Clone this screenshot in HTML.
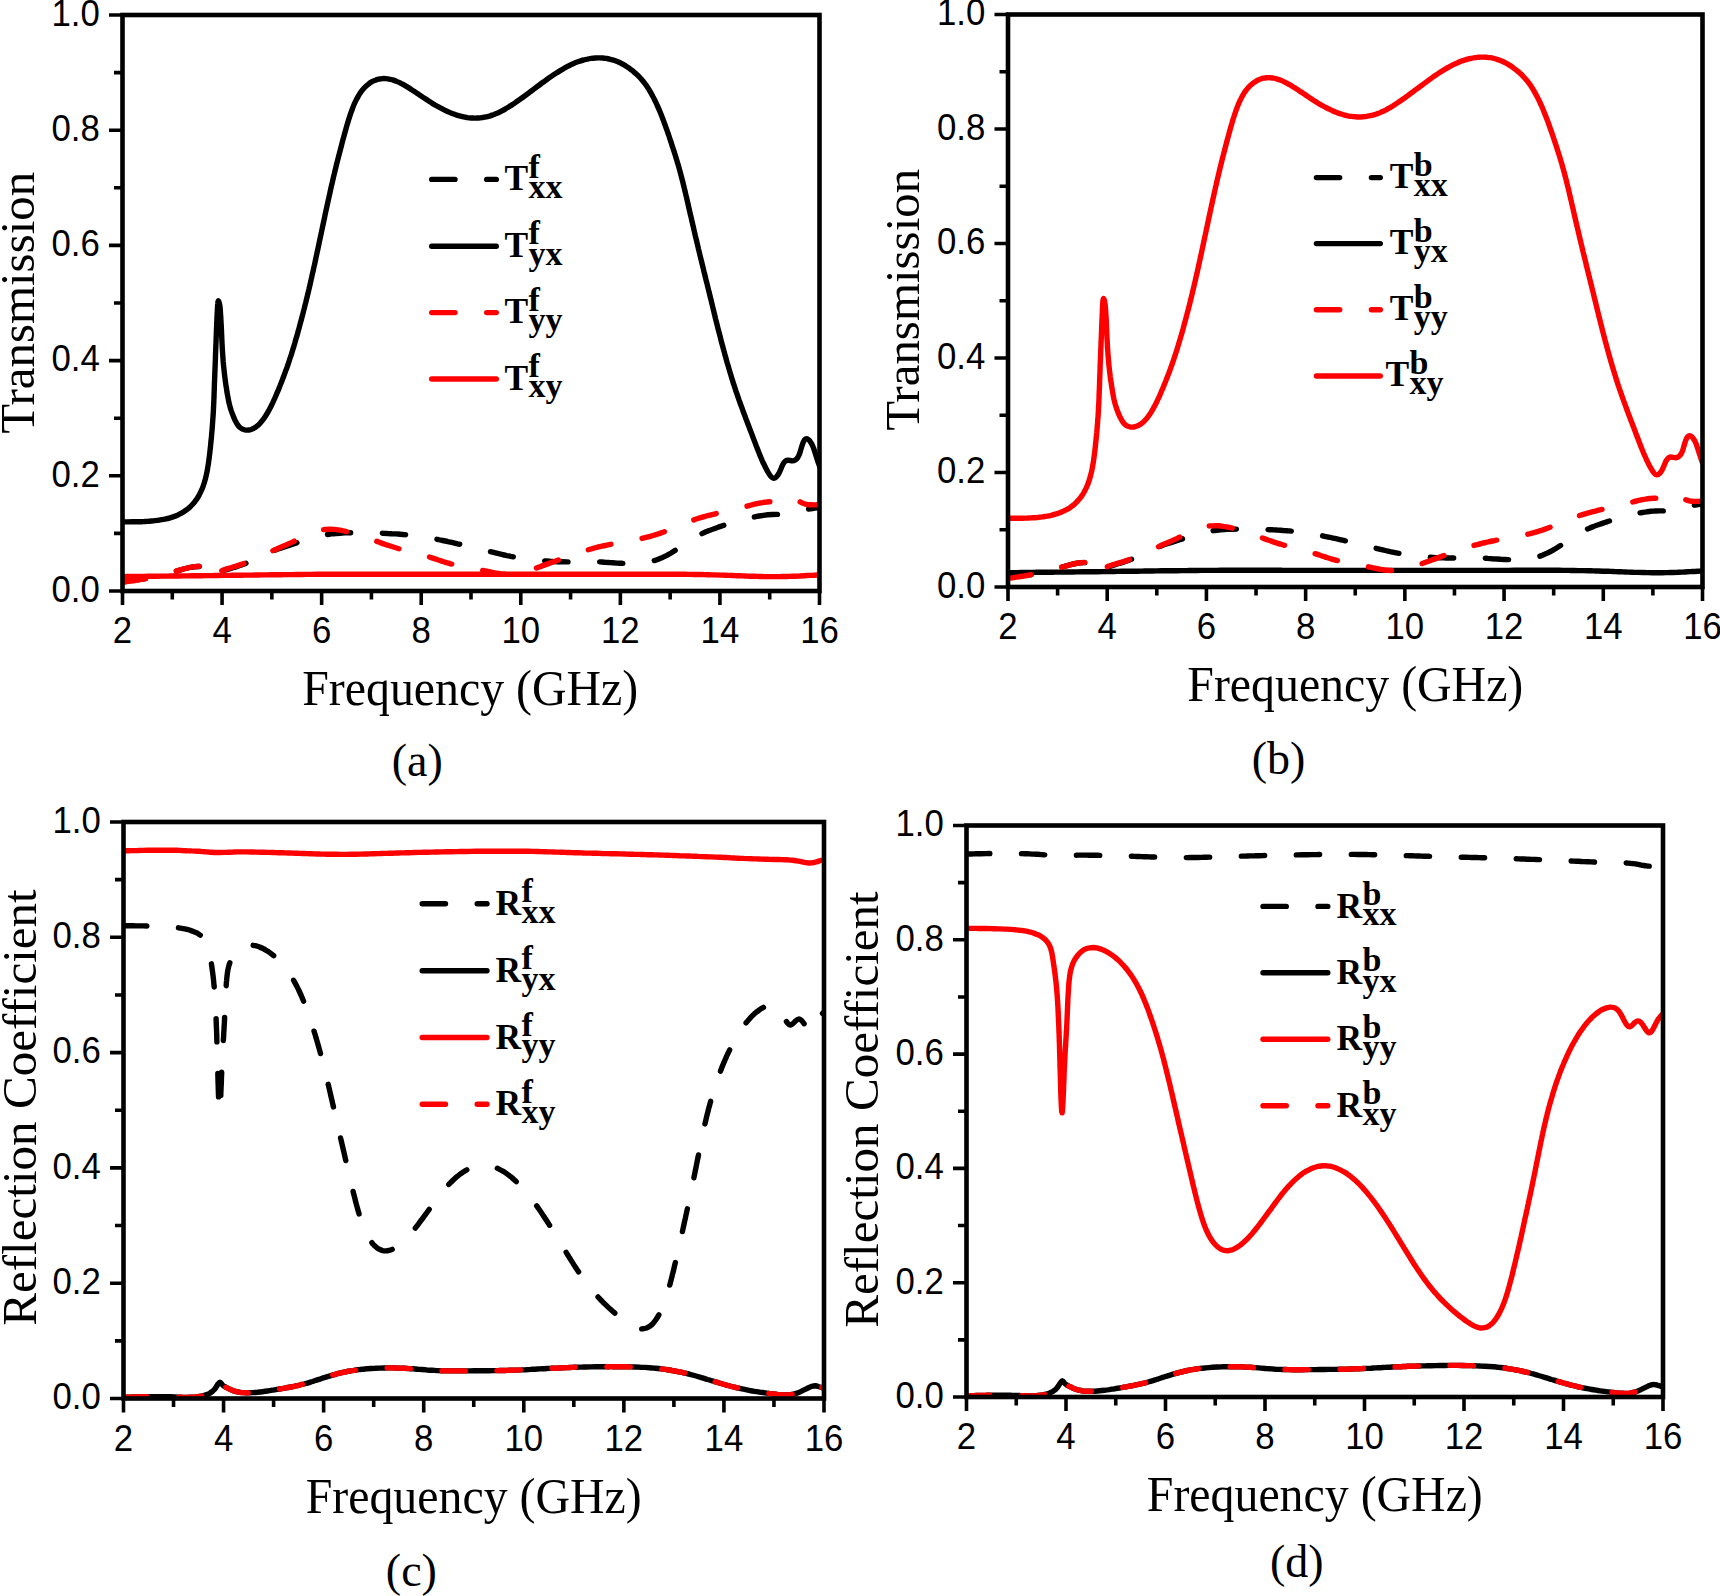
<!DOCTYPE html>
<html><head><meta charset="utf-8"><title>Transmission and Reflection Spectra</title>
<style>html,body{margin:0;padding:0;background:#fff;width:1720px;height:1596px;overflow:hidden}svg{display:block}</style>
</head><body>
<svg width="1720" height="1596" viewBox="0 0 1720 1596">
<rect width="1720" height="1596" fill="#fff"/>
<defs><clipPath id="clipa"><rect x="122.5" y="5" width="697" height="586"/></clipPath><clipPath id="clipb"><rect x="1008" y="4.5" width="694.5" height="582.5"/></clipPath><clipPath id="clipc"><rect x="123.5" y="812" width="700.5" height="586.5"/></clipPath><clipPath id="clipd"><rect x="966.5" y="815.5" width="696.5" height="581.5"/></clipPath></defs>
<g clip-path="url(#clipa)">
<path d="M122.50,580.63C124.2,580.5 125.8,580.4 127.5,580.3C129.2,580.2 130.8,580.1 132.5,579.9C134.2,579.8 135.8,579.7 137.5,579.5C139.1,579.3 140.8,579.2 142.4,579.0C144.1,578.7 145.7,578.5 147.4,578.3C149.0,578.0 150.6,577.7 152.2,577.4C153.7,577.1 155.3,576.8 156.9,576.4C158.5,576.0 160.1,575.7 161.6,575.3C163.2,574.9 164.8,574.4 166.4,574.0C167.9,573.6 169.5,573.1 171.1,572.7C172.6,572.2 174.2,571.7 175.8,571.3C177.4,570.8 179.0,570.3 180.6,569.8C182.2,569.3 183.8,568.9 185.4,568.5C187.1,568.1 188.7,567.7 190.3,567.4C191.9,567.1 193.5,566.8 195.2,566.7C196.8,566.5 198.4,566.4 200.1,566.5C201.6,566.5 203.2,566.7 204.8,566.9C206.4,567.2 208.0,567.5 209.6,567.9C210.7,568.2 211.8,568.5 212.7,569.0C213.7,569.4 214.5,570.0 215.1,570.9C215.5,571.6 215.8,572.4 216.1,573.2C216.4,574.1 216.7,574.9 217.2,575.5C217.6,576.0 218.1,576.4 218.5,576.4C219.4,576.3 219.7,574.1 220.6,572.7C221.6,571.3 223.1,570.7 224.5,570.2C226.1,569.7 227.7,569.2 229.2,568.8C230.8,568.3 232.3,567.9 233.9,567.4C235.4,567.0 236.9,566.5 238.5,566.0C240.0,565.5 241.5,565.0 243.0,564.5C244.4,564.0 245.7,563.4 247.1,562.8C248.5,562.2 249.8,561.6 251.2,561.0C252.5,560.3 253.9,559.7 255.2,559.0C256.6,558.3 257.9,557.7 259.3,557.0C260.6,556.3 262.0,555.7 263.3,555.0C264.7,554.4 266.1,553.8 267.4,553.1C268.9,552.5 270.3,551.9 271.8,551.3C273.3,550.7 274.7,550.2 276.2,549.7C277.7,549.1 279.2,548.6 280.7,548.1C282.2,547.6 283.7,547.1 285.2,546.6C286.7,546.1 288.2,545.6 289.7,545.1C291.2,544.6 292.7,544.2 294.2,543.7C295.6,543.2 297.0,542.8 298.3,542.3C299.7,541.9 301.1,541.4 302.4,541.0C303.8,540.5 305.2,540.1 306.5,539.6C307.9,539.2 309.3,538.8 310.7,538.4C312.0,538.0 313.4,537.6 314.8,537.2C316.2,536.8 317.6,536.5 319.0,536.1C320.4,535.8 321.8,535.5 323.2,535.2C324.5,535.0 325.9,534.7 327.3,534.5C328.7,534.3 330.1,534.1 331.5,533.9C332.9,533.8 334.3,533.6 335.8,533.5C337.2,533.4 338.6,533.3 340.0,533.2C341.4,533.1 342.8,533.0 344.3,532.9C345.7,532.9 347.1,532.8 348.5,532.8C350.0,532.8 351.4,532.7 352.9,532.7C354.3,532.7 355.8,532.7 357.2,532.7C358.6,532.7 360.1,532.7 361.5,532.7C363.0,532.7 364.4,532.7 365.9,532.8C367.3,532.8 368.8,532.8 370.2,532.8C371.7,532.9 373.1,532.9 374.6,533.0C376.0,533.0 377.5,533.1 378.9,533.1C380.3,533.2 381.7,533.2 383.1,533.3C384.5,533.3 386.0,533.4 387.4,533.5C388.8,533.5 390.2,533.6 391.6,533.7C393.0,533.7 394.4,533.8 395.8,533.9C397.2,534.0 398.7,534.1 400.1,534.2C401.5,534.3 402.9,534.4 404.3,534.6C405.9,534.7 407.5,534.9 409.1,535.1C410.7,535.2 412.3,535.4 413.9,535.6C415.6,535.8 417.2,536.0 418.8,536.3C420.4,536.5 422.0,536.7 423.6,537.0C425.2,537.2 426.8,537.5 428.4,537.7C430.0,538.0 431.6,538.3 433.2,538.6C434.8,538.9 436.4,539.2 438.1,539.5C439.7,539.9 441.3,540.2 442.9,540.5C444.6,540.9 446.2,541.2 447.8,541.6C449.5,541.9 451.1,542.3 452.7,542.6C454.3,543.0 455.9,543.4 457.6,543.8C459.2,544.1 460.8,544.5 462.4,544.9C464.0,545.2 465.6,545.6 467.2,546.0C468.8,546.4 470.4,546.8 472.0,547.2C473.6,547.5 475.2,547.9 476.8,548.3C478.4,548.7 480.0,549.1 481.6,549.5C483.2,549.9 484.8,550.3 486.4,550.7C487.8,551.0 489.1,551.4 490.5,551.7C491.8,552.0 493.2,552.4 494.5,552.7C495.9,553.0 497.2,553.4 498.6,553.7C500.0,554.0 501.3,554.3 502.7,554.6C504.0,555.0 505.4,555.3 506.7,555.6C508.1,555.8 509.5,556.1 510.8,556.4C512.5,556.7 514.1,557.0 515.7,557.3C517.3,557.6 518.9,557.9 520.6,558.1C522.2,558.4 523.8,558.6 525.5,558.8C527.1,559.0 528.7,559.3 530.4,559.5C532.0,559.7 533.6,559.8 535.3,560.0C536.9,560.2 538.6,560.3 540.2,560.5C541.7,560.6 543.1,560.7 544.6,560.9C546.1,561.0 547.5,561.1 549.0,561.2C550.5,561.3 551.9,561.4 553.4,561.5C554.8,561.5 556.3,561.6 557.8,561.7C559.3,561.7 560.7,561.8 562.2,561.8C563.7,561.8 565.1,561.8 566.6,561.9C568.2,561.9 569.8,561.9 571.4,561.8C573.0,561.8 574.6,561.8 576.2,561.8C577.8,561.8 579.4,561.7 581.0,561.7C582.6,561.7 584.2,561.7 585.8,561.6C587.4,561.6 589.1,561.6 590.7,561.6C592.3,561.7 593.9,561.7 595.5,561.7C596.9,561.8 598.3,561.8 599.8,561.9C601.2,562.0 602.7,562.1 604.1,562.2C605.5,562.3 607.0,562.4 608.4,562.5C609.8,562.6 611.3,562.7 612.7,562.8C614.2,562.9 615.6,563.0 617.0,563.1C618.5,563.2 619.9,563.3 621.4,563.3C622.7,563.4 624.1,563.5 625.5,563.5C626.8,563.5 628.2,563.6 629.6,563.6C630.9,563.6 632.3,563.6 633.7,563.5C635.0,563.5 636.4,563.4 637.8,563.4C639.1,563.3 640.3,563.2 641.6,563.1C642.9,562.9 644.2,562.8 645.4,562.6C646.7,562.4 648.0,562.2 649.2,561.9C650.8,561.6 652.3,561.2 653.8,560.7C655.3,560.3 656.8,559.8 658.3,559.2C659.8,558.6 661.2,558.0 662.7,557.4C664.1,556.7 665.5,556.0 666.9,555.3C668.3,554.5 669.7,553.8 671.1,553.0C672.4,552.2 673.7,551.4 675.0,550.5C676.3,549.7 677.6,548.9 678.9,548.0C680.1,547.1 681.4,546.3 682.7,545.4C683.9,544.5 685.2,543.7 686.5,542.8C687.7,541.9 689.0,541.1 690.3,540.3C691.6,539.4 692.8,538.6 694.1,537.8C695.4,537.0 696.8,536.3 698.1,535.6C699.4,534.9 700.7,534.2 702.0,533.6C703.3,533.0 704.6,532.4 705.9,531.8C707.3,531.3 708.6,530.7 710.0,530.2C711.3,529.7 712.7,529.2 714.1,528.7C715.5,528.2 716.8,527.7 718.2,527.2C719.6,526.8 721.0,526.3 722.4,525.8C723.9,525.3 725.5,524.8 727.0,524.3C728.5,523.9 730.1,523.4 731.6,522.9C733.2,522.4 734.7,522.0 736.3,521.5C737.8,521.1 739.4,520.6 740.9,520.2C742.5,519.8 744.0,519.4 745.6,519.0C747.2,518.6 748.7,518.2 750.3,517.8C751.8,517.5 753.2,517.2 754.7,516.9C756.1,516.6 757.6,516.3 759.0,516.0C760.5,515.8 761.9,515.6 763.4,515.4C764.9,515.2 766.4,515.0 767.8,514.8C769.3,514.7 770.8,514.6 772.2,514.5C773.7,514.4 775.2,514.4 776.7,514.4C777.6,514.4 778.5,514.4 779.4,514.4C780.3,514.4 781.3,514.4 782.2,514.4C783.7,514.3 785.3,514.2 786.8,514.0C788.3,513.7 789.8,513.4 791.4,513.1C792.9,512.8 794.4,512.4 795.9,512.0C797.5,511.6 799.0,511.3 800.5,510.9C802.0,510.5 803.5,510.1 805.1,509.8C806.7,509.4 808.3,509.1 809.9,508.9C811.5,508.6 813.1,508.4 814.7,508.1C816.3,507.9 817.9,507.7 819.5,507.5" fill="none" stroke="#000" stroke-width="5.4" stroke-linecap="round" stroke-linejoin="round" stroke-dasharray="23.3 31.7"/>
<path d="M122.50,521.89C124.2,521.9 125.9,521.9 127.5,521.9C129.2,521.9 130.9,521.9 132.6,521.8C134.2,521.8 135.9,521.8 137.6,521.8C138.9,521.7 140.2,521.7 141.5,521.7C142.8,521.6 144.1,521.6 145.4,521.5C146.7,521.4 148.0,521.3 149.3,521.2C150.6,521.1 151.9,521.0 153.2,520.9C154.7,520.8 156.1,520.6 157.5,520.4C158.9,520.2 160.4,520.0 161.8,519.7C163.2,519.5 164.6,519.2 166.0,518.9C167.4,518.6 168.8,518.2 170.1,517.8C171.4,517.4 172.6,517.0 173.8,516.6C175.0,516.2 176.2,515.7 177.4,515.2C178.7,514.6 180.0,513.9 181.3,513.2C182.5,512.5 183.8,511.8 185.0,510.9C185.8,510.4 186.7,509.7 187.5,509.1C188.3,508.5 189.1,507.8 189.9,507.1C190.8,506.2 191.7,505.3 192.6,504.3C193.5,503.4 194.3,502.4 195.1,501.3C195.9,500.3 196.6,499.3 197.3,498.2C198.0,497.1 198.6,496.0 199.3,494.8C199.9,493.7 200.5,492.5 201.0,491.3C201.5,490.3 201.9,489.2 202.4,488.2C202.8,487.1 203.2,486.0 203.6,484.9C204.0,483.8 204.3,482.7 204.6,481.6C205.1,480.1 205.5,478.6 205.8,477.2C206.2,475.7 206.5,474.2 206.8,472.8C207.1,471.3 207.4,469.8 207.6,468.3C207.9,466.8 208.1,465.3 208.4,463.7C208.6,462.2 208.8,460.7 209.0,459.1C209.2,457.6 209.4,456.1 209.6,454.5C209.8,453.0 210.0,451.4 210.1,449.9C210.3,448.4 210.5,446.8 210.6,445.3C210.8,443.8 210.9,442.4 211.0,441.0C211.2,439.6 211.3,438.1 211.5,436.7C211.6,435.3 211.7,433.9 211.8,432.4C212.0,431.0 212.1,429.6 212.2,428.1C212.3,426.7 212.4,425.3 212.5,423.9C212.6,422.4 212.7,421.0 212.8,419.6C212.9,418.2 213.0,416.7 213.1,415.3C213.2,413.8 213.3,412.4 213.4,410.9C213.4,409.4 213.5,407.9 213.6,406.5C213.7,405.0 213.7,403.5 213.8,402.0C213.8,400.6 213.9,399.1 214.0,397.6C214.0,396.1 214.1,394.6 214.1,393.1C214.2,391.7 214.2,390.2 214.3,388.7C214.3,387.2 214.4,385.7 214.4,384.2C214.5,382.6 214.6,381.1 214.6,379.6C214.7,377.9 214.7,376.3 214.8,374.6C214.8,372.9 214.9,371.2 215.0,369.5C215.0,367.8 215.1,366.2 215.2,364.5C215.2,362.8 215.3,361.1 215.4,359.5C215.4,357.8 215.5,356.2 215.5,354.5C215.6,352.9 215.7,351.3 215.7,349.7C215.8,348.1 215.9,346.5 215.9,345.0C216.0,343.5 216.0,341.9 216.1,340.5C216.1,339.1 216.2,337.8 216.2,336.5C216.3,335.2 216.3,333.9 216.4,332.6C216.4,331.3 216.5,330.0 216.5,328.7C216.6,327.3 216.7,325.9 216.7,324.5C216.8,323.1 216.8,321.6 216.9,320.0C217.0,318.5 217.0,316.8 217.1,315.1C217.2,313.4 217.3,311.6 217.4,309.7C217.5,307.5 217.6,305.2 217.8,303.5C217.9,301.8 218.2,300.7 218.5,300.9C218.8,301.1 219.0,301.7 219.2,302.5C219.6,303.7 219.8,305.1 220.0,306.7C220.1,308.3 220.3,309.9 220.4,311.6C220.5,313.4 220.6,315.1 220.7,316.8C220.9,318.5 220.9,320.2 221.0,321.8C221.1,323.4 221.2,325.0 221.3,326.6C221.3,328.1 221.4,329.7 221.5,331.2C221.5,332.8 221.6,334.3 221.7,335.8C221.7,337.4 221.8,338.9 221.9,340.4C221.9,341.8 222.0,343.2 222.1,344.6C222.2,346.0 222.2,347.4 222.3,348.9C222.4,350.3 222.5,351.7 222.6,353.1C222.7,354.6 222.8,356.0 222.9,357.4C223.0,358.9 223.1,360.3 223.2,361.8C223.4,363.2 223.5,364.6 223.6,366.1C223.8,367.5 223.9,369.0 224.1,370.4C224.2,371.9 224.4,373.3 224.6,374.8C224.7,376.3 224.9,377.7 225.1,379.2C225.3,380.6 225.5,382.1 225.7,383.6C225.9,385.0 226.1,386.5 226.4,387.9C226.6,389.4 226.8,390.8 227.0,392.3C227.3,393.9 227.6,395.5 227.9,397.1C228.2,398.7 228.5,400.3 228.8,401.9C229.2,403.5 229.6,405.1 230.0,406.7C230.3,407.8 230.7,408.9 231.0,410.0C231.4,411.2 231.8,412.3 232.2,413.4C232.6,414.5 233.0,415.6 233.5,416.7C234.1,418.1 234.6,419.4 235.3,420.7C235.9,422.0 236.6,423.3 237.3,424.4C238.1,425.5 238.9,426.5 239.9,427.4C240.7,428.2 241.7,428.8 242.7,429.2C243.7,429.7 244.7,430.0 245.8,430.1C246.9,430.2 247.9,430.2 249.0,430.0C250.0,429.9 251.1,429.6 252.1,429.1C253.1,428.7 254.1,428.2 255.0,427.6C256.0,427.0 256.9,426.3 257.8,425.5C258.7,424.7 259.5,423.9 260.3,423.0C261.4,421.8 262.4,420.5 263.4,419.2C264.4,417.8 265.3,416.4 266.2,415.0C267.1,413.5 268.0,412.0 268.8,410.5C269.5,409.3 270.1,408.1 270.7,406.8C271.4,405.6 272.0,404.3 272.6,403.1C273.2,401.8 273.8,400.5 274.3,399.3C274.9,398.0 275.4,396.7 276.0,395.5C276.5,394.2 277.0,393.0 277.6,391.8C278.1,390.6 278.6,389.3 279.1,388.1C279.6,386.9 280.1,385.7 280.5,384.5C281.0,383.3 281.5,382.0 282.0,380.8C282.6,379.3 283.1,377.8 283.7,376.4C284.2,374.9 284.8,373.4 285.3,371.9C285.9,370.4 286.4,368.9 287.0,367.4C287.5,366.0 288.0,364.5 288.5,363.1C289.0,361.6 289.5,360.1 289.9,358.7C290.4,357.2 290.9,355.8 291.4,354.3C291.8,353.1 292.1,351.8 292.5,350.6C292.9,349.4 293.3,348.2 293.7,346.9C294.0,345.7 294.4,344.5 294.8,343.2C295.1,342.0 295.5,340.7 295.8,339.5C296.2,338.2 296.6,336.9 297.0,335.6C297.3,334.3 297.7,332.9 298.1,331.6C298.4,330.3 298.8,329.0 299.2,327.7C299.5,326.3 299.9,325.0 300.2,323.7C300.6,322.3 301.0,320.9 301.4,319.5C301.7,318.1 302.1,316.7 302.5,315.3C302.8,314.0 303.2,312.6 303.5,311.2C303.9,309.8 304.3,308.4 304.6,307.0C305.0,305.4 305.4,303.9 305.8,302.4C306.1,300.9 306.5,299.3 306.9,297.8C307.3,296.3 307.6,294.7 308.0,293.2C308.4,291.7 308.7,290.1 309.1,288.6C309.4,287.1 309.8,285.5 310.2,284.0C310.5,282.5 310.9,280.9 311.2,279.4C311.6,277.9 311.9,276.3 312.2,274.8C312.6,273.3 312.9,271.7 313.3,270.2C313.6,268.6 313.9,267.1 314.3,265.6C314.6,264.0 315.0,262.5 315.3,261.0C315.6,259.4 316.0,257.9 316.3,256.3C316.6,254.8 317.0,253.2 317.3,251.6C317.6,250.1 318.0,248.5 318.3,246.9C318.6,245.4 319.0,243.8 319.3,242.2C319.6,240.7 320.0,239.1 320.3,237.5C320.6,236.0 321.0,234.4 321.3,232.8C321.6,231.3 322.0,229.7 322.3,228.1C322.6,226.6 322.9,225.0 323.3,223.5C323.6,222.0 323.9,220.4 324.3,218.9C324.6,217.4 324.9,215.8 325.2,214.3C325.6,212.8 325.9,211.2 326.2,209.7C326.6,208.1 326.9,206.6 327.2,205.1C327.6,203.5 327.9,202.0 328.2,200.5C328.6,199.0 328.9,197.5 329.2,196.0C329.6,194.5 329.9,193.0 330.2,191.4C330.6,189.9 330.9,188.4 331.2,186.9C331.6,185.4 331.9,183.9 332.3,182.4C332.6,180.9 333.0,179.4 333.3,177.9C333.7,176.4 334.0,174.9 334.4,173.4C334.7,171.9 335.1,170.4 335.5,168.8C335.9,167.3 336.2,165.7 336.6,164.2C337.0,162.7 337.4,161.1 337.8,159.6C338.2,158.0 338.6,156.5 339.0,155.0C339.4,153.4 339.8,151.9 340.2,150.3C340.6,148.8 341.0,147.2 341.4,145.7C341.8,144.1 342.2,142.6 342.6,141.0C343.0,139.5 343.5,137.9 343.9,136.3C344.3,134.8 344.7,133.2 345.2,131.7C345.6,130.0 346.1,128.4 346.5,126.8C347.0,125.2 347.5,123.5 348.0,121.9C348.4,120.3 349.0,118.7 349.5,117.1C350.0,115.4 350.5,113.8 351.1,112.2C351.6,110.9 352.1,109.5 352.6,108.2C353.1,106.9 353.6,105.5 354.2,104.2C354.8,102.9 355.4,101.6 356.0,100.4C356.6,99.1 357.3,97.9 358.0,96.6C358.7,95.4 359.4,94.3 360.2,93.1C360.9,92.0 361.7,90.9 362.6,89.8C363.5,88.8 364.4,87.8 365.3,86.8C366.3,85.8 367.4,84.9 368.5,84.1C369.6,83.2 370.8,82.4 372.0,81.7C373.1,81.2 374.2,80.6 375.3,80.2C376.5,79.7 377.6,79.4 378.8,79.1C380.0,78.9 381.1,78.7 382.2,78.6C383.4,78.5 384.5,78.5 385.7,78.6C386.9,78.7 388.0,78.8 389.2,79.1C390.4,79.3 391.5,79.6 392.7,79.9C393.9,80.3 395.1,80.7 396.2,81.2C397.4,81.6 398.5,82.2 399.7,82.7C400.9,83.3 402.1,83.9 403.3,84.5C404.4,85.2 405.6,85.9 406.8,86.6C408.0,87.3 409.2,88.0 410.3,88.8C411.5,89.5 412.7,90.3 413.8,91.1C415.0,91.9 416.1,92.6 417.3,93.4C418.4,94.2 419.6,95.0 420.7,95.7C421.9,96.5 423.1,97.3 424.2,98.1C425.4,98.9 426.6,99.7 427.8,100.4C428.9,101.2 430.1,101.9 431.3,102.7C432.4,103.4 433.6,104.1 434.8,104.8C435.9,105.4 436.9,106.1 438.0,106.7C439.1,107.3 440.2,107.9 441.3,108.4C442.4,109.0 443.5,109.6 444.7,110.2C445.8,110.7 447.0,111.3 448.1,111.8C449.3,112.3 450.5,112.8 451.6,113.3C452.9,113.8 454.3,114.3 455.6,114.7C456.9,115.2 458.2,115.6 459.5,115.9C460.9,116.3 462.2,116.6 463.6,116.9C464.8,117.2 466.1,117.4 467.3,117.6C468.6,117.7 469.9,117.9 471.1,118.0C472.4,118.0 473.7,118.1 474.9,118.1C476.2,118.1 477.5,118.0 478.8,118.0C480.1,117.9 481.3,117.7 482.6,117.5C483.9,117.3 485.1,117.1 486.4,116.8C487.7,116.5 489.0,116.2 490.3,115.8C491.6,115.4 492.8,114.9 494.1,114.5C495.4,114.0 496.6,113.4 497.8,112.9C499.2,112.3 500.6,111.6 501.9,110.9C503.3,110.2 504.6,109.4 505.9,108.6C507.2,107.9 508.5,107.1 509.8,106.2C511.2,105.4 512.5,104.5 513.8,103.7C515.1,102.8 516.3,101.9 517.6,101.0C518.9,100.1 520.2,99.2 521.5,98.3C522.7,97.4 524.0,96.4 525.3,95.5C526.6,94.5 527.8,93.6 529.1,92.7C530.4,91.7 531.6,90.8 532.9,89.8C534.2,88.8 535.5,87.9 536.8,86.9C538.1,85.9 539.4,85.0 540.7,84.0C542.0,83.0 543.4,82.1 544.7,81.1C545.9,80.2 547.2,79.2 548.5,78.3C549.8,77.4 551.1,76.5 552.4,75.6C553.7,74.7 555.0,73.9 556.4,73.0C557.6,72.2 558.9,71.4 560.2,70.6C561.5,69.8 562.8,69.0 564.1,68.3C565.4,67.5 566.8,66.8 568.1,66.1C569.4,65.5 570.6,64.9 571.9,64.3C573.2,63.7 574.5,63.1 575.8,62.6C577.1,62.1 578.5,61.6 579.8,61.2C581.1,60.7 582.3,60.3 583.6,60.0C584.9,59.6 586.2,59.3 587.5,59.1C588.8,58.8 590.1,58.6 591.4,58.4C592.7,58.2 593.9,58.1 595.2,58.0C596.5,57.9 597.7,57.9 599.0,57.9C600.3,57.9 601.5,57.9 602.8,58.0C604.1,58.1 605.3,58.3 606.6,58.5C607.9,58.7 609.1,59.0 610.3,59.3C611.6,59.6 612.8,59.9 614.0,60.3C615.3,60.8 616.6,61.3 617.9,61.8C619.2,62.4 620.5,63.0 621.7,63.6C622.7,64.2 623.7,64.7 624.7,65.3C625.6,65.9 626.6,66.5 627.5,67.1C628.5,67.8 629.4,68.4 630.3,69.1C631.5,70.0 632.7,70.9 633.9,71.9C635.0,72.9 636.2,73.9 637.3,74.9C638.3,75.9 639.3,76.9 640.3,78.0C641.2,79.0 642.2,80.1 643.1,81.2C644.0,82.3 644.8,83.5 645.7,84.6C646.5,85.8 647.3,87.0 648.1,88.1C649.0,89.5 649.8,90.9 650.6,92.3C651.4,93.7 652.2,95.1 652.9,96.5C653.7,97.9 654.4,99.4 655.1,100.8C655.8,102.3 656.5,103.7 657.1,105.2C657.8,106.6 658.4,108.0 659.0,109.4C659.6,110.8 660.2,112.3 660.8,113.7C661.3,115.1 661.9,116.5 662.5,118.0C663.0,119.4 663.6,120.9 664.1,122.3C664.6,123.8 665.2,125.2 665.7,126.7C666.2,128.0 666.7,129.4 667.2,130.8C667.6,132.2 668.1,133.5 668.6,134.9C669.1,136.3 669.5,137.7 670.0,139.1C670.5,140.5 670.9,141.9 671.4,143.2C671.8,144.6 672.3,146.0 672.7,147.4C673.2,148.8 673.7,150.3 674.1,151.7C674.6,153.1 675.0,154.5 675.5,156.0C675.9,157.4 676.3,158.8 676.8,160.3C677.2,161.7 677.6,163.1 678.1,164.6C678.5,166.0 678.9,167.4 679.3,168.9C679.7,170.3 680.1,171.8 680.5,173.2C680.9,174.7 681.3,176.1 681.6,177.6C682.0,179.0 682.4,180.5 682.8,181.9C683.1,183.4 683.5,184.8 683.8,186.3C684.2,187.8 684.6,189.2 684.9,190.7C685.3,192.2 685.6,193.7 686.0,195.3C686.4,196.8 686.7,198.3 687.1,199.9C687.4,201.4 687.8,202.9 688.1,204.5C688.5,206.0 688.8,207.6 689.2,209.1C689.5,210.6 689.9,212.2 690.2,213.7C690.6,215.2 690.9,216.6 691.3,218.1C691.6,219.5 691.9,221.0 692.3,222.5C692.6,223.9 692.9,225.4 693.3,226.8C693.6,228.3 694.0,229.8 694.3,231.2C694.6,232.7 695.0,234.1 695.3,235.6C695.7,237.1 696.0,238.6 696.4,240.1C696.7,241.6 697.1,243.1 697.5,244.6C697.8,246.1 698.2,247.6 698.5,249.1C698.9,250.6 699.3,252.1 699.6,253.6C700.0,255.1 700.3,256.6 700.7,258.1C701.0,259.5 701.4,260.9 701.7,262.3C702.1,263.8 702.4,265.2 702.8,266.6C703.1,268.0 703.5,269.4 703.8,270.9C704.2,272.3 704.5,273.7 704.9,275.1C705.2,276.5 705.6,278.0 705.9,279.4C706.3,280.8 706.6,282.2 707.0,283.5C707.3,284.9 707.6,286.3 708.0,287.7C708.3,289.1 708.7,290.5 709.0,291.8C709.4,293.2 709.7,294.6 710.0,296.0C710.4,297.4 710.7,298.8 711.1,300.1C711.4,301.7 711.8,303.2 712.2,304.8C712.5,306.3 712.9,307.8 713.3,309.4C713.7,310.9 714.0,312.4 714.4,314.0C714.8,315.5 715.2,317.1 715.5,318.6C715.9,320.1 716.3,321.7 716.7,323.2C717.1,324.7 717.4,326.2 717.8,327.7C718.2,329.2 718.6,330.8 719.0,332.3C719.4,333.8 719.8,335.3 720.2,336.8C720.5,338.3 720.9,339.8 721.3,341.3C721.7,342.7 722.0,344.0 722.4,345.3C722.8,346.7 723.1,348.0 723.5,349.3C723.8,350.7 724.2,352.0 724.6,353.3C724.9,354.6 725.3,356.0 725.7,357.3C726.1,358.8 726.5,360.3 726.9,361.8C727.4,363.4 727.8,364.9 728.3,366.4C728.7,367.9 729.1,369.4 729.6,370.9C730.0,372.4 730.5,373.9 731.0,375.4C731.4,376.8 731.8,378.3 732.3,379.7C732.7,381.1 733.2,382.5 733.6,383.9C734.1,385.3 734.5,386.7 735.0,388.2C735.5,389.6 735.9,391.0 736.4,392.4C736.8,393.6 737.3,394.9 737.7,396.1C738.1,397.4 738.6,398.6 739.0,399.9C739.4,401.1 739.9,402.4 740.3,403.6C740.8,404.8 741.2,406.1 741.7,407.3C742.3,408.9 742.8,410.4 743.4,412.0C744.0,413.5 744.6,415.1 745.1,416.6C745.7,418.1 746.3,419.7 746.9,421.2C747.5,422.7 748.0,424.3 748.6,425.8C749.2,427.3 749.8,428.8 750.3,430.3C750.9,431.8 751.5,433.3 752.1,434.9C752.6,436.3 753.1,437.7 753.7,439.1C754.2,440.5 754.7,441.9 755.3,443.3C755.8,444.7 756.3,446.1 756.9,447.5C757.4,448.9 758.0,450.3 758.5,451.7C759.1,453.0 759.6,454.5 760.2,455.9C760.8,457.3 761.4,458.7 762.0,460.1C762.6,461.4 763.2,462.8 763.9,464.1C764.5,465.5 765.2,466.9 765.9,468.2C766.6,469.6 767.4,471.1 768.2,472.5C769.0,473.9 769.9,475.3 770.8,476.4C771.7,477.5 772.7,478.2 773.7,478.3C774.6,478.3 775.5,477.7 776.4,476.8C777.3,476.0 778.1,474.8 778.8,473.6C779.4,472.4 779.9,471.3 780.4,470.2C780.9,469.0 781.3,467.9 781.7,466.8C782.2,465.7 782.7,464.6 783.3,463.6C783.8,462.8 784.4,462.0 785.1,461.3C785.8,460.7 786.6,460.3 787.5,460.2C788.3,460.1 789.1,460.3 790.0,460.5C790.9,460.7 791.8,460.9 792.7,460.9C793.5,460.9 794.3,460.6 795.0,460.2C795.7,459.8 796.3,459.2 796.9,458.6C797.7,457.7 798.3,456.7 798.8,455.5C799.4,454.4 799.8,453.2 800.2,451.9C800.6,450.6 800.9,449.1 801.4,447.6C801.8,446.2 802.3,444.7 802.8,443.3C803.3,442.0 803.9,440.8 804.5,439.9C805.2,439.1 805.9,438.6 806.7,438.6C807.4,438.7 808.1,439.1 808.8,439.8C809.4,440.5 810.1,441.4 810.7,442.3C811.5,443.4 812.1,444.6 812.6,445.8C813.1,447.0 813.6,448.2 814.0,449.4C814.4,450.6 814.8,451.9 815.2,453.1C815.5,454.2 815.8,455.3 816.2,456.3C816.5,457.4 816.9,458.5 817.2,459.5C817.6,460.6 817.9,461.7 818.3,462.7C818.7,463.8 819.1,464.9 819.5,466.0" fill="none" stroke="#000" stroke-width="5.4" stroke-linecap="round" stroke-linejoin="round"/>
<path d="M122.50,582.36C123.9,582.2 125.3,582.0 126.7,581.7C128.0,581.5 129.4,581.3 130.8,581.1C132.2,580.9 133.6,580.7 135.0,580.5C136.4,580.3 137.7,580.0 139.1,579.8C140.5,579.6 141.9,579.3 143.3,579.1C144.6,578.8 146.0,578.6 147.4,578.3C149.0,578.0 150.6,577.7 152.1,577.3C153.7,577.0 155.3,576.6 156.9,576.3C158.5,575.9 160.0,575.5 161.6,575.1C163.2,574.7 164.8,574.3 166.3,573.9C167.9,573.5 169.5,573.0 171.1,572.6C172.6,572.2 174.2,571.7 175.8,571.3C177.4,570.8 179.0,570.3 180.6,569.8C182.2,569.4 183.8,568.9 185.4,568.5C187.1,568.1 188.7,567.7 190.3,567.4C191.9,567.0 193.5,566.8 195.2,566.6C196.8,566.4 198.4,566.3 200.1,566.2C201.6,566.2 203.2,566.3 204.8,566.5C206.4,566.7 208.0,567.0 209.6,567.4C210.7,567.7 211.8,568.0 212.7,568.4C213.7,568.9 214.5,569.5 215.1,570.3C215.6,571.0 215.9,571.9 216.1,572.8C216.4,573.7 216.7,574.7 217.2,575.6C217.6,576.3 218.1,576.9 218.5,576.9C219.3,577.0 219.3,574.4 220.1,572.7C220.6,571.8 221.2,571.2 222.0,570.7C222.8,570.3 223.7,570.0 224.5,569.7C226.1,569.1 227.7,568.7 229.3,568.2C230.8,567.7 232.4,567.3 233.9,566.8C235.4,566.3 237.0,565.9 238.5,565.4C240.0,564.9 241.5,564.4 243.0,563.9C244.4,563.4 245.7,562.9 247.1,562.3C248.5,561.8 249.8,561.2 251.2,560.6C252.5,560.0 253.9,559.4 255.2,558.8C256.6,558.2 258.0,557.5 259.3,556.9C260.6,556.3 262.0,555.6 263.3,555.0C264.7,554.4 266.1,553.7 267.4,553.1C268.8,552.5 270.2,551.8 271.6,551.2C273.0,550.6 274.4,550.0 275.8,549.4C277.3,548.8 278.7,548.2 280.1,547.6C281.5,547.0 282.9,546.4 284.3,545.7C285.7,545.1 287.1,544.5 288.5,543.8C289.9,543.2 291.3,542.5 292.7,541.9C294.0,541.2 295.4,540.6 296.7,539.9C298.0,539.2 299.3,538.6 300.6,537.9C301.9,537.3 303.2,536.6 304.5,536.0C305.9,535.3 307.2,534.7 308.5,534.1C309.8,533.6 311.2,533.0 312.5,532.5C313.9,532.0 315.2,531.6 316.6,531.1C318.0,530.7 319.3,530.4 320.7,530.1C322.2,529.8 323.7,529.6 325.1,529.5C326.6,529.4 328.1,529.3 329.6,529.3C331.1,529.3 332.5,529.3 334.0,529.4C335.4,529.6 336.8,529.7 338.2,529.9C339.6,530.1 341.0,530.4 342.4,530.7C343.8,530.9 345.1,531.2 346.5,531.6C348.1,532.0 349.6,532.4 351.2,532.8C352.7,533.2 354.2,533.7 355.8,534.1C357.3,534.6 358.8,535.1 360.3,535.6C361.9,536.1 363.4,536.6 364.9,537.1C366.4,537.6 367.9,538.2 369.4,538.7C370.9,539.2 372.4,539.8 373.9,540.3C375.5,540.9 377.0,541.4 378.6,542.0C380.1,542.6 381.7,543.1 383.2,543.7C384.8,544.2 386.4,544.8 387.9,545.3C389.5,545.8 391.0,546.3 392.6,546.8C394.2,547.3 395.8,547.8 397.3,548.3C398.9,548.8 400.5,549.2 402.1,549.6C403.7,550.1 405.3,550.5 406.9,550.9C408.5,551.3 410.1,551.7 411.8,552.1C413.4,552.5 415.0,552.9 416.6,553.3C418.2,553.8 419.8,554.2 421.4,554.6C423.0,555.1 424.6,555.5 426.2,556.0C427.5,556.4 428.9,556.8 430.2,557.3C431.6,557.7 433.0,558.2 434.3,558.6C435.7,559.1 437.0,559.5 438.4,560.0C439.7,560.4 441.1,560.9 442.4,561.3C443.8,561.8 445.2,562.2 446.5,562.6C447.9,563.0 449.2,563.4 450.6,563.8C452.2,564.2 453.8,564.6 455.4,565.0C457.0,565.3 458.5,565.7 460.1,566.0C461.7,566.3 463.3,566.6 465.0,566.9C466.6,567.3 468.2,567.5 469.8,567.8C471.4,568.1 473.0,568.4 474.6,568.7C476.2,569.1 477.8,569.4 479.5,569.7C480.9,570.0 482.3,570.3 483.7,570.6C485.1,570.9 486.5,571.2 487.9,571.5C489.3,571.8 490.8,572.1 492.2,572.4C493.6,572.7 495.0,573.0 496.4,573.2C497.8,573.5 499.2,573.7 500.7,573.9C502.1,574.0 503.5,574.2 504.9,574.3C506.1,574.4 507.3,574.4 508.5,574.4C509.7,574.4 510.9,574.4 512.1,574.4C513.3,574.3 514.5,574.2 515.7,574.0C517.2,573.8 518.6,573.5 520.0,573.2C521.5,572.9 522.9,572.5 524.3,572.1C525.7,571.7 527.1,571.2 528.5,570.8C529.9,570.3 531.3,569.8 532.7,569.3C534.1,568.8 535.5,568.3 536.8,567.8C538.2,567.4 539.5,566.9 540.9,566.4C542.3,565.9 543.6,565.4 545.0,564.9C546.3,564.4 547.7,563.9 549.0,563.4C550.4,562.9 551.7,562.4 553.1,561.9C554.4,561.4 555.8,561.0 557.1,560.5C558.7,559.9 560.2,559.3 561.7,558.7C563.3,558.2 564.8,557.6 566.4,557.0C567.9,556.5 569.5,555.9 571.0,555.4C572.6,554.8 574.1,554.3 575.7,553.8C577.2,553.2 578.8,552.7 580.3,552.2C581.9,551.7 583.4,551.2 585.0,550.7C586.4,550.3 587.8,549.9 589.2,549.5C590.6,549.1 592.0,548.7 593.4,548.3C594.8,547.9 596.2,547.6 597.6,547.2C599.0,546.9 600.5,546.5 601.9,546.2C603.3,545.9 604.7,545.6 606.1,545.3C607.6,545.0 609.0,544.7 610.4,544.4C612.0,544.1 613.6,543.8 615.1,543.5C616.7,543.2 618.3,542.9 619.9,542.7C621.4,542.4 623.0,542.1 624.6,541.8C626.2,541.6 627.8,541.3 629.3,541.0C630.9,540.7 632.5,540.4 634.1,540.1C635.6,539.8 637.2,539.5 638.8,539.2C640.2,538.9 641.5,538.6 642.9,538.2C644.3,537.9 645.6,537.6 647.0,537.2C648.4,536.9 649.7,536.5 651.1,536.1C652.4,535.7 653.8,535.3 655.1,534.9C656.5,534.5 657.8,534.0 659.2,533.6C660.5,533.1 661.8,532.7 663.1,532.2C664.5,531.7 665.8,531.2 667.2,530.6C668.5,530.1 669.8,529.6 671.2,529.0C672.5,528.4 673.8,527.9 675.1,527.3C676.5,526.8 677.8,526.2 679.1,525.6C680.4,525.1 681.7,524.5 683.1,524.0C684.4,523.4 685.7,522.9 687.1,522.3C688.4,521.8 689.7,521.3 691.1,520.8C692.5,520.3 694.0,519.8 695.4,519.3C696.8,518.8 698.3,518.4 699.8,517.9C701.2,517.5 702.7,517.1 704.1,516.6C705.6,516.2 707.1,515.8 708.6,515.4C710.0,515.1 711.5,514.7 713.0,514.3C714.5,514.0 715.9,513.6 717.4,513.2C718.9,512.9 720.5,512.5 722.0,512.2C723.5,511.8 725.0,511.5 726.6,511.1C728.1,510.8 729.6,510.4 731.1,510.1C732.6,509.7 734.2,509.4 735.7,509.0C737.2,508.6 738.7,508.3 740.2,507.9C741.8,507.5 743.3,507.1 744.8,506.7C746.3,506.4 747.7,506.0 749.2,505.6C750.6,505.2 752.1,504.8 753.5,504.4C755.0,504.1 756.5,503.7 757.9,503.4C759.4,503.1 760.9,502.8 762.3,502.6C763.8,502.3 765.3,502.1 766.8,502.0C768.2,501.8 769.7,501.7 771.2,501.7C772.4,501.7 773.6,501.8 774.9,501.8C776.1,501.8 777.3,501.8 778.5,501.7C779.7,501.6 781.0,501.5 782.2,501.1C783.3,500.8 784.4,500.4 785.6,499.9C786.7,499.5 787.8,499.1 788.9,498.7C790.0,498.4 791.1,498.2 792.1,498.3C793.2,498.3 794.3,498.7 795.4,499.2C796.5,499.7 797.6,500.3 798.7,501.0C799.8,501.7 800.9,502.3 802.1,502.9C803.4,503.5 804.8,504.0 806.2,504.3C807.7,504.6 809.1,504.8 810.6,504.8C812.0,504.9 813.5,504.9 815.0,504.9C816.5,504.8 818.0,504.7 819.5,504.6" fill="none" stroke="#ff0000" stroke-width="5.4" stroke-linecap="round" stroke-linejoin="round" stroke-dasharray="23.3 31.7"/>
<path d="M122.50,576.60C124.2,576.6 125.8,576.6 127.5,576.5C129.1,576.5 130.8,576.5 132.5,576.5C134.1,576.5 135.8,576.4 137.4,576.4C139.1,576.4 140.8,576.4 142.4,576.4C144.1,576.4 145.7,576.3 147.4,576.3C149.1,576.3 150.7,576.3 152.4,576.3C154.0,576.2 155.7,576.2 157.4,576.2C159.0,576.2 160.7,576.2 162.3,576.1C164.0,576.1 165.6,576.1 167.3,576.1C169.0,576.1 170.6,576.0 172.3,576.0C173.9,576.0 175.6,576.0 177.3,576.0C178.9,576.0 180.6,575.9 182.2,575.9C183.9,575.9 185.6,575.9 187.2,575.9C188.9,575.8 190.5,575.8 192.2,575.8C193.9,575.8 195.5,575.8 197.2,575.7C198.8,575.7 200.5,575.7 202.2,575.7C203.8,575.7 205.5,575.6 207.1,575.6C208.8,575.6 210.5,575.6 212.1,575.6C213.8,575.6 215.4,575.5 217.1,575.5C218.8,575.5 220.4,575.5 222.1,575.4C223.7,575.4 225.4,575.4 227.0,575.4C228.7,575.4 230.4,575.3 232.0,575.3C233.7,575.3 235.3,575.3 237.0,575.3C238.7,575.2 240.3,575.2 242.0,575.2C243.6,575.2 245.3,575.1 247.0,575.1C248.6,575.1 250.3,575.1 251.9,575.1C253.6,575.0 255.3,575.0 256.9,575.0C258.6,575.0 260.2,574.9 261.9,574.9C263.6,574.9 265.2,574.9 266.9,574.9C268.5,574.8 270.2,574.8 271.9,574.8C273.5,574.8 275.2,574.8 276.8,574.7C278.5,574.7 280.2,574.7 281.8,574.7C283.5,574.7 285.1,574.6 286.8,574.6C288.5,574.6 290.1,574.6 291.8,574.6C293.4,574.5 295.1,574.5 296.7,574.5C298.4,574.5 300.1,574.5 301.7,574.5C303.4,574.4 305.0,574.4 306.7,574.4C308.4,574.4 310.0,574.4 311.7,574.4C313.3,574.4 315.0,574.4 316.7,574.3C318.3,574.3 320.0,574.3 321.6,574.3C323.3,574.3 325.0,574.3 326.6,574.3C328.3,574.3 329.9,574.3 331.6,574.3C333.3,574.3 334.9,574.2 336.6,574.2C338.2,574.2 339.9,574.2 341.6,574.2C343.2,574.2 344.9,574.2 346.5,574.2C348.2,574.2 349.9,574.2 351.5,574.2C353.2,574.2 354.8,574.2 356.5,574.2C358.2,574.2 359.8,574.2 361.5,574.2C363.1,574.2 364.8,574.2 366.4,574.2C368.1,574.2 369.8,574.2 371.4,574.2C373.1,574.2 374.7,574.2 376.4,574.2C378.1,574.2 379.7,574.2 381.4,574.2C383.0,574.2 384.7,574.2 386.4,574.2C388.0,574.2 389.7,574.2 391.3,574.2C393.0,574.2 394.7,574.2 396.3,574.2C398.0,574.2 399.6,574.2 401.3,574.3C403.0,574.3 404.6,574.3 406.3,574.3C407.9,574.3 409.6,574.3 411.3,574.3C412.9,574.3 414.6,574.3 416.2,574.3C417.9,574.3 419.6,574.3 421.2,574.3C422.9,574.3 424.5,574.3 426.2,574.3C427.9,574.3 429.5,574.3 431.2,574.3C432.8,574.3 434.5,574.3 436.2,574.3C437.8,574.3 439.5,574.3 441.1,574.3C442.8,574.3 444.4,574.3 446.1,574.3C447.8,574.3 449.4,574.3 451.1,574.3C452.7,574.3 454.4,574.3 456.1,574.3C457.7,574.3 459.4,574.3 461.0,574.3C462.7,574.3 464.4,574.3 466.0,574.3C467.7,574.3 469.3,574.3 471.0,574.3C472.7,574.3 474.3,574.3 476.0,574.3C477.6,574.3 479.3,574.3 481.0,574.3C482.6,574.3 484.3,574.3 485.9,574.3C487.6,574.3 489.3,574.3 490.9,574.3C492.6,574.3 494.2,574.3 495.9,574.3C497.6,574.3 499.2,574.3 500.9,574.3C502.5,574.3 504.2,574.3 505.9,574.3C507.5,574.3 509.2,574.3 510.8,574.3C512.5,574.3 514.1,574.3 515.8,574.3C517.5,574.3 519.1,574.3 520.8,574.3C522.4,574.3 524.1,574.3 525.8,574.3C527.4,574.3 529.1,574.3 530.7,574.3C532.4,574.3 534.1,574.3 535.7,574.3C537.4,574.3 539.0,574.3 540.7,574.3C542.4,574.3 544.0,574.3 545.7,574.3C547.3,574.3 549.0,574.3 550.7,574.3C552.3,574.3 554.0,574.3 555.6,574.3C557.3,574.3 559.0,574.3 560.6,574.3C562.3,574.3 563.9,574.3 565.6,574.3C567.3,574.3 568.9,574.3 570.6,574.3C572.2,574.3 573.9,574.3 575.5,574.3C577.2,574.3 578.9,574.3 580.5,574.3C582.2,574.3 583.8,574.3 585.5,574.3C587.2,574.3 588.8,574.3 590.5,574.3C592.1,574.3 593.8,574.3 595.5,574.3C597.1,574.3 598.8,574.3 600.4,574.3C602.1,574.3 603.8,574.3 605.4,574.3C607.1,574.3 608.7,574.3 610.4,574.3C612.1,574.3 613.7,574.3 615.4,574.3C617.0,574.3 618.7,574.3 620.4,574.3C622.0,574.3 623.7,574.3 625.3,574.3C627.0,574.2 628.7,574.2 630.3,574.2C632.0,574.2 633.6,574.2 635.3,574.2C637.0,574.2 638.6,574.2 640.3,574.2C641.9,574.2 643.6,574.2 645.3,574.2C646.9,574.2 648.6,574.2 650.2,574.2C651.9,574.2 653.5,574.2 655.2,574.2C656.9,574.2 658.5,574.2 660.2,574.2C661.8,574.2 663.5,574.2 665.2,574.2C666.8,574.2 668.5,574.2 670.1,574.2C671.8,574.2 673.5,574.2 675.1,574.2C676.8,574.3 678.4,574.3 680.1,574.3C681.8,574.3 683.4,574.3 685.1,574.3C686.7,574.3 688.4,574.4 690.1,574.4C691.7,574.4 693.4,574.4 695.0,574.5C696.7,574.5 698.4,574.5 700.0,574.5C701.7,574.6 703.3,574.6 705.0,574.6C706.7,574.7 708.3,574.7 710.0,574.8C711.6,574.8 713.3,574.9 715.0,574.9C716.6,574.9 718.3,575.0 719.9,575.1C721.6,575.1 723.2,575.2 724.9,575.2C726.6,575.3 728.2,575.4 729.9,575.4C731.5,575.5 733.2,575.5 734.9,575.6C736.5,575.7 738.2,575.7 739.8,575.8C741.5,575.9 743.2,575.9 744.8,576.0C746.5,576.1 748.1,576.1 749.8,576.2C751.5,576.2 753.1,576.3 754.8,576.3C756.4,576.4 758.1,576.4 759.8,576.5C761.4,576.5 763.1,576.5 764.7,576.6C766.4,576.6 768.1,576.6 769.7,576.6C771.4,576.6 773.0,576.6 774.7,576.6C776.4,576.6 778.0,576.6 779.7,576.6C781.3,576.6 783.0,576.5 784.7,576.5C786.3,576.5 788.0,576.4 789.6,576.4C791.3,576.3 792.9,576.3 794.6,576.2C796.3,576.1 797.9,576.0 799.6,576.0C801.2,575.9 802.9,575.8 804.6,575.7C806.2,575.6 807.9,575.5 809.5,575.4C811.2,575.4 812.9,575.3 814.5,575.2C816.2,575.1 817.8,575.0 819.5,574.9" fill="none" stroke="#ff0000" stroke-width="5.4" stroke-linecap="round" stroke-linejoin="round"/>
</g>
<rect x="122.5" y="15" width="697" height="576" fill="none" stroke="#000" stroke-width="4.6"/>
<path d="M122.5 591V605M172.29 591V599.6M222.07 591V605M271.86 591V599.6M321.64 591V605M371.43 591V599.6M421.21 591V605M471 591V599.6M520.79 591V605M570.57 591V599.6M620.36 591V605M670.14 591V599.6M719.93 591V605M769.71 591V599.6M819.5 591V605M122.5 591H109M122.5 533.4H114M122.5 475.8H109M122.5 418.2H114M122.5 360.6H109M122.5 303H114M122.5 245.4H109M122.5 187.8H114M122.5 130.2H109M122.5 72.6H114M122.5 15H109" stroke="#000" stroke-width="3.6" fill="none"/>
<g font-family="'Liberation Sans', Arial, sans-serif" font-size="37" fill="#000">
<text transform="translate(122.5 642.8) scale(0.94 1)" text-anchor="middle">2</text>
<text transform="translate(222.07 642.8) scale(0.94 1)" text-anchor="middle">4</text>
<text transform="translate(321.64 642.8) scale(0.94 1)" text-anchor="middle">6</text>
<text transform="translate(421.21 642.8) scale(0.94 1)" text-anchor="middle">8</text>
<text transform="translate(520.79 642.8) scale(0.94 1)" text-anchor="middle">10</text>
<text transform="translate(620.36 642.8) scale(0.94 1)" text-anchor="middle">12</text>
<text transform="translate(719.93 642.8) scale(0.94 1)" text-anchor="middle">14</text>
<text transform="translate(819.5 642.8) scale(0.94 1)" text-anchor="middle">16</text>
<text transform="translate(99.8 601.8) scale(0.94 1)" text-anchor="end">0.0</text>
<text transform="translate(99.8 486.6) scale(0.94 1)" text-anchor="end">0.2</text>
<text transform="translate(99.8 371.4) scale(0.94 1)" text-anchor="end">0.4</text>
<text transform="translate(99.8 256.2) scale(0.94 1)" text-anchor="end">0.6</text>
<text transform="translate(99.8 141) scale(0.94 1)" text-anchor="end">0.8</text>
<text transform="translate(99.8 25.8) scale(0.94 1)" text-anchor="end">1.0</text>
</g>
<text x="470.25" y="704.8" font-family="'Liberation Serif', 'Times New Roman', serif" font-size="50" text-anchor="middle" textLength="336" lengthAdjust="spacingAndGlyphs">Frequency (GHz)</text>
<text transform="translate(33.8 302.75) rotate(-90)" font-family="'Liberation Serif', 'Times New Roman', serif" font-size="49" text-anchor="middle" textLength="262" lengthAdjust="spacingAndGlyphs" style="font-variant-ligatures:none">Transmission</text>
<text x="417.25" y="776.4" font-family="'Liberation Serif', 'Times New Roman', serif" font-size="46" text-anchor="middle">(a)</text>
<path d="M431.7 179.4H496.3" stroke="#000" stroke-width="5.4" stroke-linecap="round" stroke-dasharray="23.3 31.7"/>
<path d="M431.7 246.3H496.3" stroke="#000" stroke-width="5.4" stroke-linecap="round"/>
<path d="M431.7 312.6H496.3" stroke="#ff0000" stroke-width="5.4" stroke-linecap="round" stroke-dasharray="23.3 31.7"/>
<path d="M431.7 379H496.3" stroke="#ff0000" stroke-width="5.4" stroke-linecap="round"/>
<g font-family="'Liberation Serif', 'Times New Roman', serif" font-weight="bold" fill="#000">
<text x="504.6" y="190" font-size="35.5">T</text>
<text x="528.58" y="177.5" font-size="34">f</text>
<text x="528.58" y="197.8" font-size="34">xx</text>
<text x="504.6" y="256.9" font-size="35.5">T</text>
<text x="528.58" y="244.4" font-size="34">f</text>
<text x="528.58" y="264.7" font-size="34">yx</text>
<text x="504.6" y="323.2" font-size="35.5">T</text>
<text x="528.58" y="310.7" font-size="34">f</text>
<text x="528.58" y="331" font-size="34">yy</text>
<text x="504.6" y="389.6" font-size="35.5">T</text>
<text x="528.58" y="377.1" font-size="34">f</text>
<text x="528.58" y="397.4" font-size="34">xy</text>
</g>
<g clip-path="url(#clipb)">
<path d="M1008.00,576.70C1009.7,576.6 1011.3,576.5 1013.0,576.4C1014.6,576.3 1016.3,576.1 1018.0,576.0C1019.6,575.9 1021.3,575.7 1022.9,575.6C1024.6,575.4 1026.2,575.2 1027.9,575.0C1029.5,574.8 1031.2,574.6 1032.8,574.3C1034.4,574.1 1036.0,573.8 1037.5,573.5C1039.1,573.2 1040.7,572.8 1042.3,572.5C1043.9,572.1 1045.4,571.7 1047.0,571.3C1048.6,570.9 1050.1,570.5 1051.7,570.1C1053.3,569.7 1054.8,569.2 1056.4,568.8C1058.0,568.3 1059.5,567.9 1061.1,567.4C1062.7,566.9 1064.3,566.4 1065.9,565.9C1067.5,565.5 1069.1,565.0 1070.7,564.6C1072.3,564.2 1073.9,563.8 1075.6,563.5C1077.2,563.2 1078.8,563.0 1080.4,562.8C1082.0,562.7 1083.6,562.6 1085.3,562.6C1086.8,562.7 1088.4,562.8 1090.0,563.1C1091.6,563.3 1093.2,563.7 1094.8,564.1C1095.9,564.4 1096.9,564.7 1097.9,565.1C1098.8,565.6 1099.7,566.2 1100.2,567.0C1101.1,568.4 1101.4,570.4 1102.4,571.6C1102.8,572.1 1103.2,572.5 1103.6,572.5C1104.5,572.4 1104.9,570.2 1105.8,568.8C1106.7,567.4 1108.2,566.9 1109.7,566.4C1111.2,565.8 1112.8,565.4 1114.3,564.9C1115.9,564.4 1117.4,564.0 1119.0,563.5C1120.5,563.1 1122.0,562.6 1123.5,562.2C1125.1,561.7 1126.6,561.2 1128.0,560.6C1129.4,560.1 1130.8,559.6 1132.2,559.0C1133.5,558.4 1134.9,557.8 1136.2,557.1C1137.6,556.5 1138.9,555.9 1140.3,555.2C1141.6,554.5 1142.9,553.9 1144.3,553.2C1145.6,552.6 1147.0,551.9 1148.3,551.3C1149.7,550.6 1151.0,550.0 1152.4,549.4C1153.9,548.7 1155.3,548.1 1156.8,547.6C1158.2,547.0 1159.7,546.4 1161.2,545.9C1162.7,545.4 1164.1,544.8 1165.6,544.3C1167.1,543.8 1168.6,543.3 1170.1,542.9C1171.6,542.4 1173.1,541.9 1174.6,541.4C1176.1,540.9 1177.6,540.4 1179.1,539.9C1180.5,539.5 1181.8,539.1 1183.2,538.6C1184.6,538.2 1185.9,537.7 1187.3,537.3C1188.7,536.8 1190.0,536.4 1191.4,535.9C1192.8,535.5 1194.1,535.1 1195.5,534.7C1196.9,534.3 1198.2,533.9 1199.6,533.5C1201.0,533.1 1202.4,532.8 1203.8,532.5C1205.2,532.1 1206.5,531.8 1207.9,531.6C1209.3,531.3 1210.7,531.1 1212.1,530.8C1213.5,530.6 1214.9,530.4 1216.3,530.3C1217.7,530.1 1219.1,530.0 1220.5,529.8C1221.9,529.7 1223.3,529.6 1224.7,529.5C1226.1,529.4 1227.5,529.4 1229.0,529.3C1230.4,529.2 1231.8,529.2 1233.2,529.2C1234.6,529.1 1236.1,529.1 1237.5,529.1C1239.0,529.0 1240.4,529.0 1241.9,529.0C1243.3,529.0 1244.7,529.0 1246.2,529.0C1247.6,529.1 1249.1,529.1 1250.5,529.1C1252.0,529.1 1253.4,529.2 1254.8,529.2C1256.3,529.2 1257.7,529.3 1259.2,529.3C1260.6,529.4 1262.0,529.4 1263.5,529.5C1264.9,529.5 1266.3,529.6 1267.7,529.6C1269.1,529.7 1270.5,529.7 1271.9,529.8C1273.3,529.9 1274.7,529.9 1276.1,530.0C1277.5,530.1 1279.0,530.2 1280.4,530.3C1281.8,530.4 1283.2,530.5 1284.6,530.6C1286.0,530.7 1287.4,530.8 1288.8,530.9C1290.4,531.1 1292.0,531.2 1293.6,531.4C1295.2,531.6 1296.8,531.8 1298.4,532.0C1300.0,532.1 1301.6,532.4 1303.2,532.6C1304.8,532.8 1306.4,533.0 1308.0,533.3C1309.6,533.5 1311.2,533.8 1312.8,534.1C1314.4,534.3 1316.0,534.6 1317.5,534.9C1319.2,535.2 1320.8,535.5 1322.4,535.8C1324.1,536.2 1325.7,536.5 1327.3,536.8C1328.9,537.2 1330.5,537.5 1332.2,537.9C1333.8,538.2 1335.4,538.6 1337.0,538.9C1338.6,539.3 1340.2,539.7 1341.9,540.0C1343.5,540.4 1345.1,540.8 1346.7,541.2C1348.3,541.5 1349.9,541.9 1351.5,542.3C1353.1,542.7 1354.7,543.0 1356.3,543.4C1357.9,543.8 1359.5,544.2 1361.1,544.6C1362.6,545.0 1364.2,545.4 1365.8,545.7C1367.4,546.1 1369.0,546.5 1370.6,546.9C1372.2,547.3 1373.9,547.7 1375.5,548.1C1377.1,548.5 1378.7,548.9 1380.3,549.3C1381.9,549.7 1383.6,550.1 1385.2,550.5C1386.8,550.9 1388.4,551.2 1390.1,551.6C1391.7,551.9 1393.3,552.3 1394.9,552.6C1396.6,552.9 1398.2,553.2 1399.8,553.5C1401.4,553.8 1403.0,554.1 1404.6,554.3C1406.3,554.6 1407.9,554.8 1409.5,555.0C1411.1,555.2 1412.8,555.5 1414.4,555.6C1416.0,555.8 1417.7,556.0 1419.3,556.2C1420.9,556.4 1422.6,556.5 1424.2,556.7C1425.7,556.8 1427.1,556.9 1428.6,557.0C1430.0,557.2 1431.5,557.3 1433.0,557.4C1434.4,557.5 1435.9,557.6 1437.3,557.6C1438.8,557.7 1440.3,557.8 1441.7,557.8C1443.2,557.9 1444.6,557.9 1446.1,558.0C1447.6,558.0 1449.0,558.0 1450.5,558.0C1452.1,558.0 1453.7,558.0 1455.3,558.0C1456.9,558.0 1458.5,558.0 1460.1,558.0C1461.7,557.9 1463.3,557.9 1464.9,557.9C1466.5,557.9 1468.1,557.8 1469.7,557.8C1471.3,557.8 1472.9,557.8 1474.5,557.8C1476.1,557.8 1477.7,557.9 1479.3,557.9C1480.7,558.0 1482.1,558.0 1483.6,558.1C1485.0,558.2 1486.4,558.3 1487.9,558.4C1489.3,558.4 1490.7,558.5 1492.2,558.7C1493.6,558.8 1495.0,558.9 1496.5,559.0C1497.9,559.1 1499.3,559.2 1500.8,559.3C1502.2,559.3 1503.6,559.4 1505.1,559.5C1506.4,559.6 1507.8,559.6 1509.2,559.7C1510.5,559.7 1511.9,559.7 1513.2,559.7C1514.6,559.7 1516.0,559.7 1517.3,559.7C1518.7,559.7 1520.1,559.6 1521.4,559.5C1522.7,559.4 1524.0,559.4 1525.3,559.2C1526.5,559.1 1527.8,559.0 1529.1,558.8C1530.3,558.6 1531.6,558.4 1532.8,558.1C1534.4,557.8 1535.9,557.4 1537.4,556.9C1538.9,556.5 1540.4,556.0 1541.9,555.4C1543.3,554.8 1544.8,554.2 1546.2,553.6C1547.7,552.9 1549.1,552.2 1550.5,551.5C1551.9,550.8 1553.2,550.0 1554.6,549.2C1555.9,548.4 1557.2,547.6 1558.5,546.8C1559.8,546.0 1561.1,545.1 1562.4,544.3C1563.6,543.4 1564.9,542.5 1566.2,541.7C1567.4,540.8 1568.7,539.9 1569.9,539.1C1571.2,538.2 1572.5,537.4 1573.7,536.6C1575.0,535.7 1576.3,534.9 1577.6,534.1C1578.9,533.4 1580.2,532.6 1581.5,531.9C1582.8,531.2 1584.1,530.6 1585.4,530.0C1586.7,529.3 1588.0,528.7 1589.4,528.2C1590.7,527.6 1592.0,527.1 1593.4,526.6C1594.7,526.0 1596.1,525.5 1597.5,525.0C1598.8,524.5 1600.2,524.1 1601.6,523.6C1603.0,523.1 1604.3,522.7 1605.7,522.2C1607.3,521.7 1608.8,521.2 1610.3,520.8C1611.9,520.3 1613.4,519.8 1614.9,519.3C1616.5,518.8 1618.0,518.4 1619.6,517.9C1621.1,517.5 1622.7,517.0 1624.2,516.6C1625.8,516.2 1627.3,515.8 1628.9,515.4C1630.4,515.0 1632.0,514.6 1633.6,514.3C1635.0,513.9 1636.4,513.6 1637.9,513.3C1639.3,513.0 1640.8,512.8 1642.2,512.5C1643.7,512.3 1645.2,512.0 1646.6,511.8C1648.1,511.6 1649.5,511.4 1651.0,511.3C1652.5,511.2 1653.9,511.1 1655.4,511.0C1656.9,510.9 1658.4,510.9 1659.8,510.9C1660.7,510.9 1661.7,510.9 1662.6,510.9C1663.5,510.9 1664.4,510.9 1665.3,510.9C1666.8,510.8 1668.4,510.6 1669.9,510.4C1671.4,510.2 1673.0,509.9 1674.5,509.6C1676.0,509.3 1677.5,508.9 1679.0,508.5C1680.5,508.1 1682.0,507.7 1683.6,507.4C1685.1,507.0 1686.6,506.6 1688.1,506.3C1689.7,505.9 1691.3,505.6 1692.9,505.4C1694.5,505.1 1696.1,504.9 1697.7,504.6C1699.3,504.4 1700.9,504.2 1702.5,504.0" fill="none" stroke="#000" stroke-width="5.4" stroke-linecap="round" stroke-linejoin="round" stroke-dasharray="23.3 31.7"/>
<path d="M1008.00,572.69C1009.7,572.7 1011.3,572.6 1013.0,572.6C1014.6,572.6 1016.3,572.6 1017.9,572.6C1019.6,572.6 1021.2,572.5 1022.9,572.5C1024.5,572.5 1026.2,572.5 1027.8,572.5C1029.5,572.4 1031.2,572.4 1032.8,572.4C1034.5,572.4 1036.1,572.4 1037.8,572.3C1039.4,572.3 1041.1,572.3 1042.7,572.3C1044.4,572.3 1046.0,572.3 1047.7,572.2C1049.3,572.2 1051.0,572.2 1052.6,572.2C1054.3,572.2 1056.0,572.1 1057.6,572.1C1059.3,572.1 1060.9,572.1 1062.6,572.1C1064.2,572.0 1065.9,572.0 1067.5,572.0C1069.2,572.0 1070.8,572.0 1072.5,572.0C1074.1,571.9 1075.8,571.9 1077.5,571.9C1079.1,571.9 1080.8,571.9 1082.4,571.8C1084.1,571.8 1085.7,571.8 1087.4,571.8C1089.0,571.8 1090.7,571.7 1092.3,571.7C1094.0,571.7 1095.6,571.7 1097.3,571.7C1098.9,571.6 1100.6,571.6 1102.3,571.6C1103.9,571.6 1105.6,571.6 1107.2,571.5C1108.9,571.5 1110.5,571.5 1112.2,571.5C1113.8,571.5 1115.5,571.4 1117.1,571.4C1118.8,571.4 1120.4,571.4 1122.1,571.3C1123.7,571.3 1125.4,571.3 1127.1,571.3C1128.7,571.3 1130.4,571.2 1132.0,571.2C1133.7,571.2 1135.3,571.2 1137.0,571.2C1138.6,571.1 1140.3,571.1 1141.9,571.1C1143.6,571.1 1145.2,571.0 1146.9,571.0C1148.6,571.0 1150.2,571.0 1151.9,571.0C1153.5,570.9 1155.2,570.9 1156.8,570.9C1158.5,570.9 1160.1,570.9 1161.8,570.8C1163.4,570.8 1165.1,570.8 1166.7,570.8C1168.4,570.8 1170.0,570.7 1171.7,570.7C1173.4,570.7 1175.0,570.7 1176.7,570.7C1178.3,570.6 1180.0,570.6 1181.6,570.6C1183.3,570.6 1184.9,570.6 1186.6,570.6C1188.2,570.6 1189.9,570.5 1191.5,570.5C1193.2,570.5 1194.9,570.5 1196.5,570.5C1198.2,570.5 1199.8,570.5 1201.5,570.4C1203.1,570.4 1204.8,570.4 1206.4,570.4C1208.1,570.4 1209.7,570.4 1211.4,570.4C1213.0,570.4 1214.7,570.4 1216.3,570.4C1218.0,570.4 1219.7,570.4 1221.3,570.3C1223.0,570.3 1224.6,570.3 1226.3,570.3C1227.9,570.3 1229.6,570.3 1231.2,570.3C1232.9,570.3 1234.5,570.3 1236.2,570.3C1237.8,570.3 1239.5,570.3 1241.2,570.3C1242.8,570.3 1244.5,570.3 1246.1,570.3C1247.8,570.3 1249.4,570.3 1251.1,570.3C1252.7,570.3 1254.4,570.3 1256.0,570.3C1257.7,570.3 1259.3,570.3 1261.0,570.3C1262.6,570.3 1264.3,570.3 1266.0,570.3C1267.6,570.3 1269.3,570.3 1270.9,570.3C1272.6,570.3 1274.2,570.3 1275.9,570.3C1277.5,570.3 1279.2,570.3 1280.8,570.3C1282.5,570.3 1284.1,570.4 1285.8,570.4C1287.5,570.4 1289.1,570.4 1290.8,570.4C1292.4,570.4 1294.1,570.4 1295.7,570.4C1297.4,570.4 1299.0,570.4 1300.7,570.4C1302.3,570.4 1304.0,570.4 1305.6,570.4C1307.3,570.4 1308.9,570.4 1310.6,570.4C1312.3,570.4 1313.9,570.4 1315.6,570.4C1317.2,570.4 1318.9,570.4 1320.5,570.4C1322.2,570.4 1323.8,570.4 1325.5,570.4C1327.1,570.4 1328.8,570.4 1330.4,570.4C1332.1,570.4 1333.8,570.4 1335.4,570.4C1337.1,570.4 1338.7,570.4 1340.4,570.4C1342.0,570.4 1343.7,570.4 1345.3,570.4C1347.0,570.4 1348.6,570.4 1350.3,570.4C1351.9,570.4 1353.6,570.4 1355.3,570.4C1356.9,570.4 1358.6,570.4 1360.2,570.4C1361.9,570.4 1363.5,570.4 1365.2,570.4C1366.8,570.4 1368.5,570.4 1370.1,570.4C1371.8,570.4 1373.4,570.4 1375.1,570.4C1376.7,570.4 1378.4,570.4 1380.1,570.4C1381.7,570.4 1383.4,570.4 1385.0,570.4C1386.7,570.4 1388.3,570.4 1390.0,570.4C1391.6,570.4 1393.3,570.4 1394.9,570.4C1396.6,570.4 1398.2,570.4 1399.9,570.4C1401.5,570.4 1403.2,570.4 1404.9,570.4C1406.5,570.4 1408.2,570.4 1409.8,570.4C1411.5,570.4 1413.1,570.4 1414.8,570.4C1416.4,570.4 1418.1,570.4 1419.7,570.4C1421.4,570.4 1423.0,570.4 1424.7,570.4C1426.4,570.4 1428.0,570.4 1429.7,570.4C1431.3,570.4 1433.0,570.4 1434.6,570.4C1436.3,570.4 1437.9,570.4 1439.6,570.4C1441.2,570.4 1442.9,570.4 1444.5,570.4C1446.2,570.4 1447.8,570.4 1449.5,570.4C1451.2,570.4 1452.8,570.4 1454.5,570.4C1456.1,570.4 1457.8,570.4 1459.4,570.4C1461.1,570.4 1462.7,570.4 1464.4,570.4C1466.0,570.4 1467.7,570.4 1469.3,570.4C1471.0,570.4 1472.7,570.4 1474.3,570.4C1476.0,570.4 1477.6,570.4 1479.3,570.4C1480.9,570.4 1482.6,570.4 1484.2,570.4C1485.9,570.4 1487.5,570.4 1489.2,570.4C1490.8,570.4 1492.5,570.4 1494.1,570.4C1495.8,570.4 1497.5,570.4 1499.1,570.4C1500.8,570.4 1502.4,570.4 1504.1,570.4C1505.7,570.4 1507.4,570.4 1509.0,570.4C1510.7,570.3 1512.3,570.3 1514.0,570.3C1515.6,570.3 1517.3,570.3 1519.0,570.3C1520.6,570.3 1522.3,570.3 1523.9,570.3C1525.6,570.3 1527.2,570.3 1528.9,570.3C1530.5,570.3 1532.2,570.3 1533.8,570.3C1535.5,570.3 1537.1,570.3 1538.8,570.3C1540.5,570.3 1542.1,570.3 1543.8,570.3C1545.4,570.3 1547.1,570.3 1548.7,570.3C1550.4,570.3 1552.0,570.3 1553.7,570.3C1555.3,570.3 1557.0,570.3 1558.6,570.3C1560.3,570.4 1561.9,570.4 1563.6,570.4C1565.3,570.4 1566.9,570.4 1568.6,570.4C1570.2,570.4 1571.9,570.5 1573.5,570.5C1575.2,570.5 1576.8,570.5 1578.5,570.6C1580.1,570.6 1581.8,570.6 1583.4,570.6C1585.1,570.7 1586.8,570.7 1588.4,570.7C1590.1,570.8 1591.7,570.8 1593.4,570.9C1595.0,570.9 1596.7,571.0 1598.3,571.0C1600.0,571.0 1601.6,571.1 1603.3,571.2C1604.9,571.2 1606.6,571.3 1608.2,571.3C1609.9,571.4 1611.6,571.4 1613.2,571.5C1614.9,571.6 1616.5,571.6 1618.2,571.7C1619.8,571.8 1621.5,571.8 1623.1,571.9C1624.8,572.0 1626.4,572.0 1628.1,572.1C1629.7,572.1 1631.4,572.2 1633.1,572.3C1634.7,572.3 1636.4,572.4 1638.0,572.4C1639.7,572.5 1641.3,572.5 1643.0,572.5C1644.6,572.6 1646.3,572.6 1647.9,572.6C1649.6,572.7 1651.2,572.7 1652.9,572.7C1654.5,572.7 1656.2,572.7 1657.9,572.7C1659.5,572.7 1661.2,572.7 1662.8,572.7C1664.5,572.7 1666.1,572.6 1667.8,572.6C1669.4,572.6 1671.1,572.5 1672.7,572.5C1674.4,572.4 1676.0,572.3 1677.7,572.3C1679.4,572.2 1681.0,572.1 1682.7,572.1C1684.3,572.0 1686.0,571.9 1687.6,571.8C1689.3,571.7 1690.9,571.6 1692.6,571.5C1694.2,571.5 1695.9,571.4 1697.5,571.3C1699.2,571.2 1700.8,571.1 1702.5,571.0" fill="none" stroke="#000" stroke-width="5.4" stroke-linecap="round" stroke-linejoin="round"/>
<path d="M1008.00,578.41C1009.4,578.2 1010.8,578.0 1012.1,577.8C1013.5,577.6 1014.9,577.4 1016.3,577.2C1017.7,577.0 1019.1,576.8 1020.4,576.5C1021.8,576.3 1023.2,576.1 1024.6,575.9C1025.9,575.6 1027.3,575.4 1028.7,575.1C1030.1,574.9 1031.4,574.6 1032.8,574.4C1034.4,574.1 1036.0,573.7 1037.5,573.4C1039.1,573.1 1040.7,572.7 1042.3,572.3C1043.8,572.0 1045.4,571.6 1047.0,571.2C1048.5,570.8 1050.1,570.4 1051.7,570.0C1053.2,569.6 1054.8,569.2 1056.4,568.7C1057.9,568.3 1059.5,567.8 1061.1,567.4C1062.7,566.9 1064.3,566.4 1065.9,566.0C1067.5,565.5 1069.1,565.1 1070.7,564.6C1072.3,564.2 1073.9,563.8 1075.6,563.5C1077.2,563.2 1078.8,562.9 1080.4,562.7C1082.0,562.5 1083.7,562.4 1085.3,562.4C1086.9,562.4 1088.4,562.4 1090.0,562.6C1091.6,562.8 1093.2,563.1 1094.8,563.5C1095.9,563.8 1097.0,564.1 1097.9,564.6C1098.8,565.0 1099.7,565.6 1100.2,566.4C1100.7,567.1 1101.0,568.0 1101.3,568.9C1101.6,569.9 1101.9,570.8 1102.4,571.7C1102.7,572.4 1103.3,573.0 1103.6,573.0C1104.4,573.1 1104.5,570.5 1105.3,568.8C1105.7,567.9 1106.4,567.3 1107.2,566.8C1107.9,566.4 1108.8,566.1 1109.7,565.8C1111.3,565.3 1112.8,564.8 1114.4,564.3C1115.9,563.9 1117.5,563.4 1119.0,562.9C1120.5,562.5 1122.0,562.0 1123.6,561.6C1125.1,561.1 1126.6,560.6 1128.0,560.1C1129.4,559.6 1130.8,559.1 1132.2,558.5C1133.5,558.0 1134.9,557.4 1136.2,556.8C1137.6,556.2 1138.9,555.6 1140.3,555.0C1141.6,554.4 1143.0,553.7 1144.3,553.1C1145.7,552.5 1147.0,551.8 1148.3,551.2C1149.7,550.6 1151.0,550.0 1152.4,549.3C1153.8,548.7 1155.2,548.1 1156.6,547.5C1158.0,546.9 1159.4,546.3 1160.8,545.6C1162.2,545.0 1163.6,544.4 1165.0,543.8C1166.4,543.2 1167.8,542.6 1169.2,542.0C1170.6,541.4 1172.0,540.8 1173.4,540.1C1174.8,539.5 1176.2,538.8 1177.6,538.2C1178.9,537.5 1180.2,536.9 1181.5,536.2C1182.8,535.5 1184.1,534.9 1185.5,534.2C1186.8,533.6 1188.1,532.9 1189.4,532.3C1190.7,531.7 1192.0,531.1 1193.3,530.5C1194.7,529.9 1196.0,529.4 1197.3,528.9C1198.7,528.4 1200.0,527.9 1201.4,527.5C1202.8,527.1 1204.1,526.8 1205.5,526.5C1207.0,526.2 1208.4,526.0 1209.9,525.9C1211.4,525.7 1212.8,525.7 1214.3,525.7C1215.8,525.6 1217.3,525.7 1218.8,525.8C1220.2,525.9 1221.6,526.1 1222.9,526.3C1224.3,526.5 1225.7,526.7 1227.1,527.0C1228.5,527.3 1229.8,527.6 1231.2,527.9C1232.8,528.3 1234.3,528.7 1235.8,529.1C1237.4,529.6 1238.9,530.0 1240.4,530.5C1241.9,530.9 1243.5,531.4 1245.0,531.9C1246.5,532.4 1248.0,532.9 1249.5,533.4C1251.0,533.9 1252.5,534.5 1254.0,535.0C1255.5,535.5 1257.0,536.1 1258.5,536.6C1260.1,537.2 1261.6,537.7 1263.2,538.3C1264.7,538.9 1266.3,539.4 1267.8,540.0C1269.4,540.5 1270.9,541.0 1272.5,541.6C1274.0,542.1 1275.6,542.6 1277.1,543.1C1278.7,543.6 1280.3,544.1 1281.9,544.5C1283.4,545.0 1285.0,545.5 1286.6,545.9C1288.2,546.3 1289.8,546.7 1291.4,547.1C1293.0,547.5 1294.6,547.9 1296.2,548.4C1297.8,548.8 1299.4,549.2 1301.0,549.6C1302.6,550.0 1304.2,550.4 1305.8,550.8C1307.4,551.3 1309.0,551.7 1310.6,552.2C1311.9,552.6 1313.3,553.0 1314.6,553.5C1316.0,553.9 1317.3,554.4 1318.7,554.8C1320.0,555.3 1321.4,555.7 1322.7,556.2C1324.1,556.6 1325.4,557.1 1326.8,557.5C1328.1,557.9 1329.5,558.4 1330.9,558.8C1332.2,559.2 1333.6,559.6 1334.9,559.9C1336.5,560.4 1338.1,560.8 1339.7,561.1C1341.3,561.5 1342.8,561.8 1344.4,562.2C1346.0,562.5 1347.6,562.8 1349.2,563.1C1350.8,563.4 1352.4,563.7 1354.0,564.0C1355.6,564.3 1357.3,564.6 1358.9,564.9C1360.5,565.2 1362.1,565.5 1363.7,565.8C1365.1,566.1 1366.5,566.4 1367.9,566.7C1369.3,567.0 1370.7,567.4 1372.1,567.7C1373.5,568.0 1374.9,568.3 1376.3,568.5C1377.7,568.8 1379.2,569.1 1380.6,569.3C1382.0,569.6 1383.4,569.8 1384.8,570.0C1386.2,570.1 1387.6,570.3 1389.0,570.4C1390.2,570.5 1391.4,570.5 1392.6,570.5C1393.8,570.5 1395.1,570.5 1396.2,570.5C1397.4,570.4 1398.6,570.3 1399.8,570.1C1401.3,569.9 1402.7,569.6 1404.1,569.3C1405.5,569.0 1407.0,568.6 1408.4,568.2C1409.8,567.8 1411.2,567.3 1412.6,566.9C1414.0,566.4 1415.4,565.9 1416.8,565.4C1418.1,564.9 1419.5,564.5 1420.8,564.0C1422.2,563.5 1423.6,563.0 1424.9,562.5C1426.3,562.0 1427.6,561.6 1429.0,561.1C1430.3,560.6 1431.6,560.1 1433.0,559.6C1434.3,559.1 1435.7,558.6 1437.0,558.1C1438.4,557.6 1439.7,557.1 1441.1,556.6C1442.6,556.1 1444.1,555.5 1445.7,554.9C1447.2,554.4 1448.7,553.8 1450.3,553.3C1451.8,552.7 1453.4,552.1 1454.9,551.6C1456.4,551.0 1458.0,550.5 1459.5,550.0C1461.1,549.4 1462.6,548.9 1464.2,548.4C1465.7,547.9 1467.3,547.4 1468.9,546.9C1470.2,546.5 1471.6,546.1 1473.0,545.7C1474.4,545.3 1475.8,544.9 1477.2,544.6C1478.6,544.2 1480.0,543.8 1481.4,543.5C1482.8,543.1 1484.2,542.8 1485.7,542.5C1487.1,542.2 1488.5,541.8 1489.9,541.5C1491.3,541.2 1492.7,540.9 1494.2,540.7C1495.7,540.4 1497.3,540.1 1498.9,539.8C1500.4,539.5 1502.0,539.2 1503.6,538.9C1505.2,538.7 1506.7,538.4 1508.3,538.1C1509.9,537.9 1511.4,537.6 1513.0,537.3C1514.6,537.0 1516.2,536.7 1517.7,536.4C1519.3,536.1 1520.9,535.8 1522.4,535.5C1523.8,535.2 1525.2,534.9 1526.5,534.6C1527.9,534.2 1529.3,533.9 1530.6,533.5C1532.0,533.2 1533.3,532.8 1534.7,532.4C1536.0,532.1 1537.4,531.7 1538.7,531.2C1540.1,530.8 1541.4,530.4 1542.7,529.9C1544.1,529.5 1545.4,529.0 1546.7,528.5C1548.0,528.0 1549.4,527.5 1550.7,527.0C1552.0,526.5 1553.4,525.9 1554.7,525.4C1556.0,524.8 1557.3,524.3 1558.6,523.7C1560.0,523.2 1561.3,522.6 1562.6,522.0C1563.9,521.5 1565.2,520.9 1566.6,520.4C1567.9,519.8 1569.2,519.3 1570.5,518.8C1571.9,518.2 1573.2,517.7 1574.5,517.2C1576.0,516.7 1577.4,516.2 1578.8,515.8C1580.3,515.3 1581.7,514.8 1583.2,514.4C1584.6,513.9 1586.1,513.5 1587.6,513.1C1589.0,512.7 1590.5,512.3 1592.0,511.9C1593.4,511.5 1594.9,511.2 1596.4,510.8C1597.8,510.4 1599.3,510.1 1600.8,509.7C1602.3,509.4 1603.8,509.0 1605.3,508.6C1606.9,508.3 1608.4,508.0 1609.9,507.6C1611.4,507.3 1612.9,506.9 1614.4,506.6C1615.9,506.2 1617.5,505.9 1619.0,505.5C1620.5,505.1 1622.0,504.8 1623.5,504.4C1625.0,504.0 1626.6,503.6 1628.1,503.3C1629.5,502.9 1631.0,502.5 1632.4,502.1C1633.9,501.7 1635.3,501.3 1636.8,501.0C1638.2,500.6 1639.7,500.3 1641.1,499.9C1642.6,499.6 1644.1,499.3 1645.5,499.1C1647.0,498.8 1648.5,498.6 1649.9,498.5C1651.4,498.4 1652.9,498.3 1654.4,498.3C1655.6,498.3 1656.8,498.3 1658.0,498.3C1659.2,498.3 1660.5,498.3 1661.7,498.2C1662.9,498.2 1664.1,498.0 1665.3,497.7C1666.4,497.4 1667.6,496.9 1668.7,496.5C1669.8,496.1 1670.9,495.6 1672.0,495.3C1673.1,495.0 1674.2,494.8 1675.2,494.8C1676.3,494.9 1677.4,495.3 1678.5,495.8C1679.6,496.3 1680.7,496.9 1681.8,497.5C1682.9,498.2 1684.0,498.9 1685.1,499.4C1686.5,500.0 1687.9,500.5 1689.3,500.8C1690.7,501.1 1692.2,501.3 1693.6,501.4C1695.1,501.5 1696.5,501.4 1698.0,501.4C1699.5,501.3 1701.0,501.2 1702.5,501.1" fill="none" stroke="#ff0000" stroke-width="5.4" stroke-linecap="round" stroke-linejoin="round" stroke-dasharray="23.3 31.7"/>
<path d="M1008.00,518.31C1009.7,518.3 1011.3,518.3 1013.0,518.3C1014.7,518.3 1016.4,518.3 1018.0,518.3C1019.7,518.3 1021.4,518.2 1023.1,518.2C1024.4,518.2 1025.6,518.1 1026.9,518.1C1028.2,518.0 1029.5,518.0 1030.8,517.9C1032.1,517.8 1033.4,517.8 1034.7,517.7C1036.0,517.6 1037.3,517.5 1038.6,517.3C1040.0,517.2 1041.5,517.0 1042.9,516.8C1044.3,516.6 1045.7,516.4 1047.1,516.2C1048.6,515.9 1050.0,515.6 1051.3,515.3C1052.7,515.0 1054.1,514.6 1055.4,514.2C1056.7,513.9 1057.9,513.5 1059.1,513.0C1060.3,512.6 1061.5,512.1 1062.7,511.6C1064.0,511.0 1065.3,510.4 1066.6,509.7C1067.8,509.0 1069.1,508.2 1070.3,507.4C1071.1,506.8 1071.9,506.2 1072.8,505.6C1073.6,504.9 1074.4,504.3 1075.1,503.6C1076.1,502.7 1077.0,501.8 1077.8,500.8C1078.7,499.9 1079.5,498.9 1080.3,497.9C1081.1,496.9 1081.8,495.8 1082.5,494.7C1083.2,493.7 1083.9,492.6 1084.5,491.4C1085.1,490.3 1085.7,489.1 1086.2,488.0C1086.7,486.9 1087.2,485.8 1087.6,484.8C1088.0,483.7 1088.4,482.6 1088.8,481.5C1089.2,480.4 1089.5,479.3 1089.8,478.2C1090.3,476.8 1090.7,475.3 1091.0,473.9C1091.4,472.4 1091.7,470.9 1092.0,469.5C1092.3,468.0 1092.6,466.5 1092.8,465.1C1093.1,463.5 1093.3,462.0 1093.6,460.5C1093.8,459.0 1094.0,457.5 1094.2,455.9C1094.4,454.4 1094.6,452.9 1094.8,451.4C1095.0,449.8 1095.2,448.3 1095.3,446.8C1095.5,445.2 1095.6,443.7 1095.8,442.2C1096.0,440.5 1096.1,438.8 1096.3,437.2C1096.5,435.5 1096.6,433.9 1096.8,432.2C1096.9,430.6 1097.1,428.9 1097.2,427.3C1097.3,425.6 1097.5,423.9 1097.6,422.3C1097.7,420.6 1097.8,419.0 1098.0,417.3C1098.1,415.7 1098.2,414.0 1098.3,412.4C1098.4,410.9 1098.5,409.5 1098.5,408.0C1098.6,406.5 1098.7,405.1 1098.8,403.6C1098.8,402.1 1098.9,400.7 1099.0,399.2C1099.0,397.7 1099.1,396.2 1099.1,394.8C1099.2,393.3 1099.2,391.8 1099.3,390.3C1099.4,388.9 1099.4,387.4 1099.5,385.9C1099.5,384.4 1099.6,382.9 1099.6,381.4C1099.7,379.9 1099.7,378.4 1099.8,376.9C1099.8,375.2 1099.9,373.6 1100.0,371.9C1100.0,370.2 1100.1,368.5 1100.1,366.9C1100.2,365.2 1100.3,363.5 1100.3,361.9C1100.4,360.2 1100.5,358.5 1100.5,356.9C1100.6,355.2 1100.7,353.6 1100.7,352.0C1100.8,350.4 1100.8,348.8 1100.9,347.2C1101.0,345.6 1101.0,344.0 1101.1,342.5C1101.1,341.0 1101.2,339.5 1101.3,338.0C1101.3,336.7 1101.4,335.4 1101.4,334.1C1101.5,332.8 1101.5,331.5 1101.6,330.2C1101.6,328.9 1101.7,327.6 1101.7,326.3C1101.8,324.9 1101.8,323.5 1101.9,322.1C1101.9,320.7 1102.0,319.2 1102.1,317.7C1102.1,316.1 1102.2,314.5 1102.3,312.8C1102.4,311.1 1102.4,309.3 1102.5,307.4C1102.6,305.2 1102.7,302.9 1102.9,301.2C1103.1,299.5 1103.3,298.4 1103.7,298.7C1103.9,298.8 1104.2,299.5 1104.4,300.3C1104.7,301.4 1104.9,302.9 1105.1,304.4C1105.3,306.0 1105.4,307.6 1105.5,309.3C1105.7,311.0 1105.8,312.8 1105.9,314.5C1106.0,316.2 1106.1,317.8 1106.2,319.4C1106.3,321.0 1106.3,322.6 1106.4,324.2C1106.5,325.7 1106.5,327.3 1106.6,328.8C1106.7,330.3 1106.7,331.9 1106.8,333.4C1106.9,334.9 1106.9,336.4 1107.0,338.0C1107.1,339.6 1107.2,341.2 1107.3,342.8C1107.4,344.5 1107.4,346.1 1107.5,347.7C1107.6,349.4 1107.8,351.1 1107.9,352.7C1108.0,354.4 1108.1,356.1 1108.3,357.7C1108.4,359.4 1108.5,361.1 1108.7,362.7C1108.9,364.4 1109.0,366.1 1109.2,367.7C1109.4,369.2 1109.5,370.7 1109.7,372.1C1109.9,373.6 1110.1,375.0 1110.2,376.5C1110.4,377.9 1110.6,379.4 1110.8,380.8C1111.1,382.3 1111.3,383.7 1111.5,385.2C1111.7,386.6 1111.9,388.0 1112.2,389.5C1112.4,391.1 1112.7,392.7 1113.0,394.3C1113.3,395.9 1113.6,397.5 1113.9,399.1C1114.3,400.7 1114.7,402.2 1115.1,403.8C1115.4,404.9 1115.8,406.0 1116.1,407.1C1116.5,408.2 1116.9,409.4 1117.3,410.5C1117.7,411.6 1118.2,412.7 1118.6,413.8C1119.2,415.1 1119.7,416.5 1120.4,417.7C1121.0,419.0 1121.7,420.3 1122.4,421.4C1123.2,422.5 1124.0,423.5 1125.0,424.4C1125.8,425.1 1126.8,425.8 1127.8,426.2C1128.8,426.7 1129.8,427.0 1130.9,427.1C1131.9,427.2 1133.0,427.2 1134.0,427.0C1135.1,426.8 1136.1,426.5 1137.1,426.1C1138.1,425.7 1139.1,425.2 1140.0,424.6C1141.0,424.0 1141.9,423.3 1142.8,422.5C1143.7,421.7 1144.5,420.9 1145.3,420.0C1146.4,418.8 1147.4,417.6 1148.4,416.2C1149.4,414.9 1150.3,413.5 1151.2,412.1C1152.1,410.6 1153.0,409.1 1153.8,407.6C1154.4,406.4 1155.1,405.2 1155.7,404.0C1156.3,402.7 1156.9,401.5 1157.5,400.2C1158.1,399.0 1158.7,397.7 1159.3,396.5C1159.8,395.2 1160.4,393.9 1160.9,392.7C1161.5,391.5 1162.0,390.2 1162.5,389.0C1163.0,387.8 1163.5,386.6 1164.0,385.4C1164.5,384.2 1165.0,382.9 1165.5,381.7C1166.0,380.5 1166.4,379.3 1166.9,378.1C1167.5,376.6 1168.0,375.1 1168.6,373.7C1169.2,372.2 1169.7,370.7 1170.3,369.2C1170.8,367.7 1171.3,366.3 1171.9,364.8C1172.4,363.3 1172.9,361.9 1173.4,360.4C1173.9,359.0 1174.4,357.5 1174.8,356.1C1175.3,354.6 1175.8,353.2 1176.3,351.7C1176.7,350.5 1177.0,349.3 1177.4,348.1C1177.8,346.9 1178.2,345.6 1178.5,344.4C1178.9,343.2 1179.3,342.0 1179.6,340.7C1180.0,339.5 1180.4,338.3 1180.7,337.0C1181.1,335.7 1181.5,334.4 1181.9,333.1C1182.2,331.8 1182.6,330.5 1183.0,329.2C1183.3,327.9 1183.7,326.6 1184.0,325.3C1184.4,323.9 1184.8,322.6 1185.1,321.3C1185.5,319.9 1185.9,318.6 1186.2,317.2C1186.6,315.8 1187.0,314.4 1187.3,313.0C1187.7,311.6 1188.0,310.3 1188.4,308.9C1188.7,307.5 1189.1,306.1 1189.5,304.7C1189.8,303.2 1190.2,301.7 1190.6,300.1C1191.0,298.6 1191.3,297.1 1191.7,295.6C1192.1,294.1 1192.5,292.5 1192.8,291.0C1193.2,289.5 1193.6,288.0 1193.9,286.4C1194.3,284.9 1194.6,283.4 1195.0,281.9C1195.3,280.3 1195.7,278.8 1196.0,277.3C1196.4,275.8 1196.7,274.2 1197.1,272.7C1197.4,271.2 1197.8,269.7 1198.1,268.1C1198.4,266.6 1198.8,265.1 1199.1,263.5C1199.4,262.0 1199.8,260.5 1200.1,259.0C1200.4,257.4 1200.8,255.9 1201.1,254.4C1201.4,252.8 1201.8,251.3 1202.1,249.7C1202.4,248.1 1202.8,246.6 1203.1,245.0C1203.4,243.5 1203.8,241.9 1204.1,240.4C1204.4,238.8 1204.8,237.2 1205.1,235.7C1205.4,234.1 1205.8,232.6 1206.1,231.0C1206.4,229.4 1206.7,227.9 1207.1,226.3C1207.4,224.8 1207.7,223.3 1208.1,221.7C1208.4,220.2 1208.7,218.7 1209.0,217.2C1209.4,215.6 1209.7,214.1 1210.0,212.6C1210.3,211.0 1210.7,209.5 1211.0,208.0C1211.3,206.5 1211.7,204.9 1212.0,203.4C1212.3,201.9 1212.7,200.4 1213.0,198.8C1213.3,197.3 1213.7,195.9 1214.0,194.4C1214.3,192.9 1214.6,191.4 1215.0,189.9C1215.3,188.4 1215.6,186.9 1216.0,185.4C1216.3,183.9 1216.7,182.4 1217.0,180.9C1217.4,179.4 1217.7,177.9 1218.1,176.5C1218.4,175.0 1218.8,173.5 1219.1,172.0C1219.5,170.5 1219.9,168.9 1220.2,167.4C1220.6,165.9 1221.0,164.3 1221.4,162.8C1221.7,161.3 1222.1,159.7 1222.5,158.2C1222.9,156.7 1223.3,155.1 1223.7,153.6C1224.1,152.1 1224.5,150.6 1224.9,149.0C1225.3,147.5 1225.7,145.9 1226.1,144.4C1226.5,142.8 1226.9,141.3 1227.3,139.8C1227.7,138.2 1228.2,136.7 1228.6,135.1C1229.0,133.6 1229.4,132.0 1229.9,130.4C1230.3,128.8 1230.8,127.2 1231.2,125.6C1231.7,124.0 1232.2,122.4 1232.6,120.8C1233.1,119.1 1233.6,117.5 1234.2,115.9C1234.7,114.3 1235.2,112.7 1235.8,111.1C1236.3,109.8 1236.7,108.4 1237.3,107.1C1237.8,105.8 1238.3,104.5 1238.9,103.2C1239.4,101.9 1240.0,100.6 1240.7,99.3C1241.3,98.1 1241.9,96.8 1242.6,95.6C1243.3,94.4 1244.0,93.3 1244.8,92.1C1245.6,91.0 1246.4,89.9 1247.2,88.9C1248.1,87.8 1249.0,86.8 1249.9,85.9C1250.9,84.9 1252.0,84.0 1253.1,83.1C1254.2,82.3 1255.4,81.5 1256.6,80.8C1257.7,80.3 1258.8,79.7 1259.9,79.3C1261.1,78.9 1262.2,78.5 1263.4,78.2C1264.5,78.0 1265.7,77.8 1266.8,77.7C1267.9,77.6 1269.1,77.6 1270.2,77.7C1271.4,77.8 1272.6,77.9 1273.8,78.2C1274.9,78.4 1276.1,78.7 1277.2,79.1C1278.4,79.4 1279.6,79.8 1280.7,80.3C1281.9,80.7 1283.0,81.2 1284.2,81.8C1285.4,82.4 1286.6,83.0 1287.7,83.6C1288.9,84.3 1290.1,84.9 1291.3,85.6C1292.4,86.3 1293.6,87.1 1294.8,87.8C1296.0,88.6 1297.1,89.3 1298.3,90.1C1299.4,90.9 1300.6,91.7 1301.7,92.4C1302.9,93.2 1304.0,94.0 1305.2,94.7C1306.3,95.5 1307.5,96.3 1308.7,97.1C1309.8,97.9 1311.0,98.6 1312.2,99.4C1313.3,100.1 1314.5,100.9 1315.7,101.6C1316.8,102.3 1318.0,103.1 1319.2,103.8C1320.2,104.4 1321.3,105.0 1322.4,105.6C1323.5,106.2 1324.5,106.8 1325.6,107.4C1326.7,108.0 1327.9,108.5 1329.0,109.1C1330.2,109.6 1331.3,110.2 1332.5,110.7C1333.6,111.2 1334.8,111.7 1336.0,112.2C1337.3,112.7 1338.6,113.2 1339.9,113.6C1341.2,114.0 1342.5,114.5 1343.8,114.8C1345.2,115.2 1346.5,115.5 1347.8,115.8C1349.1,116.0 1350.3,116.3 1351.6,116.4C1352.9,116.6 1354.1,116.7 1355.4,116.8C1356.6,116.9 1357.9,117.0 1359.2,117.0C1360.5,117.0 1361.7,116.9 1363.0,116.8C1364.3,116.7 1365.6,116.6 1366.8,116.4C1368.1,116.2 1369.3,116.0 1370.6,115.7C1371.9,115.4 1373.2,115.1 1374.5,114.7C1375.7,114.3 1377.0,113.8 1378.3,113.4C1379.5,112.9 1380.8,112.3 1382.0,111.8C1383.4,111.2 1384.7,110.5 1386.1,109.8C1387.4,109.1 1388.7,108.3 1390.0,107.6C1391.4,106.8 1392.7,106.0 1393.9,105.2C1395.3,104.3 1396.6,103.5 1397.9,102.6C1399.1,101.8 1400.4,100.9 1401.7,100.0C1403.0,99.1 1404.3,98.2 1405.5,97.3C1406.8,96.4 1408.1,95.4 1409.3,94.5C1410.6,93.6 1411.9,92.6 1413.1,91.7C1414.4,90.8 1415.7,89.8 1416.9,88.9C1418.2,87.9 1419.5,86.9 1420.8,86.0C1422.1,85.0 1423.4,84.0 1424.7,83.1C1426.0,82.1 1427.3,81.1 1428.7,80.2C1429.9,79.3 1431.2,78.3 1432.5,77.4C1433.8,76.5 1435.1,75.6 1436.4,74.7C1437.7,73.9 1439.0,73.0 1440.3,72.1C1441.6,71.3 1442.9,70.5 1444.1,69.7C1445.4,69.0 1446.7,68.2 1448.0,67.5C1449.3,66.7 1450.7,66.0 1452.0,65.3C1453.3,64.7 1454.5,64.1 1455.8,63.5C1457.1,62.9 1458.4,62.4 1459.7,61.8C1461.0,61.3 1462.3,60.8 1463.7,60.4C1464.9,60.0 1466.2,59.6 1467.5,59.2C1468.8,58.9 1470.0,58.6 1471.3,58.3C1472.6,58.0 1473.9,57.8 1475.2,57.6C1476.5,57.5 1477.8,57.3 1479.0,57.2C1480.3,57.2 1481.5,57.1 1482.8,57.1C1484.1,57.1 1485.3,57.2 1486.6,57.3C1487.8,57.4 1489.1,57.5 1490.4,57.7C1491.6,57.9 1492.9,58.2 1494.1,58.5C1495.3,58.8 1496.5,59.2 1497.8,59.6C1499.1,60.0 1500.4,60.5 1501.6,61.0C1502.9,61.6 1504.2,62.2 1505.4,62.8C1506.4,63.4 1507.4,63.9 1508.4,64.5C1509.3,65.1 1510.3,65.7 1511.2,66.3C1512.2,67.0 1513.1,67.6 1514.0,68.3C1515.2,69.2 1516.4,70.1 1517.6,71.1C1518.7,72.0 1519.8,73.0 1520.9,74.1C1521.9,75.0 1522.9,76.1 1523.9,77.1C1524.9,78.1 1525.8,79.2 1526.7,80.3C1527.6,81.4 1528.4,82.5 1529.3,83.7C1530.1,84.8 1530.9,86.0 1531.7,87.2C1532.6,88.5 1533.4,89.9 1534.2,91.3C1535.0,92.7 1535.8,94.1 1536.5,95.5C1537.3,96.9 1538.0,98.3 1538.7,99.8C1539.4,101.2 1540.1,102.7 1540.7,104.1C1541.3,105.5 1542.0,106.9 1542.6,108.3C1543.2,109.7 1543.7,111.2 1544.3,112.6C1544.9,114.0 1545.5,115.4 1546.0,116.9C1546.6,118.3 1547.1,119.7 1547.7,121.2C1548.2,122.6 1548.7,124.0 1549.2,125.5C1549.7,126.8 1550.2,128.2 1550.7,129.6C1551.2,131.0 1551.7,132.3 1552.1,133.7C1552.6,135.1 1553.1,136.4 1553.5,137.8C1554.0,139.2 1554.5,140.6 1554.9,142.0C1555.4,143.3 1555.8,144.7 1556.3,146.1C1556.7,147.5 1557.2,148.9 1557.6,150.4C1558.1,151.8 1558.5,153.2 1559.0,154.6C1559.4,156.0 1559.9,157.4 1560.3,158.9C1560.7,160.3 1561.1,161.7 1561.6,163.1C1562.0,164.6 1562.4,166.0 1562.8,167.4C1563.2,168.9 1563.6,170.3 1564.0,171.7C1564.4,173.2 1564.8,174.6 1565.1,176.1C1565.5,177.5 1565.9,179.0 1566.3,180.4C1566.6,181.9 1567.0,183.3 1567.3,184.8C1567.7,186.2 1568.0,187.7 1568.4,189.1C1568.8,190.6 1569.1,192.1 1569.5,193.7C1569.8,195.2 1570.2,196.7 1570.5,198.2C1570.9,199.8 1571.3,201.3 1571.6,202.8C1572.0,204.4 1572.3,205.9 1572.7,207.4C1573.0,208.9 1573.4,210.5 1573.7,212.0C1574.0,213.4 1574.4,214.9 1574.7,216.3C1575.1,217.8 1575.4,219.3 1575.7,220.7C1576.1,222.2 1576.4,223.6 1576.7,225.1C1577.1,226.5 1577.4,228.0 1577.8,229.4C1578.1,230.9 1578.4,232.3 1578.8,233.8C1579.1,235.3 1579.5,236.7 1579.8,238.2C1580.2,239.7 1580.5,241.2 1580.9,242.7C1581.3,244.2 1581.6,245.7 1582.0,247.2C1582.3,248.7 1582.7,250.1 1583.0,251.6C1583.4,253.1 1583.8,254.6 1584.1,256.1C1584.5,257.5 1584.8,258.9 1585.2,260.3C1585.5,261.7 1585.9,263.2 1586.2,264.6C1586.5,266.0 1586.9,267.4 1587.2,268.8C1587.6,270.2 1587.9,271.6 1588.3,273.0C1588.6,274.5 1589.0,275.9 1589.3,277.3C1589.7,278.7 1590.0,280.0 1590.4,281.4C1590.7,282.8 1591.0,284.2 1591.4,285.5C1591.7,286.9 1592.1,288.3 1592.4,289.7C1592.7,291.0 1593.1,292.4 1593.4,293.8C1593.8,295.2 1594.1,296.5 1594.4,297.9C1594.8,299.4 1595.2,301.0 1595.6,302.5C1595.9,304.0 1596.3,305.6 1596.7,307.1C1597.0,308.6 1597.4,310.1 1597.8,311.7C1598.2,313.2 1598.5,314.7 1598.9,316.2C1599.3,317.8 1599.7,319.3 1600.1,320.8C1600.4,322.3 1600.8,323.8 1601.2,325.3C1601.6,326.8 1602.0,328.3 1602.3,329.8C1602.7,331.3 1603.1,332.8 1603.5,334.3C1603.9,335.8 1604.3,337.3 1604.7,338.8C1605.0,340.2 1605.4,341.5 1605.7,342.8C1606.1,344.1 1606.5,345.5 1606.8,346.8C1607.2,348.1 1607.5,349.4 1607.9,350.8C1608.3,352.1 1608.6,353.4 1609.0,354.7C1609.4,356.2 1609.8,357.7 1610.3,359.2C1610.7,360.7 1611.1,362.2 1611.6,363.7C1612.0,365.2 1612.5,366.7 1612.9,368.2C1613.4,369.7 1613.8,371.2 1614.3,372.7C1614.7,374.1 1615.2,375.5 1615.6,377.0C1616.0,378.4 1616.5,379.8 1616.9,381.2C1617.4,382.6 1617.8,384.0 1618.3,385.4C1618.8,386.8 1619.2,388.2 1619.7,389.6C1620.1,390.8 1620.6,392.1 1621.0,393.3C1621.4,394.6 1621.9,395.8 1622.3,397.0C1622.7,398.3 1623.2,399.5 1623.6,400.7C1624.1,402.0 1624.5,403.2 1625.0,404.4C1625.5,406.0 1626.1,407.5 1626.7,409.1C1627.2,410.6 1627.8,412.1 1628.4,413.7C1629.0,415.2 1629.6,416.7 1630.1,418.2C1630.7,419.8 1631.3,421.3 1631.9,422.8C1632.4,424.3 1633.0,425.8 1633.6,427.3C1634.2,428.8 1634.7,430.3 1635.3,431.8C1635.8,433.2 1636.4,434.6 1636.9,436.0C1637.4,437.4 1638.0,438.8 1638.5,440.2C1639.0,441.6 1639.6,442.9 1640.1,444.3C1640.6,445.7 1641.2,447.1 1641.7,448.5C1642.3,449.9 1642.9,451.3 1643.4,452.7C1644.0,454.1 1644.6,455.5 1645.3,456.9C1645.8,458.2 1646.4,459.6 1647.1,460.9C1647.7,462.3 1648.4,463.6 1649.1,465.0C1649.8,466.4 1650.6,467.8 1651.4,469.2C1652.2,470.6 1653.1,472.0 1654.0,473.1C1654.9,474.2 1655.8,474.9 1656.8,474.9C1657.7,475.0 1658.7,474.4 1659.5,473.5C1660.4,472.7 1661.2,471.5 1661.9,470.3C1662.6,469.2 1663.1,468.0 1663.5,466.9C1664.0,465.8 1664.4,464.6 1664.9,463.5C1665.3,462.5 1665.8,461.4 1666.4,460.4C1667.0,459.6 1667.6,458.8 1668.3,458.1C1669.0,457.5 1669.7,457.1 1670.6,457.0C1671.4,456.9 1672.3,457.1 1673.1,457.3C1674.0,457.5 1674.9,457.7 1675.8,457.7C1676.6,457.7 1677.3,457.4 1678.1,457.0C1678.8,456.6 1679.4,456.0 1680.0,455.4C1680.8,454.5 1681.4,453.5 1681.9,452.4C1682.4,451.3 1682.8,450.0 1683.2,448.7C1683.6,447.4 1684.0,446.0 1684.4,444.5C1684.9,443.1 1685.3,441.6 1685.8,440.2C1686.4,438.9 1687.0,437.7 1687.6,436.8C1688.3,436.0 1689.0,435.5 1689.8,435.6C1690.4,435.6 1691.1,436.1 1691.8,436.7C1692.5,437.4 1693.1,438.3 1693.7,439.2C1694.5,440.3 1695.1,441.4 1695.6,442.6C1696.2,443.8 1696.6,445.0 1697.0,446.3C1697.4,447.5 1697.8,448.7 1698.2,449.9C1698.5,451.0 1698.8,452.1 1699.2,453.2C1699.5,454.2 1699.9,455.3 1700.2,456.3C1700.6,457.4 1700.9,458.5 1701.3,459.5C1701.7,460.6 1702.1,461.7 1702.5,462.8" fill="none" stroke="#ff0000" stroke-width="5.4" stroke-linecap="round" stroke-linejoin="round"/>
</g>
<rect x="1008" y="14.5" width="694.5" height="572.5" fill="none" stroke="#000" stroke-width="4.6"/>
<path d="M1008 587V601M1057.61 587V595.6M1107.21 587V601M1156.82 587V595.6M1206.43 587V601M1256.04 587V595.6M1305.64 587V601M1355.25 587V595.6M1404.86 587V601M1454.46 587V595.6M1504.07 587V601M1553.68 587V595.6M1603.29 587V601M1652.89 587V595.6M1702.5 587V601M1008 587H994.5M1008 529.75H999.5M1008 472.5H994.5M1008 415.25H999.5M1008 358H994.5M1008 300.75H999.5M1008 243.5H994.5M1008 186.25H999.5M1008 129H994.5M1008 71.75H999.5M1008 14.5H994.5" stroke="#000" stroke-width="3.6" fill="none"/>
<g font-family="'Liberation Sans', Arial, sans-serif" font-size="37" fill="#000">
<text transform="translate(1008 638.8) scale(0.94 1)" text-anchor="middle">2</text>
<text transform="translate(1107.21 638.8) scale(0.94 1)" text-anchor="middle">4</text>
<text transform="translate(1206.43 638.8) scale(0.94 1)" text-anchor="middle">6</text>
<text transform="translate(1305.64 638.8) scale(0.94 1)" text-anchor="middle">8</text>
<text transform="translate(1404.86 638.8) scale(0.94 1)" text-anchor="middle">10</text>
<text transform="translate(1504.07 638.8) scale(0.94 1)" text-anchor="middle">12</text>
<text transform="translate(1603.29 638.8) scale(0.94 1)" text-anchor="middle">14</text>
<text transform="translate(1702.5 638.8) scale(0.94 1)" text-anchor="middle">16</text>
<text transform="translate(985.3 597.8) scale(0.94 1)" text-anchor="end">0.0</text>
<text transform="translate(985.3 483.3) scale(0.94 1)" text-anchor="end">0.2</text>
<text transform="translate(985.3 368.8) scale(0.94 1)" text-anchor="end">0.4</text>
<text transform="translate(985.3 254.3) scale(0.94 1)" text-anchor="end">0.6</text>
<text transform="translate(985.3 139.8) scale(0.94 1)" text-anchor="end">0.8</text>
<text transform="translate(985.3 25.3) scale(0.94 1)" text-anchor="end">1.0</text>
</g>
<text x="1355.3" y="700.5" font-family="'Liberation Serif', 'Times New Roman', serif" font-size="50" text-anchor="middle" textLength="336" lengthAdjust="spacingAndGlyphs">Frequency (GHz)</text>
<text transform="translate(918.9 299.8) rotate(-90)" font-family="'Liberation Serif', 'Times New Roman', serif" font-size="49" text-anchor="middle" textLength="262" lengthAdjust="spacingAndGlyphs" style="font-variant-ligatures:none">Transmission</text>
<text x="1278.6" y="774" font-family="'Liberation Serif', 'Times New Roman', serif" font-size="46" text-anchor="middle">(b)</text>
<path d="M1316.4 177.6H1380.3" stroke="#000" stroke-width="5.4" stroke-linecap="round" stroke-dasharray="23.3 31.7"/>
<path d="M1316.4 243.6H1380.3" stroke="#000" stroke-width="5.4" stroke-linecap="round"/>
<path d="M1316.4 309.7H1380.3" stroke="#ff0000" stroke-width="5.4" stroke-linecap="round" stroke-dasharray="23.3 31.7"/>
<path d="M1316.4 376H1380.3" stroke="#ff0000" stroke-width="5.4" stroke-linecap="round"/>
<g font-family="'Liberation Serif', 'Times New Roman', serif" font-weight="bold" fill="#000">
<text x="1389.7" y="188.2" font-size="35.5">T</text>
<text x="1413.68" y="175.7" font-size="34">b</text>
<text x="1413.68" y="196" font-size="34">xx</text>
<text x="1389.7" y="254.2" font-size="35.5">T</text>
<text x="1413.68" y="241.7" font-size="34">b</text>
<text x="1413.68" y="262" font-size="34">yx</text>
<text x="1389.7" y="320.3" font-size="35.5">T</text>
<text x="1413.68" y="307.8" font-size="34">b</text>
<text x="1413.68" y="328.1" font-size="34">yy</text>
<text x="1385.4" y="386.4" font-size="35.5">T</text>
<text x="1409.38" y="373.9" font-size="34">b</text>
<text x="1409.38" y="394.2" font-size="34">xy</text>
</g>
<g clip-path="url(#clipc)">
<path d="M123.50,925.77C125.1,925.8 126.8,925.8 128.4,925.8C130.1,925.8 131.7,925.8 133.4,925.8C135.0,925.8 136.7,925.9 138.3,925.9C140.0,925.9 141.6,925.9 143.3,925.9C144.9,926.0 146.6,926.0 148.2,926.0C149.9,926.1 151.6,926.1 153.2,926.2C154.9,926.2 156.6,926.3 158.2,926.3C159.9,926.4 161.6,926.5 163.3,926.6C164.9,926.6 166.4,926.7 168.0,926.8C169.6,926.9 171.2,927.0 172.7,927.2C174.3,927.3 175.8,927.5 177.4,927.7C178.9,927.9 180.5,928.1 182.0,928.4C183.5,928.6 185.0,929.0 186.5,929.3C188.0,929.7 189.6,930.1 191.0,930.6C192.5,931.1 193.9,931.6 195.3,932.3C196.7,932.9 198.0,933.6 199.2,934.4C200.1,935.0 201.0,935.7 201.8,936.4C202.7,937.1 203.4,937.9 204.1,938.7C204.8,939.5 205.5,940.4 206.0,941.4C206.7,942.5 207.3,943.8 207.8,945.1C208.3,946.4 208.7,947.8 209.0,949.2C209.4,950.7 209.6,952.1 209.9,953.6C210.1,955.1 210.4,956.6 210.6,958.0C210.8,959.6 211.0,961.1 211.2,962.6C211.5,964.1 211.7,965.6 211.9,967.1C212.1,968.6 212.3,970.1 212.5,971.6C212.7,973.1 212.9,974.6 213.1,976.0C213.2,977.5 213.4,979.0 213.6,980.5C213.7,982.1 213.9,983.7 214.0,985.3C214.2,986.9 214.3,988.5 214.5,990.1C214.6,991.8 214.7,993.4 214.8,995.0C214.9,996.6 215.0,998.2 215.1,999.8C215.2,1001.4 215.3,1003.0 215.4,1004.6C215.5,1006.2 215.6,1007.8 215.7,1009.4C215.7,1010.9 215.8,1012.5 215.9,1014.0C215.9,1015.6 216.0,1017.1 216.1,1018.6C216.1,1020.0 216.2,1021.4 216.2,1022.8C216.3,1024.2 216.4,1025.6 216.4,1027.0C216.5,1028.4 216.5,1029.7 216.6,1031.1C216.6,1032.5 216.7,1033.9 216.7,1035.3C216.8,1036.7 216.8,1038.1 216.8,1039.6C216.9,1041.0 216.9,1042.5 217.0,1044.0C217.0,1045.5 217.1,1047.0 217.1,1048.6C217.2,1050.2 217.2,1051.8 217.3,1053.4C217.3,1055.1 217.4,1056.8 217.4,1058.6C217.5,1060.4 217.5,1062.2 217.6,1064.1C217.6,1066.2 217.7,1068.2 217.7,1070.4C217.8,1072.5 217.9,1074.7 217.9,1076.8C218.0,1079.0 218.0,1081.2 218.1,1083.3C218.2,1085.5 218.2,1087.6 218.3,1089.6C218.4,1091.7 218.4,1093.7 218.5,1095.6C218.6,1097.5 218.6,1099.2 218.7,1100.9C218.8,1102.6 218.8,1104.1 218.9,1105.4C219.0,1106.8 219.0,1107.9 219.1,1108.9C219.2,1109.9 219.3,1110.6 219.3,1111.2C219.4,1111.7 219.5,1112.0 219.6,1112.0C219.6,1112.0 219.7,1111.7 219.8,1111.2C219.9,1110.6 220.0,1109.9 220.0,1108.9C220.1,1107.9 220.2,1106.8 220.3,1105.4C220.3,1104.1 220.4,1102.6 220.5,1100.9C220.6,1099.3 220.7,1097.5 220.8,1095.6C220.8,1093.7 220.9,1091.7 221.0,1089.7C221.1,1087.6 221.2,1085.5 221.3,1083.3C221.4,1081.2 221.4,1079.0 221.5,1076.8C221.6,1074.7 221.7,1072.5 221.8,1070.4C221.9,1068.2 222.0,1066.2 222.1,1064.1C222.2,1062.2 222.2,1060.4 222.3,1058.6C222.4,1056.8 222.5,1055.1 222.6,1053.4C222.7,1051.8 222.8,1050.1 222.9,1048.6C223.0,1047.0 223.1,1045.4 223.1,1043.9C223.2,1042.4 223.3,1041.0 223.4,1039.5C223.5,1038.1 223.6,1036.7 223.7,1035.2C223.7,1033.8 223.8,1032.5 223.9,1031.1C224.0,1029.7 224.1,1028.3 224.1,1026.9C224.2,1025.6 224.3,1024.2 224.4,1022.8C224.4,1021.4 224.5,1020.0 224.6,1018.6C224.6,1017.1 224.7,1015.6 224.8,1014.1C224.8,1012.5 224.9,1011.0 224.9,1009.4C225.0,1007.9 225.1,1006.3 225.1,1004.7C225.2,1003.2 225.3,1001.6 225.3,1000.0C225.4,998.4 225.5,996.7 225.6,995.1C225.7,993.5 225.7,991.9 225.8,990.3C225.9,988.6 226.1,987.0 226.2,985.4C226.3,983.8 226.4,982.2 226.6,980.5C226.7,979.2 226.8,977.8 227.0,976.5C227.1,975.1 227.3,973.8 227.5,972.5C227.7,971.1 227.9,969.8 228.2,968.5C228.5,967.2 228.8,965.9 229.2,964.7C229.6,963.4 230.1,962.2 230.6,960.9C231.2,959.5 231.8,958.2 232.6,956.9C233.3,955.6 234.2,954.4 235.1,953.2C236.0,952.1 237.0,951.0 238.0,950.0C238.9,949.3 239.9,948.5 240.8,947.9C241.8,947.3 242.8,946.8 243.8,946.3C244.9,945.9 245.9,945.6 247.0,945.4C248.4,945.1 249.8,945.0 251.2,945.1C252.6,945.2 254.0,945.4 255.4,945.7C256.8,946.0 258.3,946.5 259.7,947.1C261.1,947.6 262.4,948.2 263.8,948.9C265.1,949.7 266.5,950.4 267.8,951.3C269.1,952.2 270.4,953.1 271.7,954.1C272.9,955.0 274.2,956.1 275.4,957.2C276.6,958.2 277.7,959.3 278.9,960.5C279.9,961.6 281.0,962.7 281.9,963.8C282.9,964.9 283.9,966.1 284.8,967.2C285.8,968.4 286.6,969.6 287.5,970.8C288.4,972.0 289.2,973.2 290.0,974.5C290.9,975.7 291.6,977.0 292.4,978.2C293.2,979.5 293.9,980.8 294.6,982.1C295.3,983.4 296.0,984.7 296.7,986.0C297.4,987.3 298.0,988.6 298.7,990.0C299.3,991.3 299.9,992.6 300.5,994.0C301.1,995.3 301.7,996.7 302.3,998.0C302.8,999.4 303.4,1000.7 303.9,1002.1C304.4,1003.5 305.0,1004.8 305.5,1006.2C306.0,1007.6 306.5,1008.9 307.0,1010.3C307.5,1011.7 308.0,1013.0 308.5,1014.4C309.0,1016.0 309.6,1017.6 310.1,1019.1C310.6,1020.7 311.1,1022.3 311.7,1023.9C312.2,1025.4 312.7,1027.0 313.2,1028.6C313.7,1030.2 314.2,1031.7 314.7,1033.3C315.2,1034.9 315.7,1036.5 316.1,1038.1C316.6,1039.7 317.1,1041.2 317.5,1042.8C318.0,1044.4 318.4,1046.0 318.9,1047.6C319.3,1049.2 319.8,1050.8 320.2,1052.4C320.6,1054.0 321.1,1055.6 321.5,1057.2C321.9,1058.8 322.3,1060.4 322.7,1062.0C323.2,1063.6 323.6,1065.2 324.0,1066.8C324.4,1068.4 324.8,1070.0 325.2,1071.6C325.5,1073.2 325.9,1074.8 326.3,1076.3C326.7,1077.9 327.1,1079.5 327.4,1081.0C327.8,1082.6 328.2,1084.2 328.5,1085.7C328.9,1087.3 329.3,1088.9 329.6,1090.4C330.0,1092.0 330.4,1093.6 330.7,1095.2C331.1,1096.7 331.5,1098.3 331.8,1099.9C332.2,1101.5 332.6,1103.1 332.9,1104.7C333.3,1106.3 333.7,1107.9 334.0,1109.5C334.4,1111.1 334.8,1112.7 335.1,1114.3C335.5,1115.9 335.9,1117.5 336.2,1119.1C336.6,1120.7 337.0,1122.3 337.3,1123.9C337.7,1125.5 338.1,1127.1 338.4,1128.7C338.8,1130.3 339.2,1131.8 339.5,1133.4C339.9,1135.0 340.3,1136.5 340.6,1138.1C341.0,1139.7 341.3,1141.2 341.7,1142.8C342.1,1144.4 342.4,1145.9 342.8,1147.5C343.2,1149.1 343.5,1150.6 343.9,1152.2C344.3,1153.8 344.6,1155.3 345.0,1156.9C345.3,1158.5 345.7,1160.0 346.1,1161.6C346.4,1163.2 346.8,1164.8 347.2,1166.3C347.5,1167.9 347.9,1169.5 348.3,1171.0C348.6,1172.6 349.0,1174.2 349.4,1175.8C349.7,1177.3 350.1,1178.9 350.5,1180.5C350.8,1182.1 351.2,1183.7 351.6,1185.2C352.0,1186.8 352.3,1188.3 352.7,1189.8C353.1,1191.3 353.4,1192.8 353.8,1194.3C354.2,1195.8 354.6,1197.3 355.0,1198.9C355.3,1200.4 355.7,1201.9 356.1,1203.4C356.5,1205.0 357.0,1206.5 357.4,1208.0C357.8,1209.5 358.2,1211.1 358.7,1212.6C359.2,1214.3 359.6,1215.9 360.2,1217.6C360.7,1219.2 361.2,1220.9 361.8,1222.5C362.3,1224.1 362.9,1225.8 363.5,1227.3C364.2,1228.9 364.8,1230.5 365.5,1232.0C366.2,1233.6 367.0,1235.1 367.8,1236.5C368.6,1237.9 369.4,1239.2 370.3,1240.5C371.1,1241.8 372.1,1243.0 373.1,1244.2C374.1,1245.3 375.2,1246.3 376.4,1247.3C377.3,1248.0 378.3,1248.7 379.4,1249.3C380.5,1249.8 381.6,1250.3 382.7,1250.6C383.8,1250.8 384.9,1250.9 386.0,1250.9C387.1,1250.9 388.2,1250.7 389.2,1250.4C390.5,1250.1 391.7,1249.6 392.9,1249.0C394.1,1248.5 395.3,1247.8 396.4,1247.0C397.4,1246.3 398.4,1245.6 399.3,1244.9C400.3,1244.2 401.2,1243.4 402.1,1242.6C403.0,1241.8 403.8,1241.0 404.7,1240.2C405.5,1239.4 406.3,1238.5 407.1,1237.7C407.9,1236.8 408.7,1236.0 409.5,1235.1C410.3,1234.2 411.0,1233.3 411.8,1232.4C412.6,1231.5 413.4,1230.5 414.1,1229.5C414.9,1228.6 415.7,1227.6 416.4,1226.6C417.2,1225.6 418.0,1224.7 418.7,1223.7C419.5,1222.6 420.3,1221.6 421.0,1220.5C421.8,1219.5 422.6,1218.5 423.4,1217.4C424.1,1216.4 424.9,1215.3 425.7,1214.3C426.4,1213.2 427.2,1212.2 427.9,1211.1C428.7,1210.1 429.4,1209.1 430.2,1208.0C431.0,1207.0 431.7,1205.9 432.5,1204.9C433.2,1203.9 434.0,1202.8 434.8,1201.8C435.5,1200.7 436.3,1199.7 437.1,1198.7C437.9,1197.7 438.7,1196.6 439.4,1195.6C440.2,1194.6 441.0,1193.6 441.8,1192.5C442.7,1191.5 443.5,1190.5 444.3,1189.5C445.1,1188.5 446.0,1187.6 446.8,1186.6C448.0,1185.3 449.1,1184.1 450.3,1182.9C451.4,1181.7 452.6,1180.5 453.8,1179.4C455.0,1178.3 456.1,1177.3 457.3,1176.4C458.4,1175.4 459.6,1174.5 460.8,1173.6C462.0,1172.8 463.1,1172.0 464.3,1171.3C465.4,1170.6 466.6,1169.9 467.8,1169.3C469.0,1168.7 470.1,1168.2 471.3,1167.7C472.5,1167.2 473.7,1166.8 474.9,1166.5C476.0,1166.2 477.1,1165.9 478.3,1165.7C479.4,1165.5 480.6,1165.4 481.8,1165.3C482.9,1165.3 484.1,1165.2 485.2,1165.3C486.4,1165.4 487.6,1165.5 488.7,1165.7C489.9,1165.9 491.1,1166.1 492.3,1166.5C493.4,1166.8 494.6,1167.2 495.7,1167.7C497.0,1168.1 498.2,1168.7 499.4,1169.3C500.6,1169.9 501.7,1170.5 502.9,1171.2C504.3,1172.0 505.6,1172.9 507.0,1173.9C508.3,1174.8 509.6,1175.8 510.9,1176.8C511.9,1177.7 512.9,1178.5 513.9,1179.4C514.9,1180.3 515.8,1181.2 516.8,1182.1C517.7,1183.0 518.6,1183.9 519.6,1184.9C520.5,1185.8 521.4,1186.8 522.3,1187.8C523.2,1188.9 524.2,1190.0 525.2,1191.1C526.1,1192.2 527.0,1193.3 528.0,1194.4C528.9,1195.5 529.8,1196.7 530.7,1197.8C531.6,1199.0 532.4,1200.1 533.3,1201.3C534.3,1202.6 535.2,1203.9 536.1,1205.1C537.1,1206.4 538.0,1207.7 538.9,1209.0C539.8,1210.3 540.7,1211.6 541.5,1212.9C542.4,1214.3 543.3,1215.6 544.2,1216.9C544.9,1218.1 545.7,1219.2 546.5,1220.4C547.2,1221.6 548.0,1222.8 548.7,1223.9C549.5,1225.1 550.2,1226.3 550.9,1227.5C551.7,1228.7 552.4,1229.9 553.1,1231.1C553.9,1232.2 554.6,1233.4 555.3,1234.6C556.1,1235.8 556.8,1237.0 557.5,1238.2C558.2,1239.4 559.0,1240.6 559.7,1241.7C560.4,1242.9 561.1,1244.1 561.9,1245.3C562.6,1246.5 563.3,1247.7 564.0,1248.9C564.8,1250.1 565.5,1251.3 566.2,1252.4C566.9,1253.6 567.7,1254.8 568.4,1256.0C569.1,1257.2 569.9,1258.3 570.6,1259.5C571.3,1260.7 572.1,1261.9 572.8,1263.0C573.5,1264.2 574.3,1265.4 575.0,1266.5C575.8,1267.7 576.6,1268.9 577.3,1270.0C578.2,1271.3 579.1,1272.6 580.0,1274.0C580.9,1275.3 581.8,1276.6 582.7,1277.9C583.6,1279.1 584.6,1280.4 585.5,1281.7C586.5,1283.0 587.4,1284.2 588.4,1285.5C589.3,1286.6 590.2,1287.7 591.1,1288.9C592.0,1290.0 592.9,1291.1 593.8,1292.2C594.8,1293.3 595.7,1294.4 596.6,1295.4C597.6,1296.5 598.6,1297.6 599.6,1298.6C600.7,1299.8 601.8,1301.0 603.0,1302.2C604.2,1303.3 605.3,1304.5 606.5,1305.6C607.7,1306.8 608.9,1307.9 610.2,1309.0C611.3,1310.0 612.5,1311.1 613.7,1312.1C614.9,1313.2 616.1,1314.2 617.3,1315.2C618.5,1316.2 619.8,1317.2 621.0,1318.1C622.0,1318.9 622.9,1319.6 623.9,1320.3C624.9,1321.0 625.9,1321.7 626.9,1322.4C627.9,1323.1 628.9,1323.8 629.9,1324.4C630.9,1325.1 631.9,1325.7 632.9,1326.2C633.9,1326.8 635.0,1327.3 636.1,1327.7C637.2,1328.1 638.3,1328.5 639.5,1328.7C640.7,1328.9 641.8,1328.9 643.0,1328.8C644.2,1328.7 645.4,1328.4 646.6,1328.0C647.7,1327.5 648.8,1326.9 649.8,1326.2C651.1,1325.3 652.2,1324.3 653.3,1323.1C654.3,1321.9 655.3,1320.6 656.2,1319.3C656.8,1318.3 657.5,1317.3 658.0,1316.3C658.6,1315.3 659.2,1314.3 659.7,1313.2C660.3,1312.2 660.8,1311.2 661.3,1310.1C661.8,1308.9 662.4,1307.7 662.9,1306.5C663.3,1305.3 663.8,1304.1 664.3,1302.9C664.7,1301.6 665.2,1300.4 665.6,1299.1C666.1,1297.7 666.5,1296.2 667.0,1294.8C667.4,1293.3 667.9,1291.8 668.3,1290.4C668.7,1288.9 669.1,1287.4 669.5,1285.9C669.9,1284.7 670.2,1283.4 670.5,1282.2C670.8,1280.9 671.2,1279.7 671.5,1278.4C671.8,1277.2 672.1,1275.9 672.4,1274.7C672.8,1273.1 673.2,1271.5 673.6,1270.0C674.0,1268.4 674.3,1266.8 674.7,1265.2C675.1,1263.7 675.5,1262.1 675.9,1260.5C676.2,1258.9 676.6,1257.4 677.0,1255.8C677.3,1254.2 677.7,1252.6 678.1,1251.1C678.4,1249.5 678.8,1247.9 679.2,1246.3C679.5,1244.8 679.9,1243.2 680.2,1241.6C680.6,1240.0 680.9,1238.5 681.3,1236.9C681.6,1235.3 682.0,1233.8 682.3,1232.2C682.6,1230.6 683.0,1229.0 683.3,1227.5C683.7,1225.9 684.0,1224.3 684.3,1222.8C684.7,1221.2 685.0,1219.6 685.4,1218.1C685.7,1216.5 686.0,1214.9 686.4,1213.4C686.7,1211.8 687.0,1210.2 687.4,1208.7C687.7,1207.1 688.1,1205.5 688.4,1204.0C688.7,1202.4 689.1,1200.8 689.4,1199.2C689.8,1197.6 690.1,1196.0 690.4,1194.4C690.8,1192.8 691.1,1191.3 691.4,1189.7C691.8,1188.1 692.1,1186.6 692.4,1185.1C692.7,1183.5 693.0,1182.0 693.4,1180.5C693.7,1178.9 694.0,1177.4 694.3,1175.8C694.6,1174.3 694.9,1172.8 695.2,1171.2C695.5,1169.7 695.9,1168.1 696.2,1166.5C696.5,1164.9 696.8,1163.3 697.1,1161.8C697.4,1160.2 697.7,1158.6 698.1,1157.0C698.4,1155.4 698.7,1153.8 699.0,1152.3C699.3,1150.7 699.6,1149.1 699.9,1147.5C700.3,1145.9 700.6,1144.4 700.9,1142.8C701.2,1141.2 701.5,1139.6 701.9,1138.0C702.2,1136.5 702.5,1134.9 702.9,1133.3C703.2,1131.7 703.6,1130.1 703.9,1128.6C704.3,1127.0 704.6,1125.4 705.0,1123.8C705.3,1122.2 705.7,1120.6 706.1,1119.1C706.5,1117.5 706.8,1115.9 707.2,1114.3C707.6,1113.0 707.9,1111.6 708.3,1110.2C708.6,1108.8 709.0,1107.5 709.4,1106.1C709.7,1104.7 710.1,1103.4 710.5,1102.0C710.8,1100.6 711.2,1099.3 711.6,1097.9C712.0,1096.5 712.4,1095.1 712.8,1093.8C713.2,1092.4 713.7,1091.0 714.1,1089.7C714.5,1088.3 714.9,1086.9 715.4,1085.6C715.8,1084.2 716.3,1082.8 716.7,1081.5C717.2,1080.2 717.6,1078.9 718.1,1077.7C718.5,1076.4 719.0,1075.1 719.4,1073.9C719.9,1072.6 720.4,1071.4 720.9,1070.1C721.3,1068.9 721.8,1067.6 722.3,1066.4C722.8,1065.2 723.3,1064.0 723.8,1062.8C724.3,1061.6 724.8,1060.5 725.3,1059.3C725.8,1058.1 726.3,1057.0 726.8,1055.8C727.4,1054.6 727.9,1053.5 728.5,1052.3C729.2,1050.8 729.9,1049.3 730.7,1047.8C731.4,1046.2 732.2,1044.7 733.0,1043.2C733.8,1041.7 734.6,1040.2 735.5,1038.7C736.3,1037.3 737.1,1035.9 738.0,1034.5C738.9,1033.0 739.8,1031.6 740.7,1030.2C741.6,1028.8 742.6,1027.4 743.6,1026.1C744.6,1024.8 745.5,1023.5 746.6,1022.2C747.6,1021.0 748.6,1019.7 749.7,1018.6C750.8,1017.4 751.9,1016.2 753.1,1015.1C754.1,1014.1 755.2,1013.1 756.3,1012.2C757.4,1011.3 758.5,1010.5 759.6,1009.7C760.7,1009.0 761.9,1008.3 763.0,1007.7C764.4,1006.9 765.8,1006.3 767.2,1005.9C768.6,1005.5 770.0,1005.2 771.3,1005.2C772.4,1005.2 773.4,1005.3 774.4,1005.6C775.4,1005.9 776.3,1006.3 777.2,1006.9C778.2,1007.7 779.1,1008.6 779.9,1009.8C780.8,1011.0 781.6,1012.3 782.4,1013.8C783.2,1015.3 784.0,1016.8 784.8,1018.5C785.6,1020.1 786.5,1021.8 787.5,1023.0C788.4,1024.3 789.4,1025.1 790.5,1025.0C791.3,1024.9 792.2,1024.3 793.1,1023.4C794.0,1022.6 794.9,1021.6 795.8,1020.8C796.7,1019.9 797.6,1019.2 798.5,1019.1C799.5,1018.9 800.5,1019.5 801.5,1020.4C802.5,1021.4 803.5,1022.8 804.4,1024.2C805.3,1025.6 806.2,1027.2 807.0,1028.4C807.9,1029.6 808.7,1030.6 809.5,1031.0C810.2,1031.4 810.9,1031.1 811.7,1030.5C812.4,1030.0 813.1,1029.0 813.8,1027.7C814.5,1026.5 815.2,1025.0 815.9,1023.5C816.7,1022.0 817.5,1020.4 818.3,1018.9C819.2,1017.4 820.1,1016.0 821.1,1014.8C822.0,1013.8 823.0,1012.9 823.9,1012.1" fill="none" stroke="#000" stroke-width="5.4" stroke-linecap="round" stroke-linejoin="round" stroke-dasharray="23.3 31.7"/>
<path d="M123.50,1397.35C125.0,1397.3 126.5,1397.2 128.0,1397.2C129.5,1397.1 131.0,1397.1 132.6,1397.0C134.1,1397.0 135.6,1397.0 137.1,1396.9C138.6,1396.9 140.1,1396.8 141.6,1396.8C143.1,1396.8 144.6,1396.7 146.2,1396.7C147.7,1396.7 149.2,1396.6 150.7,1396.6C152.2,1396.6 153.7,1396.6 155.3,1396.6C156.8,1396.6 158.3,1396.6 159.8,1396.6C161.3,1396.6 162.9,1396.6 164.4,1396.6C165.9,1396.7 167.4,1396.7 169.0,1396.7C170.5,1396.8 172.0,1396.8 173.6,1396.9C175.0,1397.0 176.5,1397.0 177.9,1397.1C179.4,1397.2 180.8,1397.2 182.2,1397.3C183.7,1397.3 185.1,1397.4 186.6,1397.4C188.0,1397.4 189.5,1397.4 190.9,1397.3C192.3,1397.3 193.7,1397.2 195.2,1397.1C196.6,1396.9 198.0,1396.8 199.4,1396.5C200.8,1396.3 202.2,1396.0 203.6,1395.6C204.6,1395.3 205.6,1395.0 206.6,1394.6C207.6,1394.3 208.6,1393.8 209.6,1393.3C210.5,1392.8 211.4,1392.2 212.3,1391.5C213.1,1390.8 213.9,1390.1 214.6,1389.3C215.2,1388.5 215.8,1387.6 216.3,1386.8C216.9,1385.9 217.4,1384.9 218.1,1384.0C218.7,1383.1 219.4,1382.2 220.0,1382.2C220.7,1382.2 221.3,1383.5 222.1,1384.5C222.7,1385.3 223.4,1385.9 224.2,1386.3C224.9,1386.8 225.8,1387.2 226.6,1387.6C227.6,1388.1 228.6,1388.6 229.6,1389.1C230.5,1389.5 231.6,1390.0 232.6,1390.4C233.8,1390.9 235.0,1391.3 236.2,1391.6C237.4,1391.9 238.7,1392.1 239.9,1392.3C241.2,1392.5 242.4,1392.6 243.7,1392.6C245.0,1392.7 246.3,1392.7 247.6,1392.8C249.2,1392.8 250.9,1392.7 252.6,1392.6C254.2,1392.5 255.9,1392.4 257.5,1392.3C259.2,1392.1 260.8,1391.9 262.4,1391.7C264.1,1391.5 265.7,1391.3 267.3,1391.0C269.0,1390.7 270.6,1390.5 272.2,1390.2C273.9,1389.9 275.5,1389.7 277.1,1389.4C278.6,1389.1 280.1,1388.9 281.7,1388.6C283.2,1388.4 284.7,1388.1 286.2,1387.8C287.7,1387.6 289.2,1387.3 290.7,1387.0C292.2,1386.7 293.7,1386.4 295.2,1386.1C296.7,1385.8 298.2,1385.4 299.7,1385.1C301.1,1384.7 302.6,1384.4 304.1,1384.0C305.5,1383.6 306.9,1383.2 308.3,1382.8C309.7,1382.4 311.1,1381.9 312.5,1381.5C313.9,1381.0 315.3,1380.6 316.7,1380.1C318.0,1379.7 319.4,1379.2 320.8,1378.8C322.2,1378.3 323.6,1377.8 325.0,1377.4C326.4,1376.9 327.8,1376.5 329.2,1376.1C330.5,1375.7 331.9,1375.3 333.3,1374.9C334.7,1374.5 336.0,1374.1 337.4,1373.7C338.8,1373.4 340.2,1373.1 341.6,1372.7C343.0,1372.4 344.4,1372.1 345.7,1371.8C347.1,1371.5 348.5,1371.2 349.9,1371.0C351.4,1370.7 352.8,1370.5 354.2,1370.3C355.6,1370.1 357.0,1369.9 358.4,1369.7C359.8,1369.5 361.2,1369.4 362.6,1369.2C364.1,1369.1 365.5,1368.9 366.9,1368.8C368.3,1368.7 369.7,1368.6 371.2,1368.5C372.6,1368.4 374.0,1368.3 375.4,1368.3C376.8,1368.2 378.2,1368.1 379.6,1368.1C381.0,1368.0 382.4,1368.0 383.8,1368.0C385.2,1368.0 386.6,1367.9 388.0,1367.9C389.4,1367.9 390.8,1367.9 392.2,1367.9C393.6,1368.0 395.0,1368.0 396.4,1368.0C397.8,1368.1 399.2,1368.1 400.6,1368.2C402.0,1368.2 403.4,1368.3 404.8,1368.3C406.2,1368.4 407.6,1368.5 409.0,1368.6C410.4,1368.7 411.8,1368.7 413.2,1368.8C414.6,1368.9 416.0,1369.1 417.4,1369.2C418.8,1369.3 420.2,1369.4 421.6,1369.5C423.0,1369.6 424.4,1369.7 425.8,1369.8C427.2,1370.0 428.6,1370.1 430.0,1370.2C431.4,1370.3 432.8,1370.3 434.2,1370.4C435.7,1370.5 437.2,1370.6 438.7,1370.6C440.1,1370.7 441.6,1370.7 443.1,1370.8C444.6,1370.8 446.1,1370.9 447.5,1370.9C449.0,1370.9 450.5,1370.9 452.0,1370.9C453.5,1370.9 454.9,1370.9 456.4,1370.9C457.9,1370.9 459.4,1370.9 460.9,1370.9C462.3,1370.9 463.8,1370.9 465.3,1370.9C466.8,1370.9 468.3,1370.9 469.7,1370.9C471.3,1370.8 472.9,1370.8 474.4,1370.8C476.0,1370.8 477.5,1370.8 479.1,1370.8C480.6,1370.8 482.2,1370.8 483.8,1370.7C485.3,1370.7 486.9,1370.7 488.4,1370.7C490.0,1370.7 491.5,1370.7 493.1,1370.6C494.7,1370.6 496.2,1370.6 497.8,1370.6C499.3,1370.6 500.9,1370.5 502.4,1370.5C504.0,1370.5 505.6,1370.4 507.1,1370.4C508.7,1370.3 510.2,1370.3 511.8,1370.2C513.3,1370.2 514.9,1370.1 516.4,1370.1C518.0,1370.0 519.6,1369.9 521.1,1369.9C522.7,1369.8 524.2,1369.7 525.8,1369.7C527.3,1369.6 528.9,1369.5 530.5,1369.4C532.0,1369.3 533.6,1369.3 535.1,1369.2C536.7,1369.1 538.2,1369.0 539.8,1368.9C541.4,1368.8 542.9,1368.8 544.5,1368.7C546.0,1368.6 547.6,1368.5 549.1,1368.4C550.7,1368.3 552.3,1368.3 553.8,1368.2C555.3,1368.1 556.9,1368.0 558.4,1368.0C560.0,1367.9 561.5,1367.8 563.0,1367.8C564.6,1367.7 566.1,1367.6 567.6,1367.6C569.2,1367.5 570.7,1367.5 572.3,1367.4C573.8,1367.3 575.3,1367.3 576.9,1367.2C578.4,1367.2 580.0,1367.1 581.5,1367.1C583.0,1367.1 584.6,1367.0 586.1,1367.0C587.6,1366.9 589.2,1366.9 590.7,1366.9C592.3,1366.8 593.8,1366.8 595.3,1366.8C596.8,1366.8 598.3,1366.7 599.8,1366.7C601.3,1366.7 602.8,1366.7 604.3,1366.7C605.8,1366.7 607.3,1366.7 608.8,1366.7C610.3,1366.6 611.8,1366.6 613.3,1366.7C614.8,1366.7 616.4,1366.7 617.9,1366.7C619.4,1366.7 620.9,1366.7 622.4,1366.7C623.9,1366.7 625.4,1366.8 626.9,1366.8C628.4,1366.8 629.9,1366.8 631.4,1366.9C632.9,1366.9 634.4,1367.0 635.9,1367.0C637.4,1367.1 638.9,1367.1 640.4,1367.2C641.9,1367.2 643.4,1367.3 644.9,1367.4C646.4,1367.5 647.9,1367.6 649.4,1367.7C650.9,1367.8 652.4,1367.9 653.9,1368.1C655.4,1368.2 656.9,1368.4 658.4,1368.5C659.9,1368.7 661.4,1368.9 662.9,1369.1C664.4,1369.3 666.0,1369.5 667.5,1369.7C669.0,1369.9 670.5,1370.2 672.0,1370.5C673.5,1370.7 675.0,1371.0 676.5,1371.3C678.0,1371.6 679.5,1371.9 681.0,1372.2C682.5,1372.5 684.0,1372.9 685.4,1373.2C686.9,1373.6 688.4,1373.9 689.9,1374.3C691.4,1374.7 692.9,1375.1 694.4,1375.5C695.8,1375.9 697.3,1376.4 698.8,1376.8C700.3,1377.2 701.8,1377.7 703.2,1378.1C704.7,1378.6 706.2,1379.0 707.7,1379.5C709.1,1379.9 710.6,1380.4 712.1,1380.8C713.5,1381.3 715.0,1381.7 716.5,1382.2C718.0,1382.6 719.5,1383.1 720.9,1383.5C722.4,1383.9 723.9,1384.3 725.4,1384.8C726.9,1385.2 728.4,1385.6 729.9,1386.0C731.4,1386.4 732.9,1386.8 734.4,1387.1C735.9,1387.5 737.4,1387.9 738.9,1388.2C740.4,1388.6 741.9,1388.9 743.4,1389.2C744.9,1389.5 746.4,1389.8 747.9,1390.1C749.4,1390.4 750.9,1390.7 752.4,1391.0C753.8,1391.2 755.2,1391.4 756.6,1391.6C758.0,1391.9 759.4,1392.1 760.8,1392.3C762.2,1392.5 763.6,1392.6 765.0,1392.8C766.4,1393.0 767.8,1393.2 769.2,1393.4C770.6,1393.5 772.0,1393.7 773.5,1393.9C774.9,1394.1 776.3,1394.2 777.7,1394.4C779.2,1394.5 780.6,1394.7 782.0,1394.8C783.5,1394.8 784.9,1394.9 786.3,1394.9C787.7,1394.9 789.1,1394.8 790.4,1394.6C791.8,1394.5 793.2,1394.2 794.5,1393.9C795.7,1393.6 796.9,1393.1 798.1,1392.7C799.3,1392.2 800.5,1391.7 801.7,1391.1C802.9,1390.5 804.1,1389.9 805.3,1389.3C806.5,1388.7 807.7,1388.1 809.0,1387.5C810.0,1387.1 811.0,1386.7 812.0,1386.3C813.0,1386.0 814.0,1385.8 815.0,1385.8C816.1,1385.9 817.2,1386.1 818.2,1386.5C819.3,1386.8 820.4,1387.2 821.5,1387.5C822.3,1387.8 823.2,1387.9 824.0,1388.1" fill="none" stroke="#000" stroke-width="5.4" stroke-linecap="round" stroke-linejoin="round"/>
<path d="M123.50,850.82C125.1,850.8 126.7,850.7 128.4,850.7C130.0,850.7 131.6,850.6 133.2,850.6C134.9,850.5 136.5,850.5 138.1,850.5C139.7,850.4 141.3,850.4 143.0,850.4C144.6,850.3 146.2,850.3 147.8,850.3C149.5,850.3 151.1,850.2 152.7,850.2C154.3,850.2 155.9,850.2 157.6,850.2C159.2,850.2 160.8,850.2 162.4,850.2C164.0,850.2 165.7,850.2 167.3,850.2C168.9,850.2 170.5,850.2 172.1,850.2C173.8,850.3 175.4,850.3 177.0,850.3C178.6,850.4 180.2,850.4 181.8,850.5C183.5,850.5 185.1,850.6 186.7,850.7C188.3,850.7 189.9,850.8 191.6,850.9C192.8,850.9 194.0,851.0 195.2,851.1C196.4,851.2 197.6,851.2 198.9,851.3C200.1,851.4 201.3,851.5 202.5,851.6C203.9,851.7 205.3,851.8 206.7,851.9C208.0,852.0 209.4,852.1 210.8,852.2C212.2,852.3 213.6,852.4 214.9,852.5C216.3,852.5 217.7,852.5 219.1,852.5C220.7,852.5 222.3,852.5 223.9,852.4C225.5,852.4 227.1,852.3 228.7,852.2C230.4,852.1 232.0,852.0 233.6,852.0C235.0,851.9 236.5,851.9 237.9,851.9C239.4,851.9 240.8,851.9 242.3,851.9C243.7,851.9 245.1,851.9 246.6,851.9C248.1,852.0 249.6,852.0 251.1,852.0C252.6,852.0 254.1,852.1 255.6,852.1C257.1,852.1 258.6,852.2 260.1,852.2C261.6,852.2 263.1,852.3 264.6,852.3C266.1,852.3 267.6,852.4 269.1,852.4C270.6,852.5 272.1,852.5 273.6,852.5C275.2,852.6 276.8,852.6 278.4,852.7C279.9,852.7 281.5,852.8 283.1,852.8C284.7,852.9 286.3,852.9 287.9,853.0C289.5,853.0 291.0,853.1 292.6,853.1C294.2,853.2 295.8,853.3 297.4,853.3C299.0,853.4 300.5,853.4 302.1,853.5C303.8,853.5 305.4,853.6 307.0,853.6C308.7,853.7 310.3,853.8 311.9,853.8C313.6,853.9 315.2,853.9 316.8,854.0C318.5,854.0 320.1,854.1 321.7,854.1C323.4,854.1 325.0,854.2 326.6,854.2C328.3,854.3 329.9,854.3 331.5,854.3C333.1,854.3 334.7,854.3 336.3,854.3C337.9,854.4 339.5,854.4 341.2,854.4C342.8,854.4 344.4,854.4 346.0,854.4C347.6,854.3 349.2,854.3 350.8,854.3C352.4,854.3 354.1,854.3 355.7,854.2C357.2,854.2 358.8,854.2 360.3,854.1C361.9,854.1 363.4,854.1 365.0,854.0C366.6,854.0 368.1,853.9 369.7,853.9C371.2,853.8 372.8,853.8 374.3,853.7C375.9,853.7 377.5,853.6 379.0,853.6C380.6,853.5 382.1,853.5 383.7,853.4C385.1,853.4 386.5,853.3 388.0,853.3C389.4,853.2 390.8,853.2 392.3,853.2C393.7,853.1 395.1,853.1 396.6,853.0C398.0,853.0 399.4,852.9 400.8,852.9C402.3,852.9 403.7,852.8 405.1,852.8C406.6,852.7 408.0,852.7 409.4,852.7C410.8,852.6 412.3,852.6 413.7,852.5C415.3,852.5 416.9,852.5 418.5,852.4C420.0,852.4 421.6,852.3 423.2,852.3C424.8,852.3 426.4,852.2 428.0,852.2C429.6,852.2 431.1,852.1 432.7,852.1C434.3,852.1 435.9,852.0 437.5,852.0C439.1,851.9 440.6,851.9 442.2,851.9C443.8,851.8 445.4,851.8 447.0,851.8C448.6,851.8 450.1,851.7 451.7,851.7C453.3,851.7 454.9,851.6 456.5,851.6C458.1,851.6 459.7,851.6 461.2,851.5C462.8,851.5 464.4,851.5 466.0,851.5C467.6,851.4 469.2,851.4 470.7,851.4C472.3,851.4 473.9,851.4 475.5,851.3C477.1,851.3 478.7,851.3 480.3,851.3C481.9,851.3 483.5,851.2 485.1,851.2C486.7,851.2 488.2,851.2 489.8,851.2C491.4,851.2 493.0,851.2 494.6,851.2C496.2,851.2 497.8,851.2 499.4,851.2C501.0,851.2 502.6,851.2 504.2,851.2C505.7,851.2 507.3,851.2 508.9,851.2C510.5,851.2 512.1,851.2 513.7,851.2C515.3,851.2 516.9,851.2 518.5,851.2C520.1,851.2 521.7,851.3 523.2,851.3C524.8,851.3 526.4,851.3 528.0,851.3C529.6,851.4 531.2,851.4 532.8,851.4C534.3,851.5 535.9,851.5 537.4,851.5C538.9,851.6 540.5,851.6 542.0,851.6C543.5,851.7 545.1,851.7 546.6,851.8C548.1,851.8 549.7,851.9 551.2,851.9C552.7,852.0 554.3,852.0 555.8,852.1C557.3,852.1 558.9,852.2 560.4,852.2C561.9,852.3 563.5,852.3 565.0,852.4C566.6,852.4 568.1,852.5 569.6,852.5C571.2,852.6 572.7,852.6 574.2,852.7C575.8,852.7 577.3,852.8 578.8,852.8C580.4,852.9 581.9,852.9 583.4,853.0C584.9,853.0 586.5,853.0 588.0,853.1C589.5,853.1 591.1,853.2 592.6,853.2C594.1,853.3 595.6,853.3 597.2,853.3C598.7,853.4 600.2,853.4 601.8,853.5C603.3,853.5 604.8,853.5 606.3,853.6C607.9,853.6 609.4,853.7 610.9,853.7C612.5,853.7 614.0,853.8 615.5,853.8C617.0,853.9 618.6,853.9 620.1,853.9C621.6,854.0 623.2,854.0 624.7,854.0C626.2,854.1 627.7,854.1 629.3,854.2C630.8,854.2 632.3,854.2 633.9,854.3C635.4,854.3 636.9,854.4 638.5,854.4C640.0,854.4 641.5,854.5 643.0,854.5C644.6,854.6 646.1,854.6 647.6,854.7C649.2,854.7 650.7,854.8 652.2,854.8C653.7,854.8 655.3,854.9 656.8,854.9C658.3,855.0 659.9,855.0 661.4,855.1C662.9,855.1 664.4,855.2 666.0,855.2C667.5,855.3 669.0,855.3 670.6,855.4C672.1,855.4 673.6,855.5 675.1,855.5C676.7,855.6 678.2,855.6 679.7,855.7C681.3,855.7 682.8,855.8 684.3,855.9C685.8,855.9 687.4,856.0 688.9,856.0C690.4,856.1 692.0,856.1 693.5,856.2C695.0,856.3 696.5,856.3 698.1,856.4C699.6,856.4 701.1,856.5 702.7,856.6C704.2,856.6 705.7,856.7 707.3,856.8C708.8,856.8 710.3,856.9 711.8,856.9C713.4,857.0 714.9,857.1 716.4,857.1C718.0,857.2 719.5,857.3 721.0,857.3C722.5,857.4 724.1,857.5 725.6,857.5C727.1,857.6 728.7,857.7 730.2,857.8C731.7,857.8 733.2,857.9 734.8,858.0C736.3,858.0 737.8,858.1 739.4,858.2C740.9,858.2 742.4,858.3 743.9,858.4C745.4,858.4 746.8,858.5 748.2,858.6C749.7,858.6 751.1,858.7 752.5,858.8C754.0,858.8 755.4,858.9 756.8,858.9C758.2,859.0 759.7,859.0 761.1,859.1C762.5,859.2 764.0,859.2 765.4,859.2C766.8,859.3 768.3,859.3 769.7,859.4C771.1,859.4 772.5,859.4 774.0,859.5C775.4,859.5 776.7,859.5 778.1,859.5C779.5,859.6 780.9,859.6 782.3,859.6C783.7,859.7 785.1,859.7 786.5,859.8C787.9,859.9 789.3,860.0 790.6,860.1C792.0,860.2 793.4,860.4 794.8,860.5C796.2,860.7 797.6,861.0 799.0,861.2C800.4,861.5 801.8,861.8 803.2,862.1C804.6,862.4 806.0,862.7 807.4,862.8C808.7,863.0 810.1,863.0 811.5,862.9C812.7,862.8 813.9,862.5 815.2,862.2C816.4,861.9 817.6,861.5 818.8,861.1C820.0,860.7 821.3,860.4 822.5,860.2C823.0,860.1 823.5,860.0 824.0,859.9" fill="none" stroke="#ff0000" stroke-width="5.4" stroke-linecap="round" stroke-linejoin="round"/>
<path d="M123.50,1397.35C125.0,1397.3 126.5,1397.2 128.0,1397.2C129.5,1397.1 131.0,1397.1 132.6,1397.0C134.1,1397.0 135.6,1397.0 137.1,1396.9C138.6,1396.9 140.1,1396.8 141.6,1396.8C143.1,1396.8 144.6,1396.7 146.2,1396.7C147.7,1396.7 149.2,1396.6 150.7,1396.6C152.2,1396.6 153.7,1396.6 155.3,1396.6C156.8,1396.6 158.3,1396.6 159.8,1396.6C161.3,1396.6 162.9,1396.6 164.4,1396.6C165.9,1396.7 167.4,1396.7 169.0,1396.7C170.5,1396.8 172.0,1396.8 173.6,1396.9C175.0,1397.0 176.5,1397.0 177.9,1397.1C179.4,1397.2 180.8,1397.2 182.2,1397.3C183.7,1397.3 185.1,1397.4 186.6,1397.4C188.0,1397.4 189.5,1397.4 190.9,1397.3C192.3,1397.3 193.7,1397.2 195.2,1397.1C196.6,1396.9 198.0,1396.8 199.4,1396.5C200.8,1396.3 202.2,1396.0 203.6,1395.6C204.6,1395.3 205.6,1395.0 206.6,1394.6C207.6,1394.3 208.6,1393.8 209.6,1393.3C210.5,1392.8 211.4,1392.2 212.3,1391.5C213.1,1390.8 213.9,1390.1 214.6,1389.3C215.2,1388.5 215.8,1387.6 216.3,1386.8C216.9,1385.9 217.4,1384.9 218.1,1384.0C218.7,1383.1 219.4,1382.2 220.0,1382.2C220.7,1382.2 221.3,1383.5 222.1,1384.5C222.7,1385.3 223.4,1385.9 224.2,1386.3C224.9,1386.8 225.8,1387.2 226.6,1387.6C227.6,1388.1 228.6,1388.6 229.6,1389.1C230.5,1389.5 231.6,1390.0 232.6,1390.4C233.8,1390.9 235.0,1391.3 236.2,1391.6C237.4,1391.9 238.7,1392.1 239.9,1392.3C241.2,1392.5 242.4,1392.6 243.7,1392.6C245.0,1392.7 246.3,1392.7 247.6,1392.8C249.2,1392.8 250.9,1392.7 252.6,1392.6C254.2,1392.5 255.9,1392.4 257.5,1392.3C259.2,1392.1 260.8,1391.9 262.4,1391.7C264.1,1391.5 265.7,1391.3 267.3,1391.0C269.0,1390.7 270.6,1390.5 272.2,1390.2C273.9,1389.9 275.5,1389.7 277.1,1389.4C278.6,1389.1 280.1,1388.9 281.7,1388.6C283.2,1388.4 284.7,1388.1 286.2,1387.8C287.7,1387.6 289.2,1387.3 290.7,1387.0C292.2,1386.7 293.7,1386.4 295.2,1386.1C296.7,1385.8 298.2,1385.4 299.7,1385.1C301.1,1384.7 302.6,1384.4 304.1,1384.0C305.5,1383.6 306.9,1383.2 308.3,1382.8C309.7,1382.4 311.1,1381.9 312.5,1381.5C313.9,1381.0 315.3,1380.6 316.7,1380.1C318.0,1379.7 319.4,1379.2 320.8,1378.8C322.2,1378.3 323.6,1377.8 325.0,1377.4C326.4,1376.9 327.8,1376.5 329.2,1376.1C330.5,1375.7 331.9,1375.3 333.3,1374.9C334.7,1374.5 336.0,1374.1 337.4,1373.7C338.8,1373.4 340.2,1373.1 341.6,1372.7C343.0,1372.4 344.4,1372.1 345.7,1371.8C347.1,1371.5 348.5,1371.2 349.9,1371.0C351.4,1370.7 352.8,1370.5 354.2,1370.3C355.6,1370.1 357.0,1369.9 358.4,1369.7C359.8,1369.5 361.2,1369.4 362.6,1369.2C364.1,1369.1 365.5,1368.9 366.9,1368.8C368.3,1368.7 369.7,1368.6 371.2,1368.5C372.6,1368.4 374.0,1368.3 375.4,1368.3C376.8,1368.2 378.2,1368.1 379.6,1368.1C381.0,1368.0 382.4,1368.0 383.8,1368.0C385.2,1368.0 386.6,1367.9 388.0,1367.9C389.4,1367.9 390.8,1367.9 392.2,1367.9C393.6,1368.0 395.0,1368.0 396.4,1368.0C397.8,1368.1 399.2,1368.1 400.6,1368.2C402.0,1368.2 403.4,1368.3 404.8,1368.3C406.2,1368.4 407.6,1368.5 409.0,1368.6C410.4,1368.7 411.8,1368.7 413.2,1368.8C414.6,1368.9 416.0,1369.1 417.4,1369.2C418.8,1369.3 420.2,1369.4 421.6,1369.5C423.0,1369.6 424.4,1369.7 425.8,1369.8C427.2,1370.0 428.6,1370.1 430.0,1370.2C431.4,1370.3 432.8,1370.3 434.2,1370.4C435.7,1370.5 437.2,1370.6 438.7,1370.6C440.1,1370.7 441.6,1370.7 443.1,1370.8C444.6,1370.8 446.1,1370.9 447.5,1370.9C449.0,1370.9 450.5,1370.9 452.0,1370.9C453.5,1370.9 454.9,1370.9 456.4,1370.9C457.9,1370.9 459.4,1370.9 460.9,1370.9C462.3,1370.9 463.8,1370.9 465.3,1370.9C466.8,1370.9 468.3,1370.9 469.7,1370.9C471.3,1370.8 472.9,1370.8 474.4,1370.8C476.0,1370.8 477.5,1370.8 479.1,1370.8C480.6,1370.8 482.2,1370.8 483.8,1370.7C485.3,1370.7 486.9,1370.7 488.4,1370.7C490.0,1370.7 491.5,1370.7 493.1,1370.6C494.7,1370.6 496.2,1370.6 497.8,1370.6C499.3,1370.6 500.9,1370.5 502.4,1370.5C504.0,1370.5 505.6,1370.4 507.1,1370.4C508.7,1370.3 510.2,1370.3 511.8,1370.2C513.3,1370.2 514.9,1370.1 516.4,1370.1C518.0,1370.0 519.6,1369.9 521.1,1369.9C522.7,1369.8 524.2,1369.7 525.8,1369.7C527.3,1369.6 528.9,1369.5 530.5,1369.4C532.0,1369.3 533.6,1369.3 535.1,1369.2C536.7,1369.1 538.2,1369.0 539.8,1368.9C541.4,1368.8 542.9,1368.8 544.5,1368.7C546.0,1368.6 547.6,1368.5 549.1,1368.4C550.7,1368.3 552.3,1368.3 553.8,1368.2C555.3,1368.1 556.9,1368.0 558.4,1368.0C560.0,1367.9 561.5,1367.8 563.0,1367.8C564.6,1367.7 566.1,1367.6 567.6,1367.6C569.2,1367.5 570.7,1367.5 572.3,1367.4C573.8,1367.3 575.3,1367.3 576.9,1367.2C578.4,1367.2 580.0,1367.1 581.5,1367.1C583.0,1367.1 584.6,1367.0 586.1,1367.0C587.6,1366.9 589.2,1366.9 590.7,1366.9C592.3,1366.8 593.8,1366.8 595.3,1366.8C596.8,1366.8 598.3,1366.7 599.8,1366.7C601.3,1366.7 602.8,1366.7 604.3,1366.7C605.8,1366.7 607.3,1366.7 608.8,1366.7C610.3,1366.6 611.8,1366.6 613.3,1366.7C614.8,1366.7 616.4,1366.7 617.9,1366.7C619.4,1366.7 620.9,1366.7 622.4,1366.7C623.9,1366.7 625.4,1366.8 626.9,1366.8C628.4,1366.8 629.9,1366.8 631.4,1366.9C632.9,1366.9 634.4,1367.0 635.9,1367.0C637.4,1367.1 638.9,1367.1 640.4,1367.2C641.9,1367.2 643.4,1367.3 644.9,1367.4C646.4,1367.5 647.9,1367.6 649.4,1367.7C650.9,1367.8 652.4,1367.9 653.9,1368.1C655.4,1368.2 656.9,1368.4 658.4,1368.5C659.9,1368.7 661.4,1368.9 662.9,1369.1C664.4,1369.3 666.0,1369.5 667.5,1369.7C669.0,1369.9 670.5,1370.2 672.0,1370.5C673.5,1370.7 675.0,1371.0 676.5,1371.3C678.0,1371.6 679.5,1371.9 681.0,1372.2C682.5,1372.5 684.0,1372.9 685.4,1373.2C686.9,1373.6 688.4,1373.9 689.9,1374.3C691.4,1374.7 692.9,1375.1 694.4,1375.5C695.8,1375.9 697.3,1376.4 698.8,1376.8C700.3,1377.2 701.8,1377.7 703.2,1378.1C704.7,1378.6 706.2,1379.0 707.7,1379.5C709.1,1379.9 710.6,1380.4 712.1,1380.8C713.5,1381.3 715.0,1381.7 716.5,1382.2C718.0,1382.6 719.5,1383.1 720.9,1383.5C722.4,1383.9 723.9,1384.3 725.4,1384.8C726.9,1385.2 728.4,1385.6 729.9,1386.0C731.4,1386.4 732.9,1386.8 734.4,1387.1C735.9,1387.5 737.4,1387.9 738.9,1388.2C740.4,1388.6 741.9,1388.9 743.4,1389.2C744.9,1389.5 746.4,1389.8 747.9,1390.1C749.4,1390.4 750.9,1390.7 752.4,1391.0C753.8,1391.2 755.2,1391.4 756.6,1391.6C758.0,1391.9 759.4,1392.1 760.8,1392.3C762.2,1392.5 763.6,1392.6 765.0,1392.8C766.4,1393.0 767.8,1393.2 769.2,1393.4C770.6,1393.5 772.0,1393.7 773.5,1393.9C774.9,1394.1 776.3,1394.2 777.7,1394.4C779.2,1394.5 780.6,1394.7 782.0,1394.8C783.5,1394.8 784.9,1394.9 786.3,1394.9C787.7,1394.9 789.1,1394.8 790.4,1394.6C791.8,1394.5 793.2,1394.2 794.5,1393.9C795.7,1393.6 796.9,1393.1 798.1,1392.7C799.3,1392.2 800.5,1391.7 801.7,1391.1C802.9,1390.5 804.1,1389.9 805.3,1389.3C806.5,1388.7 807.7,1388.1 809.0,1387.5C810.0,1387.1 811.0,1386.7 812.0,1386.3C813.0,1386.0 814.0,1385.8 815.0,1385.8C816.1,1385.9 817.2,1386.1 818.2,1386.5C819.3,1386.8 820.4,1387.2 821.5,1387.5C822.3,1387.8 823.2,1387.9 824.0,1388.1" fill="none" stroke="#ff0000" stroke-width="5.4" stroke-linecap="round" stroke-linejoin="round" stroke-dasharray="23.3 31.7"/>
</g>
<rect x="123.5" y="822" width="700.5" height="576.5" fill="none" stroke="#000" stroke-width="4.6"/>
<path d="M123.5 1398.5V1412.5M173.54 1398.5V1407.1M223.57 1398.5V1412.5M273.61 1398.5V1407.1M323.64 1398.5V1412.5M373.68 1398.5V1407.1M423.71 1398.5V1412.5M473.75 1398.5V1407.1M523.79 1398.5V1412.5M573.82 1398.5V1407.1M623.86 1398.5V1412.5M673.89 1398.5V1407.1M723.93 1398.5V1412.5M773.96 1398.5V1407.1M824 1398.5V1412.5M123.5 1398.5H110M123.5 1340.85H115M123.5 1283.2H110M123.5 1225.55H115M123.5 1167.9H110M123.5 1110.25H115M123.5 1052.6H110M123.5 994.95H115M123.5 937.3H110M123.5 879.65H115M123.5 822H110" stroke="#000" stroke-width="3.6" fill="none"/>
<g font-family="'Liberation Sans', Arial, sans-serif" font-size="37" fill="#000">
<text transform="translate(123.5 1450.8) scale(0.94 1)" text-anchor="middle">2</text>
<text transform="translate(223.57 1450.8) scale(0.94 1)" text-anchor="middle">4</text>
<text transform="translate(323.64 1450.8) scale(0.94 1)" text-anchor="middle">6</text>
<text transform="translate(423.71 1450.8) scale(0.94 1)" text-anchor="middle">8</text>
<text transform="translate(523.79 1450.8) scale(0.94 1)" text-anchor="middle">10</text>
<text transform="translate(623.86 1450.8) scale(0.94 1)" text-anchor="middle">12</text>
<text transform="translate(723.93 1450.8) scale(0.94 1)" text-anchor="middle">14</text>
<text transform="translate(824 1450.8) scale(0.94 1)" text-anchor="middle">16</text>
<text transform="translate(100.8 1409.3) scale(0.94 1)" text-anchor="end">0.0</text>
<text transform="translate(100.8 1294) scale(0.94 1)" text-anchor="end">0.2</text>
<text transform="translate(100.8 1178.7) scale(0.94 1)" text-anchor="end">0.4</text>
<text transform="translate(100.8 1063.4) scale(0.94 1)" text-anchor="end">0.6</text>
<text transform="translate(100.8 948.1) scale(0.94 1)" text-anchor="end">0.8</text>
<text transform="translate(100.8 832.8) scale(0.94 1)" text-anchor="end">1.0</text>
</g>
<text x="473.7" y="1512.8" font-family="'Liberation Serif', 'Times New Roman', serif" font-size="50" text-anchor="middle" textLength="336" lengthAdjust="spacingAndGlyphs">Frequency (GHz)</text>
<text transform="translate(35.7 1107.5) rotate(-90)" font-family="'Liberation Serif', 'Times New Roman', serif" font-size="49" text-anchor="middle" textLength="436.5" lengthAdjust="spacingAndGlyphs" style="font-variant-ligatures:none">Reflection Coefficient</text>
<text x="411.4" y="1585.6" font-family="'Liberation Serif', 'Times New Roman', serif" font-size="46" text-anchor="middle">(c)</text>
<path d="M422.2 903.8H487" stroke="#000" stroke-width="5.4" stroke-linecap="round" stroke-dasharray="23.3 31.7"/>
<path d="M422.2 970.7H487" stroke="#000" stroke-width="5.4" stroke-linecap="round"/>
<path d="M422.2 1037.5H487" stroke="#ff0000" stroke-width="5.4" stroke-linecap="round"/>
<path d="M422.2 1104.3H487" stroke="#ff0000" stroke-width="5.4" stroke-linecap="round" stroke-dasharray="23.3 31.7"/>
<g font-family="'Liberation Serif', 'Times New Roman', serif" font-weight="bold" fill="#000">
<text x="495.6" y="914.9" font-size="35.5">R</text>
<text x="521.53" y="902.4" font-size="34">f</text>
<text x="521.53" y="922.7" font-size="34">xx</text>
<text x="495.6" y="981.8" font-size="35.5">R</text>
<text x="521.53" y="969.3" font-size="34">f</text>
<text x="521.53" y="989.6" font-size="34">yx</text>
<text x="495.6" y="1048.6" font-size="35.5">R</text>
<text x="521.53" y="1036.1" font-size="34">f</text>
<text x="521.53" y="1056.4" font-size="34">yy</text>
<text x="495.6" y="1115.4" font-size="35.5">R</text>
<text x="521.53" y="1102.9" font-size="34">f</text>
<text x="521.53" y="1123.2" font-size="34">xy</text>
</g>
<g clip-path="url(#clipd)">
<path d="M966.50,854.07C968.1,854.0 969.7,854.0 971.3,854.0C973.0,853.9 974.6,853.9 976.2,853.8C977.8,853.8 979.4,853.8 981.0,853.7C982.6,853.7 984.2,853.7 985.9,853.6C987.5,853.6 989.1,853.6 990.7,853.5C992.3,853.5 993.9,853.5 995.5,853.5C997.1,853.5 998.7,853.5 1000.4,853.4C1002.0,853.4 1003.6,853.4 1005.2,853.4C1006.8,853.4 1008.4,853.4 1010.0,853.5C1011.6,853.5 1013.2,853.5 1014.9,853.5C1016.5,853.5 1018.1,853.6 1019.7,853.6C1021.3,853.6 1022.9,853.7 1024.5,853.7C1026.1,853.8 1027.7,853.8 1029.3,853.9C1030.9,854.0 1032.6,854.1 1034.2,854.1C1035.4,854.2 1036.6,854.3 1037.8,854.3C1039.0,854.4 1040.2,854.5 1041.4,854.6C1042.7,854.7 1043.9,854.8 1045.1,854.9C1046.4,855.0 1047.8,855.1 1049.2,855.2C1050.6,855.3 1051.9,855.4 1053.3,855.5C1054.7,855.6 1056.0,855.6 1057.4,855.7C1058.8,855.8 1060.2,855.8 1061.5,855.8C1063.1,855.8 1064.7,855.7 1066.3,855.7C1067.9,855.6 1069.5,855.5 1071.1,855.4C1072.7,855.4 1074.3,855.3 1075.9,855.2C1077.4,855.2 1078.8,855.1 1080.3,855.1C1081.7,855.1 1083.1,855.1 1084.6,855.1C1086.0,855.1 1087.4,855.2 1088.9,855.2C1090.4,855.2 1091.9,855.2 1093.4,855.2C1094.9,855.3 1096.3,855.3 1097.8,855.3C1099.3,855.4 1100.8,855.4 1102.3,855.4C1103.8,855.5 1105.3,855.5 1106.8,855.5C1108.3,855.6 1109.8,855.6 1111.3,855.7C1112.8,855.7 1114.3,855.7 1115.7,855.8C1117.3,855.8 1118.9,855.9 1120.5,855.9C1122.1,856.0 1123.6,856.0 1125.2,856.1C1126.8,856.1 1128.4,856.2 1129.9,856.2C1131.5,856.3 1133.1,856.3 1134.7,856.4C1136.2,856.4 1137.8,856.5 1139.4,856.5C1141.0,856.6 1142.5,856.6 1144.1,856.7C1145.7,856.8 1147.4,856.8 1149.0,856.9C1150.6,856.9 1152.2,857.0 1153.9,857.0C1155.5,857.1 1157.1,857.1 1158.7,857.2C1160.4,857.2 1162.0,857.3 1163.6,857.3C1165.2,857.4 1166.9,857.4 1168.5,857.4C1170.1,857.5 1171.7,857.5 1173.3,857.5C1174.9,857.5 1176.5,857.6 1178.1,857.6C1179.7,857.6 1181.3,857.6 1182.9,857.6C1184.5,857.6 1186.1,857.6 1187.7,857.6C1189.3,857.6 1190.9,857.5 1192.5,857.5C1194.1,857.5 1195.7,857.5 1197.3,857.5C1198.9,857.4 1200.4,857.4 1202.0,857.4C1203.5,857.3 1205.1,857.3 1206.6,857.2C1208.2,857.2 1209.7,857.1 1211.3,857.1C1212.8,857.1 1214.4,857.0 1215.9,857.0C1217.5,856.9 1219.0,856.9 1220.6,856.8C1222.1,856.8 1223.7,856.7 1225.2,856.6C1226.9,856.6 1228.5,856.5 1230.2,856.5C1231.8,856.4 1233.5,856.4 1235.1,856.3C1236.8,856.3 1238.5,856.2 1240.1,856.2C1241.8,856.1 1243.4,856.1 1245.1,856.1C1246.8,856.0 1248.4,856.0 1250.1,855.9C1251.7,855.9 1253.4,855.8 1255.1,855.8C1256.6,855.7 1258.2,855.7 1259.8,855.7C1261.4,855.6 1262.9,855.6 1264.5,855.5C1266.1,855.5 1267.7,855.5 1269.2,855.4C1270.8,855.4 1272.4,855.4 1274.0,855.3C1275.5,855.3 1277.1,855.3 1278.7,855.2C1280.3,855.2 1281.8,855.2 1283.4,855.1C1285.0,855.1 1286.6,855.1 1288.1,855.0C1289.7,855.0 1291.3,855.0 1292.9,854.9C1294.4,854.9 1296.0,854.9 1297.6,854.9C1299.2,854.8 1300.7,854.8 1302.3,854.8C1303.9,854.8 1305.5,854.7 1307.0,854.7C1308.6,854.7 1310.2,854.7 1311.8,854.6C1313.3,854.6 1314.9,854.6 1316.5,854.6C1318.1,854.6 1319.7,854.5 1321.3,854.5C1322.8,854.5 1324.4,854.5 1326.0,854.5C1327.6,854.5 1329.2,854.5 1330.7,854.4C1332.3,854.4 1333.9,854.4 1335.5,854.4C1337.1,854.4 1338.7,854.4 1340.2,854.4C1341.8,854.4 1343.4,854.4 1345.0,854.4C1346.6,854.4 1348.1,854.4 1349.7,854.4C1351.3,854.4 1352.9,854.4 1354.5,854.4C1356.1,854.4 1357.6,854.5 1359.2,854.5C1360.8,854.5 1362.4,854.5 1364.0,854.5C1365.5,854.5 1367.1,854.6 1368.7,854.6C1370.3,854.6 1371.9,854.6 1373.5,854.7C1375.0,854.7 1376.5,854.7 1378.0,854.8C1379.6,854.8 1381.1,854.9 1382.6,854.9C1384.1,854.9 1385.7,855.0 1387.2,855.0C1388.7,855.1 1390.2,855.1 1391.8,855.2C1393.3,855.2 1394.8,855.2 1396.3,855.3C1397.9,855.3 1399.4,855.4 1400.9,855.4C1402.4,855.5 1404.0,855.5 1405.5,855.6C1407.0,855.6 1408.5,855.7 1410.1,855.7C1411.6,855.8 1413.1,855.8 1414.6,855.9C1416.2,855.9 1417.7,856.0 1419.2,856.0C1420.9,856.1 1422.5,856.1 1424.2,856.2C1425.9,856.2 1427.5,856.3 1429.2,856.3C1430.8,856.4 1432.5,856.4 1434.1,856.5C1435.8,856.5 1437.5,856.6 1439.1,856.6C1440.8,856.7 1442.4,856.7 1444.1,856.7C1445.8,856.8 1447.4,856.8 1449.1,856.9C1450.7,856.9 1452.4,857.0 1454.0,857.0C1455.7,857.0 1457.4,857.1 1459.0,857.1C1460.7,857.2 1462.3,857.2 1464.0,857.2C1465.7,857.3 1467.3,857.3 1469.0,857.4C1470.6,857.4 1472.3,857.5 1473.9,857.5C1475.6,857.5 1477.3,857.6 1478.9,857.6C1480.6,857.7 1482.2,857.7 1483.9,857.8C1485.6,857.8 1487.2,857.9 1488.9,857.9C1490.5,858.0 1492.2,858.0 1493.9,858.1C1495.5,858.1 1497.2,858.2 1498.8,858.2C1500.5,858.3 1502.1,858.3 1503.8,858.4C1505.5,858.4 1507.1,858.5 1508.8,858.5C1510.4,858.6 1512.1,858.6 1513.8,858.7C1515.4,858.7 1517.1,858.8 1518.7,858.9C1520.4,858.9 1522.0,859.0 1523.7,859.0C1525.4,859.1 1527.0,859.2 1528.7,859.2C1530.3,859.3 1532.0,859.4 1533.6,859.4C1535.3,859.5 1537.0,859.5 1538.6,859.6C1540.3,859.7 1541.9,859.7 1543.6,859.8C1545.3,859.9 1546.9,860.0 1548.6,860.0C1550.2,860.1 1551.9,860.2 1553.6,860.2C1555.2,860.3 1556.9,860.4 1558.5,860.4C1560.2,860.5 1561.8,860.6 1563.5,860.7C1565.2,860.7 1566.8,860.8 1568.5,860.9C1570.1,861.0 1571.8,861.0 1573.5,861.1C1575.1,861.2 1576.8,861.3 1578.4,861.3C1580.1,861.4 1581.7,861.5 1583.4,861.6C1585.1,861.6 1586.7,861.7 1588.4,861.8C1590.0,861.9 1591.7,861.9 1593.4,862.0C1595.0,862.1 1596.7,862.1 1598.3,862.2C1600.0,862.3 1601.6,862.3 1603.3,862.4C1605.0,862.4 1606.6,862.5 1608.3,862.5C1609.9,862.6 1611.6,862.6 1613.2,862.6C1614.9,862.7 1616.6,862.7 1618.2,862.7C1619.9,862.8 1621.5,862.8 1623.2,862.9C1624.9,862.9 1626.5,863.0 1628.2,863.1C1629.8,863.2 1631.5,863.4 1633.2,863.6C1634.8,863.8 1636.5,864.1 1638.1,864.4C1639.5,864.7 1640.9,865.0 1642.3,865.3C1643.7,865.5 1645.1,865.8 1646.5,865.9C1647.8,866.1 1649.2,866.2 1650.6,866.0C1651.8,865.9 1653.0,865.6 1654.2,865.3C1655.4,865.0 1656.6,864.6 1657.9,864.3C1659.1,863.9 1660.3,863.6 1661.5,863.4C1662.0,863.3 1662.5,863.2 1663.0,863.1" fill="none" stroke="#000" stroke-width="5.4" stroke-linecap="round" stroke-linejoin="round" stroke-dasharray="23.3 31.7"/>
<path d="M966.50,1395.86C968.2,1395.8 969.8,1395.7 971.5,1395.7C973.1,1395.6 974.8,1395.6 976.4,1395.5C978.1,1395.5 979.7,1395.4 981.4,1395.4C983.0,1395.3 984.7,1395.3 986.3,1395.3C988.0,1395.2 989.6,1395.2 991.3,1395.2C992.9,1395.1 994.6,1395.1 996.3,1395.1C997.9,1395.1 999.6,1395.1 1001.2,1395.1C1002.9,1395.1 1004.6,1395.1 1006.2,1395.2C1007.9,1395.2 1009.6,1395.2 1011.3,1395.3C1012.9,1395.3 1014.6,1395.4 1016.3,1395.4C1018.0,1395.5 1019.6,1395.6 1021.3,1395.7C1023.0,1395.7 1024.7,1395.8 1026.3,1395.8C1028.0,1395.9 1029.7,1395.9 1031.4,1395.9C1033.0,1395.9 1034.7,1395.8 1036.3,1395.7C1038.0,1395.6 1039.6,1395.4 1041.3,1395.2C1042.9,1394.9 1044.5,1394.6 1046.1,1394.1C1047.1,1393.9 1048.1,1393.6 1049.1,1393.2C1050.1,1392.8 1051.1,1392.4 1052.1,1391.9C1053.0,1391.3 1053.9,1390.7 1054.8,1390.1C1055.6,1389.4 1056.4,1388.7 1057.0,1387.9C1057.7,1387.1 1058.2,1386.2 1058.8,1385.3C1059.3,1384.5 1059.9,1383.5 1060.6,1382.6C1061.2,1381.7 1061.9,1380.8 1062.5,1380.8C1063.2,1380.9 1063.8,1382.2 1064.5,1383.1C1065.1,1383.9 1065.9,1384.5 1066.6,1384.9C1067.4,1385.4 1068.2,1385.8 1069.0,1386.2C1070.0,1386.6 1071.0,1387.2 1071.9,1387.6C1072.9,1388.1 1073.9,1388.6 1075.0,1389.0C1076.1,1389.5 1077.3,1389.8 1078.5,1390.1C1079.8,1390.4 1081.0,1390.7 1082.2,1390.8C1083.5,1391.0 1084.8,1391.1 1086.0,1391.2C1087.3,1391.3 1088.6,1391.3 1089.9,1391.3C1091.5,1391.3 1093.2,1391.3 1094.8,1391.2C1096.5,1391.1 1098.1,1391.0 1099.7,1390.8C1101.4,1390.7 1103.0,1390.5 1104.6,1390.3C1106.3,1390.0 1107.9,1389.8 1109.5,1389.6C1111.1,1389.3 1112.8,1389.1 1114.4,1388.8C1116.0,1388.5 1117.6,1388.2 1119.3,1388.0C1120.8,1387.7 1122.3,1387.5 1123.8,1387.2C1125.3,1386.9 1126.8,1386.7 1128.3,1386.4C1129.8,1386.1 1131.2,1385.9 1132.7,1385.6C1134.2,1385.3 1135.7,1385.0 1137.2,1384.7C1138.7,1384.4 1140.2,1384.1 1141.7,1383.7C1143.1,1383.4 1144.6,1383.0 1146.1,1382.6C1147.5,1382.2 1148.9,1381.8 1150.3,1381.4C1151.6,1381.0 1153.0,1380.6 1154.4,1380.1C1155.8,1379.7 1157.2,1379.2 1158.6,1378.8C1159.9,1378.3 1161.3,1377.9 1162.7,1377.4C1164.1,1377.0 1165.4,1376.5 1166.8,1376.1C1168.2,1375.6 1169.6,1375.2 1171.0,1374.8C1172.4,1374.4 1173.7,1374.0 1175.1,1373.6C1176.4,1373.2 1177.8,1372.8 1179.2,1372.5C1180.6,1372.1 1181.9,1371.8 1183.3,1371.5C1184.7,1371.1 1186.1,1370.8 1187.5,1370.5C1188.9,1370.3 1190.3,1370.0 1191.7,1369.7C1193.1,1369.5 1194.5,1369.2 1195.9,1369.0C1197.3,1368.8 1198.7,1368.6 1200.1,1368.4C1201.5,1368.3 1202.9,1368.1 1204.3,1368.0C1205.7,1367.8 1207.1,1367.7 1208.5,1367.6C1209.9,1367.5 1211.3,1367.4 1212.8,1367.3C1214.1,1367.2 1215.5,1367.1 1216.9,1367.0C1218.3,1367.0 1219.7,1366.9 1221.1,1366.9C1222.5,1366.8 1223.9,1366.8 1225.3,1366.7C1226.7,1366.7 1228.1,1366.7 1229.5,1366.7C1230.9,1366.7 1232.3,1366.7 1233.7,1366.7C1235.1,1366.7 1236.4,1366.8 1237.8,1366.8C1239.2,1366.8 1240.6,1366.9 1242.0,1366.9C1243.4,1367.0 1244.8,1367.0 1246.2,1367.1C1247.6,1367.2 1249.0,1367.2 1250.4,1367.3C1251.8,1367.4 1253.2,1367.5 1254.5,1367.6C1255.9,1367.7 1257.3,1367.8 1258.7,1367.9C1260.1,1368.0 1261.5,1368.1 1262.9,1368.3C1264.3,1368.4 1265.7,1368.5 1267.1,1368.6C1268.5,1368.7 1269.9,1368.8 1271.3,1368.9C1272.7,1369.0 1274.1,1369.1 1275.5,1369.2C1276.9,1369.2 1278.4,1369.3 1279.9,1369.4C1281.3,1369.4 1282.8,1369.5 1284.3,1369.5C1285.7,1369.6 1287.2,1369.6 1288.7,1369.6C1290.2,1369.6 1291.6,1369.6 1293.1,1369.7C1294.6,1369.7 1296.0,1369.7 1297.5,1369.7C1299.0,1369.7 1300.5,1369.7 1301.9,1369.7C1303.4,1369.6 1304.9,1369.6 1306.4,1369.6C1307.8,1369.6 1309.3,1369.6 1310.8,1369.6C1312.3,1369.6 1313.9,1369.6 1315.4,1369.6C1317.0,1369.5 1318.5,1369.5 1320.1,1369.5C1321.6,1369.5 1323.2,1369.5 1324.7,1369.5C1326.3,1369.5 1327.8,1369.5 1329.3,1369.4C1330.9,1369.4 1332.4,1369.4 1334.0,1369.4C1335.5,1369.4 1337.1,1369.3 1338.6,1369.3C1340.2,1369.3 1341.7,1369.3 1343.3,1369.2C1344.8,1369.2 1346.4,1369.2 1347.9,1369.1C1349.5,1369.1 1351.0,1369.0 1352.6,1369.0C1354.1,1368.9 1355.7,1368.9 1357.2,1368.8C1358.8,1368.8 1360.3,1368.7 1361.8,1368.6C1363.4,1368.5 1364.9,1368.5 1366.5,1368.4C1368.0,1368.3 1369.6,1368.2 1371.1,1368.2C1372.7,1368.1 1374.2,1368.0 1375.8,1367.9C1377.3,1367.8 1378.9,1367.8 1380.4,1367.7C1382.0,1367.6 1383.5,1367.5 1385.1,1367.4C1386.6,1367.3 1388.2,1367.3 1389.7,1367.2C1391.3,1367.1 1392.8,1367.0 1394.4,1366.9C1395.9,1366.9 1397.4,1366.8 1398.9,1366.7C1400.5,1366.7 1402.0,1366.6 1403.5,1366.5C1405.1,1366.5 1406.6,1366.4 1408.1,1366.3C1409.6,1366.3 1411.2,1366.2 1412.7,1366.2C1414.2,1366.1 1415.8,1366.1 1417.3,1366.0C1418.8,1366.0 1420.3,1365.9 1421.9,1365.9C1423.4,1365.8 1424.9,1365.8 1426.5,1365.8C1428.0,1365.7 1429.5,1365.7 1431.1,1365.7C1432.6,1365.6 1434.1,1365.6 1435.6,1365.6C1437.1,1365.5 1438.6,1365.5 1440.1,1365.5C1441.6,1365.5 1443.1,1365.5 1444.6,1365.5C1446.1,1365.4 1447.6,1365.4 1449.1,1365.4C1450.6,1365.4 1452.1,1365.4 1453.6,1365.4C1455.0,1365.4 1456.5,1365.4 1458.0,1365.4C1459.5,1365.5 1461.0,1365.5 1462.5,1365.5C1464.0,1365.5 1465.5,1365.5 1467.0,1365.6C1468.5,1365.6 1470.0,1365.6 1471.5,1365.6C1473.0,1365.7 1474.5,1365.7 1476.0,1365.8C1477.5,1365.8 1478.9,1365.9 1480.4,1366.0C1481.9,1366.0 1483.4,1366.1 1484.9,1366.2C1486.4,1366.3 1487.9,1366.4 1489.4,1366.5C1490.9,1366.6 1492.4,1366.7 1493.9,1366.8C1495.4,1367.0 1496.8,1367.1 1498.3,1367.3C1499.8,1367.4 1501.3,1367.6 1502.8,1367.8C1504.4,1368.0 1505.9,1368.2 1507.4,1368.5C1508.9,1368.7 1510.4,1368.9 1511.9,1369.2C1513.3,1369.5 1514.8,1369.7 1516.3,1370.0C1517.8,1370.3 1519.3,1370.6 1520.8,1370.9C1522.3,1371.3 1523.8,1371.6 1525.2,1371.9C1526.7,1372.3 1528.2,1372.6 1529.7,1373.0C1531.1,1373.4 1532.6,1373.8 1534.1,1374.2C1535.6,1374.6 1537.0,1375.0 1538.5,1375.5C1540.0,1375.9 1541.5,1376.3 1542.9,1376.8C1544.4,1377.2 1545.9,1377.7 1547.3,1378.1C1548.8,1378.6 1550.2,1379.0 1551.7,1379.5C1553.2,1379.9 1554.6,1380.4 1556.1,1380.8C1557.6,1381.3 1559.1,1381.7 1560.5,1382.1C1562.0,1382.5 1563.5,1383.0 1565.0,1383.4C1566.4,1383.8 1567.9,1384.2 1569.4,1384.6C1570.9,1385.0 1572.4,1385.4 1573.9,1385.7C1575.4,1386.1 1576.9,1386.5 1578.3,1386.8C1579.8,1387.1 1581.3,1387.5 1582.8,1387.8C1584.3,1388.1 1585.8,1388.4 1587.3,1388.7C1588.8,1389.0 1590.3,1389.3 1591.8,1389.5C1593.2,1389.8 1594.6,1390.0 1596.0,1390.2C1597.4,1390.4 1598.7,1390.6 1600.1,1390.8C1601.5,1391.0 1602.9,1391.2 1604.3,1391.4C1605.7,1391.6 1607.1,1391.7 1608.5,1391.9C1609.9,1392.1 1611.3,1392.3 1612.8,1392.4C1614.2,1392.6 1615.6,1392.8 1617.0,1392.9C1618.4,1393.1 1619.8,1393.2 1621.3,1393.3C1622.7,1393.4 1624.1,1393.4 1625.5,1393.4C1626.9,1393.4 1628.3,1393.3 1629.6,1393.2C1631.0,1393.0 1632.3,1392.8 1633.6,1392.4C1634.9,1392.1 1636.1,1391.7 1637.3,1391.2C1638.5,1390.7 1639.7,1390.2 1640.9,1389.6C1642.0,1389.1 1643.2,1388.5 1644.4,1387.9C1645.6,1387.3 1646.8,1386.7 1648.1,1386.1C1649.1,1385.7 1650.0,1385.3 1651.0,1384.9C1652.0,1384.6 1653.0,1384.4 1654.0,1384.5C1655.1,1384.5 1656.2,1384.7 1657.3,1385.1C1658.4,1385.4 1659.4,1385.8 1660.5,1386.1C1661.3,1386.4 1662.2,1386.5 1663.0,1386.7" fill="none" stroke="#000" stroke-width="5.4" stroke-linecap="round" stroke-linejoin="round"/>
<path d="M966.50,928.37C968.1,928.4 969.8,928.4 971.4,928.4C973.0,928.4 974.7,928.4 976.3,928.4C977.9,928.4 979.6,928.5 981.2,928.5C982.9,928.5 984.5,928.5 986.2,928.5C987.8,928.6 989.4,928.6 991.1,928.6C992.8,928.7 994.4,928.7 996.1,928.8C997.7,928.8 999.4,928.9 1001.1,928.9C1002.7,929.0 1004.4,929.1 1006.1,929.1C1007.6,929.2 1009.2,929.3 1010.8,929.4C1012.3,929.5 1013.9,929.6 1015.5,929.8C1017.0,929.9 1018.6,930.1 1020.1,930.3C1021.6,930.4 1023.2,930.7 1024.7,930.9C1026.2,931.2 1027.7,931.5 1029.2,931.9C1030.7,932.2 1032.2,932.7 1033.7,933.1C1035.1,933.6 1036.5,934.2 1037.9,934.8C1039.3,935.4 1040.6,936.1 1041.8,936.9C1042.7,937.5 1043.6,938.2 1044.4,938.9C1045.2,939.6 1046.0,940.4 1046.7,941.2C1047.4,942.0 1048.0,942.9 1048.6,943.8C1049.2,945.0 1049.8,946.2 1050.3,947.5C1050.8,948.8 1051.2,950.2 1051.5,951.6C1051.9,953.0 1052.1,954.5 1052.4,956.0C1052.6,957.4 1052.9,958.9 1053.1,960.4C1053.3,961.9 1053.5,963.4 1053.7,964.9C1054.0,966.4 1054.2,967.9 1054.4,969.4C1054.6,970.8 1054.8,972.3 1055.0,973.8C1055.2,975.3 1055.4,976.7 1055.5,978.2C1055.7,979.7 1055.9,981.2 1056.0,982.7C1056.2,984.2 1056.4,985.8 1056.5,987.4C1056.7,989.0 1056.8,990.6 1056.9,992.2C1057.1,993.8 1057.2,995.4 1057.3,997.0C1057.4,998.6 1057.5,1000.2 1057.6,1001.8C1057.7,1003.4 1057.8,1005.0 1057.9,1006.5C1058.0,1008.1 1058.1,1009.7 1058.1,1011.2C1058.2,1012.8 1058.3,1014.3 1058.3,1015.9C1058.4,1017.4 1058.5,1018.9 1058.5,1020.4C1058.6,1021.8 1058.7,1023.2 1058.7,1024.6C1058.8,1026.0 1058.8,1027.3 1058.9,1028.7C1058.9,1030.1 1059.0,1031.4 1059.0,1032.8C1059.1,1034.2 1059.1,1035.5 1059.2,1036.9C1059.2,1038.3 1059.3,1039.7 1059.3,1041.2C1059.4,1042.6 1059.4,1044.1 1059.5,1045.5C1059.5,1047.0 1059.5,1048.6 1059.6,1050.1C1059.6,1051.7 1059.7,1053.3 1059.7,1054.9C1059.8,1056.6 1059.8,1058.3 1059.9,1060.1C1059.9,1061.8 1060.0,1063.7 1060.0,1065.5C1060.1,1067.5 1060.1,1069.6 1060.2,1071.7C1060.3,1073.8 1060.3,1076.0 1060.4,1078.1C1060.4,1080.3 1060.5,1082.4 1060.6,1084.6C1060.6,1086.7 1060.7,1088.8 1060.7,1090.8C1060.8,1092.9 1060.9,1094.8 1060.9,1096.7C1061.0,1098.6 1061.1,1100.3 1061.2,1102.0C1061.2,1103.6 1061.3,1105.1 1061.4,1106.5C1061.4,1107.8 1061.5,1109.0 1061.6,1109.9C1061.6,1110.9 1061.7,1111.6 1061.8,1112.1C1061.9,1112.7 1061.9,1112.9 1062.0,1112.9C1062.1,1112.9 1062.2,1112.7 1062.2,1112.2C1062.3,1111.6 1062.4,1110.9 1062.5,1109.9C1062.6,1109.0 1062.6,1107.8 1062.7,1106.5C1062.8,1105.1 1062.9,1103.6 1063.0,1102.0C1063.0,1100.4 1063.1,1098.6 1063.2,1096.7C1063.3,1094.8 1063.4,1092.9 1063.5,1090.8C1063.5,1088.8 1063.6,1086.7 1063.7,1084.6C1063.8,1082.4 1063.9,1080.3 1064.0,1078.1C1064.1,1076.0 1064.1,1073.8 1064.2,1071.7C1064.3,1069.6 1064.4,1067.5 1064.5,1065.5C1064.6,1063.7 1064.7,1061.8 1064.8,1060.1C1064.9,1058.3 1065.0,1056.6 1065.0,1054.9C1065.1,1053.3 1065.2,1051.7 1065.3,1050.1C1065.4,1048.5 1065.5,1047.0 1065.6,1045.5C1065.7,1044.0 1065.8,1042.6 1065.8,1041.1C1065.9,1039.7 1066.0,1038.3 1066.1,1036.9C1066.2,1035.5 1066.3,1034.1 1066.3,1032.8C1066.4,1031.4 1066.5,1030.0 1066.6,1028.7C1066.6,1027.3 1066.7,1025.9 1066.8,1024.6C1066.9,1023.2 1066.9,1021.8 1067.0,1020.4C1067.1,1018.9 1067.1,1017.4 1067.2,1015.9C1067.2,1014.4 1067.3,1012.9 1067.4,1011.3C1067.4,1009.8 1067.5,1008.2 1067.6,1006.7C1067.6,1005.1 1067.7,1003.5 1067.8,1001.9C1067.8,1000.3 1067.9,998.7 1068.0,997.1C1068.1,995.5 1068.2,993.9 1068.3,992.3C1068.4,990.7 1068.5,989.1 1068.6,987.5C1068.7,985.9 1068.8,984.3 1069.0,982.7C1069.1,981.0 1069.3,979.3 1069.5,977.6C1069.7,976.0 1069.9,974.3 1070.2,972.7C1070.5,971.1 1070.9,969.5 1071.4,967.9C1071.8,966.3 1072.3,964.7 1073.0,963.2C1073.6,961.9 1074.2,960.5 1075.0,959.2C1075.7,957.9 1076.5,956.7 1077.5,955.6C1078.4,954.4 1079.3,953.4 1080.4,952.4C1081.3,951.7 1082.2,951.0 1083.2,950.3C1084.1,949.7 1085.1,949.2 1086.1,948.8C1087.2,948.3 1088.2,948.0 1089.3,947.8C1090.7,947.5 1092.0,947.5 1093.4,947.5C1094.8,947.6 1096.2,947.8 1097.7,948.1C1099.1,948.5 1100.5,948.9 1101.9,949.5C1103.3,950.0 1104.6,950.6 1106.0,951.3C1107.3,952.0 1108.6,952.8 1110.0,953.7C1111.3,954.5 1112.5,955.4 1113.8,956.4C1115.1,957.4 1116.3,958.4 1117.5,959.5C1118.7,960.5 1119.9,961.6 1121.0,962.8C1122.2,964.0 1123.4,965.3 1124.5,966.6C1125.7,967.9 1126.7,969.3 1127.8,970.6C1128.9,972.0 1129.9,973.4 1130.8,974.8C1131.8,976.2 1132.8,977.7 1133.7,979.1C1134.6,980.6 1135.4,982.0 1136.3,983.5C1137.1,985.0 1137.9,986.5 1138.7,988.0C1139.4,989.3 1140.0,990.7 1140.7,992.0C1141.3,993.3 1141.9,994.6 1142.5,996.0C1143.1,997.3 1143.7,998.6 1144.2,1000.0C1144.8,1001.3 1145.3,1002.7 1145.9,1004.0C1146.4,1005.4 1146.9,1006.7 1147.5,1008.1C1148.0,1009.4 1148.5,1010.8 1149.0,1012.2C1149.4,1013.5 1149.9,1014.9 1150.4,1016.3C1151.0,1017.8 1151.5,1019.4 1152.0,1020.9C1152.6,1022.5 1153.1,1024.0 1153.6,1025.6C1154.1,1027.2 1154.6,1028.7 1155.1,1030.3C1155.6,1031.9 1156.1,1033.4 1156.6,1035.0C1157.1,1036.6 1157.6,1038.1 1158.0,1039.7C1158.5,1041.3 1159.0,1042.8 1159.4,1044.4C1159.9,1046.0 1160.3,1047.6 1160.8,1049.1C1161.2,1050.7 1161.7,1052.3 1162.1,1053.9C1162.5,1055.5 1162.9,1057.1 1163.4,1058.6C1163.8,1060.2 1164.2,1061.8 1164.6,1063.4C1165.0,1065.0 1165.4,1066.6 1165.8,1068.2C1166.2,1069.8 1166.6,1071.4 1167.0,1073.0C1167.4,1074.5 1167.8,1076.1 1168.1,1077.6C1168.5,1079.2 1168.9,1080.7 1169.3,1082.3C1169.6,1083.8 1170.0,1085.4 1170.4,1086.9C1170.7,1088.5 1171.1,1090.1 1171.5,1091.6C1171.8,1093.2 1172.2,1094.7 1172.6,1096.3C1172.9,1097.8 1173.3,1099.4 1173.6,1101.0C1174.0,1102.5 1174.4,1104.1 1174.7,1105.7C1175.1,1107.3 1175.5,1108.9 1175.8,1110.5C1176.2,1112.1 1176.6,1113.7 1176.9,1115.2C1177.3,1116.8 1177.7,1118.4 1178.0,1120.0C1178.4,1121.6 1178.7,1123.2 1179.1,1124.8C1179.5,1126.3 1179.8,1127.9 1180.2,1129.5C1180.6,1131.1 1180.9,1132.6 1181.3,1134.2C1181.7,1135.7 1182.0,1137.3 1182.4,1138.9C1182.7,1140.4 1183.1,1142.0 1183.5,1143.5C1183.8,1145.1 1184.2,1146.6 1184.5,1148.2C1184.9,1149.7 1185.3,1151.3 1185.6,1152.8C1186.0,1154.4 1186.4,1156.0 1186.7,1157.5C1187.1,1159.1 1187.4,1160.6 1187.8,1162.2C1188.2,1163.7 1188.5,1165.3 1188.9,1166.8C1189.2,1168.4 1189.6,1170.0 1190.0,1171.5C1190.3,1173.1 1190.7,1174.6 1191.1,1176.2C1191.4,1177.8 1191.8,1179.3 1192.2,1180.9C1192.5,1182.5 1192.9,1184.0 1193.3,1185.6C1193.7,1187.1 1194.0,1188.6 1194.4,1190.1C1194.7,1191.6 1195.1,1193.1 1195.5,1194.6C1195.9,1196.1 1196.2,1197.6 1196.6,1199.1C1197.0,1200.6 1197.4,1202.1 1197.8,1203.6C1198.2,1205.2 1198.6,1206.7 1199.0,1208.2C1199.5,1209.7 1199.9,1211.2 1200.3,1212.7C1200.8,1214.4 1201.3,1216.0 1201.8,1217.7C1202.3,1219.3 1202.8,1220.9 1203.4,1222.6C1204.0,1224.2 1204.5,1225.8 1205.2,1227.4C1205.8,1228.9 1206.5,1230.5 1207.2,1232.0C1207.9,1233.5 1208.6,1235.0 1209.4,1236.4C1210.2,1237.8 1211.0,1239.1 1211.9,1240.4C1212.7,1241.7 1213.7,1242.9 1214.7,1244.0C1215.7,1245.1 1216.8,1246.2 1217.9,1247.1C1218.9,1247.8 1219.9,1248.5 1220.9,1249.1C1222.0,1249.6 1223.1,1250.1 1224.2,1250.3C1225.3,1250.6 1226.4,1250.7 1227.5,1250.7C1228.6,1250.7 1229.7,1250.5 1230.7,1250.2C1232.0,1249.9 1233.2,1249.4 1234.4,1248.8C1235.6,1248.3 1236.8,1247.6 1237.9,1246.8C1238.9,1246.2 1239.8,1245.5 1240.8,1244.8C1241.7,1244.0 1242.6,1243.3 1243.5,1242.5C1244.4,1241.7 1245.2,1240.9 1246.1,1240.1C1246.9,1239.3 1247.7,1238.4 1248.5,1237.6C1249.3,1236.7 1250.1,1235.9 1250.9,1235.0C1251.6,1234.1 1252.4,1233.2 1253.1,1232.4C1253.9,1231.4 1254.7,1230.5 1255.5,1229.5C1256.3,1228.5 1257.0,1227.6 1257.8,1226.6C1258.5,1225.6 1259.3,1224.7 1260.0,1223.7C1260.8,1222.7 1261.6,1221.6 1262.3,1220.6C1263.1,1219.6 1263.9,1218.5 1264.6,1217.5C1265.4,1216.4 1266.2,1215.4 1266.9,1214.4C1267.7,1213.3 1268.4,1212.3 1269.2,1211.3C1269.9,1210.2 1270.7,1209.2 1271.5,1208.2C1272.2,1207.1 1273.0,1206.1 1273.7,1205.1C1274.5,1204.0 1275.2,1203.0 1276.0,1202.0C1276.8,1201.0 1277.5,1199.9 1278.3,1198.9C1279.1,1197.9 1279.9,1196.9 1280.6,1195.9C1281.4,1194.8 1282.2,1193.8 1283.0,1192.8C1283.8,1191.8 1284.7,1190.8 1285.5,1189.8C1286.3,1188.9 1287.1,1187.9 1288.0,1186.9C1289.1,1185.7 1290.2,1184.5 1291.4,1183.3C1292.6,1182.1 1293.7,1180.9 1295.0,1179.8C1296.1,1178.7 1297.2,1177.7 1298.4,1176.8C1299.5,1175.8 1300.7,1174.9 1301.9,1174.0C1303.0,1173.2 1304.2,1172.5 1305.3,1171.7C1306.5,1171.0 1307.7,1170.4 1308.9,1169.8C1310.0,1169.2 1311.1,1168.7 1312.3,1168.2C1313.5,1167.7 1314.7,1167.3 1315.9,1167.0C1317.0,1166.7 1318.1,1166.4 1319.3,1166.2C1320.4,1166.1 1321.6,1165.9 1322.7,1165.8C1323.9,1165.8 1325.0,1165.8 1326.2,1165.8C1327.3,1165.9 1328.5,1166.0 1329.6,1166.2C1330.8,1166.4 1332.0,1166.7 1333.1,1167.0C1334.3,1167.3 1335.5,1167.7 1336.6,1168.2C1337.8,1168.6 1339.0,1169.2 1340.2,1169.8C1341.4,1170.4 1342.6,1171.0 1343.7,1171.7C1345.1,1172.5 1346.5,1173.4 1347.8,1174.3C1349.1,1175.3 1350.4,1176.2 1351.7,1177.3C1352.7,1178.1 1353.7,1178.9 1354.6,1179.8C1355.6,1180.7 1356.6,1181.5 1357.5,1182.5C1358.5,1183.4 1359.4,1184.3 1360.3,1185.2C1361.2,1186.2 1362.1,1187.1 1363.0,1188.1C1364.0,1189.2 1364.9,1190.3 1365.9,1191.4C1366.8,1192.5 1367.7,1193.6 1368.6,1194.7C1369.6,1195.8 1370.5,1196.9 1371.3,1198.1C1372.2,1199.2 1373.1,1200.4 1374.0,1201.5C1374.9,1202.8 1375.8,1204.0 1376.8,1205.3C1377.7,1206.6 1378.6,1207.9 1379.5,1209.2C1380.4,1210.5 1381.3,1211.8 1382.2,1213.1C1383.0,1214.4 1383.9,1215.7 1384.8,1217.0C1385.5,1218.1 1386.3,1219.3 1387.0,1220.5C1387.8,1221.6 1388.5,1222.8 1389.3,1224.0C1390.0,1225.1 1390.8,1226.3 1391.5,1227.5C1392.2,1228.6 1393.0,1229.8 1393.7,1231.0C1394.4,1232.2 1395.1,1233.4 1395.9,1234.5C1396.6,1235.7 1397.3,1236.9 1398.0,1238.1C1398.8,1239.3 1399.5,1240.4 1400.2,1241.6C1400.9,1242.8 1401.6,1244.0 1402.4,1245.1C1403.1,1246.3 1403.8,1247.5 1404.5,1248.7C1405.2,1249.9 1406.0,1251.0 1406.7,1252.2C1407.4,1253.4 1408.1,1254.6 1408.9,1255.7C1409.6,1256.9 1410.3,1258.1 1411.0,1259.2C1411.8,1260.4 1412.5,1261.5 1413.2,1262.7C1414.0,1263.9 1414.7,1265.0 1415.5,1266.2C1416.2,1267.3 1417.0,1268.5 1417.7,1269.6C1418.6,1270.9 1419.5,1272.2 1420.4,1273.5C1421.3,1274.8 1422.2,1276.1 1423.1,1277.4C1424.0,1278.7 1424.9,1280.0 1425.9,1281.2C1426.8,1282.5 1427.8,1283.7 1428.7,1285.0C1429.6,1286.1 1430.5,1287.2 1431.4,1288.3C1432.3,1289.4 1433.2,1290.5 1434.1,1291.6C1435.1,1292.7 1436.0,1293.8 1436.9,1294.8C1437.9,1295.9 1438.9,1296.9 1439.8,1298.0C1441.0,1299.2 1442.1,1300.3 1443.3,1301.5C1444.4,1302.7 1445.6,1303.8 1446.8,1304.9C1448.0,1306.1 1449.2,1307.2 1450.4,1308.3C1451.5,1309.3 1452.7,1310.4 1453.9,1311.4C1455.1,1312.4 1456.3,1313.4 1457.5,1314.4C1458.7,1315.4 1460.0,1316.4 1461.2,1317.3C1462.1,1318.1 1463.1,1318.8 1464.1,1319.5C1465.0,1320.2 1466.0,1320.9 1467.0,1321.6C1468.0,1322.3 1469.0,1322.9 1470.0,1323.6C1471.0,1324.2 1472.0,1324.8 1473.0,1325.4C1474.0,1325.9 1475.1,1326.4 1476.1,1326.8C1477.3,1327.3 1478.4,1327.6 1479.6,1327.8C1480.7,1328.0 1481.9,1328.0 1483.0,1327.9C1484.2,1327.8 1485.4,1327.5 1486.6,1327.1C1487.7,1326.7 1488.8,1326.1 1489.8,1325.3C1491.1,1324.5 1492.2,1323.4 1493.3,1322.2C1494.3,1321.0 1495.2,1319.8 1496.1,1318.5C1496.8,1317.5 1497.4,1316.5 1498.0,1315.5C1498.6,1314.5 1499.1,1313.5 1499.7,1312.5C1500.2,1311.5 1500.7,1310.4 1501.2,1309.4C1501.8,1308.2 1502.3,1307.0 1502.8,1305.8C1503.3,1304.6 1503.7,1303.4 1504.2,1302.2C1504.6,1301.0 1505.1,1299.7 1505.5,1298.5C1506.0,1297.1 1506.4,1295.6 1506.9,1294.2C1507.3,1292.7 1507.8,1291.3 1508.2,1289.8C1508.6,1288.3 1509.0,1286.9 1509.4,1285.4C1509.7,1284.2 1510.1,1282.9 1510.4,1281.7C1510.7,1280.5 1511.0,1279.2 1511.4,1278.0C1511.7,1276.7 1512.0,1275.5 1512.3,1274.3C1512.7,1272.7 1513.1,1271.1 1513.4,1269.6C1513.8,1268.0 1514.2,1266.5 1514.6,1264.9C1515.0,1263.3 1515.3,1261.8 1515.7,1260.2C1516.1,1258.7 1516.4,1257.1 1516.8,1255.5C1517.2,1254.0 1517.5,1252.4 1517.9,1250.8C1518.3,1249.3 1518.6,1247.7 1519.0,1246.2C1519.3,1244.6 1519.7,1243.0 1520.0,1241.5C1520.4,1239.9 1520.7,1238.4 1521.1,1236.8C1521.4,1235.2 1521.8,1233.7 1522.1,1232.1C1522.4,1230.6 1522.8,1229.0 1523.1,1227.5C1523.5,1225.9 1523.8,1224.3 1524.1,1222.8C1524.5,1221.2 1524.8,1219.7 1525.1,1218.1C1525.5,1216.6 1525.8,1215.0 1526.2,1213.5C1526.5,1211.9 1526.8,1210.4 1527.2,1208.8C1527.5,1207.2 1527.8,1205.7 1528.2,1204.1C1528.5,1202.6 1528.8,1201.0 1529.2,1199.4C1529.5,1197.8 1529.9,1196.3 1530.2,1194.7C1530.5,1193.1 1530.9,1191.6 1531.2,1190.0C1531.5,1188.5 1531.8,1186.9 1532.2,1185.4C1532.5,1183.9 1532.8,1182.4 1533.1,1180.8C1533.4,1179.3 1533.7,1177.8 1534.0,1176.3C1534.3,1174.8 1534.7,1173.2 1535.0,1171.7C1535.3,1170.1 1535.6,1168.6 1535.9,1167.0C1536.2,1165.4 1536.5,1163.9 1536.8,1162.3C1537.2,1160.7 1537.5,1159.2 1537.8,1157.6C1538.1,1156.0 1538.4,1154.5 1538.7,1152.9C1539.0,1151.3 1539.3,1149.8 1539.7,1148.2C1540.0,1146.6 1540.3,1145.1 1540.6,1143.5C1540.9,1141.9 1541.2,1140.4 1541.6,1138.8C1541.9,1137.2 1542.2,1135.7 1542.6,1134.1C1542.9,1132.5 1543.2,1131.0 1543.6,1129.4C1543.9,1127.8 1544.3,1126.3 1544.7,1124.7C1545.0,1123.1 1545.4,1121.6 1545.8,1120.0C1546.1,1118.4 1546.5,1116.9 1546.9,1115.3C1547.2,1113.9 1547.6,1112.6 1547.9,1111.2C1548.3,1109.8 1548.6,1108.5 1549.0,1107.1C1549.4,1105.8 1549.7,1104.4 1550.1,1103.1C1550.5,1101.7 1550.9,1100.4 1551.3,1099.0C1551.7,1097.6 1552.1,1096.3 1552.5,1094.9C1552.9,1093.6 1553.3,1092.2 1553.7,1090.8C1554.1,1089.5 1554.6,1088.1 1555.0,1086.8C1555.4,1085.4 1555.9,1084.1 1556.3,1082.7C1556.8,1081.5 1557.2,1080.2 1557.7,1079.0C1558.1,1077.7 1558.6,1076.5 1559.0,1075.2C1559.5,1074.0 1560.0,1072.7 1560.4,1071.5C1560.9,1070.2 1561.4,1069.0 1561.9,1067.7C1562.4,1066.6 1562.9,1065.4 1563.4,1064.2C1563.8,1063.1 1564.3,1061.9 1564.8,1060.7C1565.4,1059.6 1565.9,1058.4 1566.4,1057.3C1566.9,1056.1 1567.5,1054.9 1568.0,1053.8C1568.7,1052.3 1569.4,1050.8 1570.2,1049.3C1570.9,1047.8 1571.7,1046.3 1572.5,1044.8C1573.3,1043.3 1574.1,1041.8 1575.0,1040.3C1575.8,1038.9 1576.6,1037.5 1577.5,1036.1C1578.3,1034.7 1579.2,1033.3 1580.2,1031.9C1581.1,1030.5 1582.1,1029.1 1583.1,1027.8C1584.0,1026.5 1585.0,1025.2 1586.0,1024.0C1587.0,1022.7 1588.1,1021.5 1589.2,1020.3C1590.2,1019.1 1591.4,1018.0 1592.5,1016.9C1593.5,1015.9 1594.6,1015.0 1595.7,1014.1C1596.8,1013.2 1597.9,1012.3 1599.0,1011.6C1600.1,1010.8 1601.2,1010.1 1602.4,1009.5C1603.8,1008.8 1605.2,1008.2 1606.5,1007.8C1607.9,1007.4 1609.3,1007.1 1610.6,1007.1C1611.7,1007.1 1612.7,1007.2 1613.7,1007.5C1614.7,1007.8 1615.6,1008.2 1616.4,1008.8C1617.4,1009.6 1618.3,1010.5 1619.2,1011.7C1620.0,1012.8 1620.8,1014.2 1621.6,1015.6C1622.4,1017.1 1623.2,1018.7 1624.0,1020.3C1624.9,1021.9 1625.7,1023.6 1626.7,1024.8C1627.6,1026.0 1628.6,1026.8 1629.7,1026.7C1630.5,1026.6 1631.4,1026.0 1632.3,1025.2C1633.1,1024.4 1634.0,1023.4 1634.9,1022.5C1635.8,1021.7 1636.7,1021.0 1637.6,1020.9C1638.7,1020.7 1639.7,1021.3 1640.6,1022.2C1641.6,1023.2 1642.6,1024.5 1643.5,1026.0C1644.4,1027.4 1645.3,1028.9 1646.1,1030.1C1647.0,1031.3 1647.8,1032.3 1648.6,1032.7C1649.3,1033.0 1650.0,1032.8 1650.7,1032.2C1651.4,1031.6 1652.1,1030.7 1652.8,1029.4C1653.5,1028.2 1654.2,1026.8 1655.0,1025.3C1655.7,1023.7 1656.5,1022.2 1657.4,1020.7C1658.2,1019.2 1659.1,1017.8 1660.1,1016.7C1661.0,1015.6 1662.0,1014.8 1662.9,1013.9" fill="none" stroke="#ff0000" stroke-width="5.4" stroke-linecap="round" stroke-linejoin="round"/>
<path d="M966.50,1395.86C968.2,1395.8 969.8,1395.7 971.5,1395.7C973.1,1395.6 974.8,1395.6 976.4,1395.5C978.1,1395.5 979.7,1395.4 981.4,1395.4C983.0,1395.3 984.7,1395.3 986.3,1395.3C988.0,1395.2 989.6,1395.2 991.3,1395.2C992.9,1395.1 994.6,1395.1 996.3,1395.1C997.9,1395.1 999.6,1395.1 1001.2,1395.1C1002.9,1395.1 1004.6,1395.1 1006.2,1395.2C1007.9,1395.2 1009.6,1395.2 1011.3,1395.3C1012.9,1395.3 1014.6,1395.4 1016.3,1395.4C1018.0,1395.5 1019.6,1395.6 1021.3,1395.7C1023.0,1395.7 1024.7,1395.8 1026.3,1395.8C1028.0,1395.9 1029.7,1395.9 1031.4,1395.9C1033.0,1395.9 1034.7,1395.8 1036.3,1395.7C1038.0,1395.6 1039.6,1395.4 1041.3,1395.2C1042.9,1394.9 1044.5,1394.6 1046.1,1394.1C1047.1,1393.9 1048.1,1393.6 1049.1,1393.2C1050.1,1392.8 1051.1,1392.4 1052.1,1391.9C1053.0,1391.3 1053.9,1390.7 1054.8,1390.1C1055.6,1389.4 1056.4,1388.7 1057.0,1387.9C1057.7,1387.1 1058.2,1386.2 1058.8,1385.3C1059.3,1384.5 1059.9,1383.5 1060.6,1382.6C1061.2,1381.7 1061.9,1380.8 1062.5,1380.8C1063.2,1380.9 1063.8,1382.2 1064.5,1383.1C1065.1,1383.9 1065.9,1384.5 1066.6,1384.9C1067.4,1385.4 1068.2,1385.8 1069.0,1386.2C1070.0,1386.6 1071.0,1387.2 1071.9,1387.6C1072.9,1388.1 1073.9,1388.6 1075.0,1389.0C1076.1,1389.5 1077.3,1389.8 1078.5,1390.1C1079.8,1390.4 1081.0,1390.7 1082.2,1390.8C1083.5,1391.0 1084.8,1391.1 1086.0,1391.2C1087.3,1391.3 1088.6,1391.3 1089.9,1391.3C1091.5,1391.3 1093.2,1391.3 1094.8,1391.2C1096.5,1391.1 1098.1,1391.0 1099.7,1390.8C1101.4,1390.7 1103.0,1390.5 1104.6,1390.3C1106.3,1390.0 1107.9,1389.8 1109.5,1389.6C1111.1,1389.3 1112.8,1389.1 1114.4,1388.8C1116.0,1388.5 1117.6,1388.2 1119.3,1388.0C1120.8,1387.7 1122.3,1387.5 1123.8,1387.2C1125.3,1386.9 1126.8,1386.7 1128.3,1386.4C1129.8,1386.1 1131.2,1385.9 1132.7,1385.6C1134.2,1385.3 1135.7,1385.0 1137.2,1384.7C1138.7,1384.4 1140.2,1384.1 1141.7,1383.7C1143.1,1383.4 1144.6,1383.0 1146.1,1382.6C1147.5,1382.2 1148.9,1381.8 1150.3,1381.4C1151.6,1381.0 1153.0,1380.6 1154.4,1380.1C1155.8,1379.7 1157.2,1379.2 1158.6,1378.8C1159.9,1378.3 1161.3,1377.9 1162.7,1377.4C1164.1,1377.0 1165.4,1376.5 1166.8,1376.1C1168.2,1375.6 1169.6,1375.2 1171.0,1374.8C1172.4,1374.4 1173.7,1374.0 1175.1,1373.6C1176.4,1373.2 1177.8,1372.8 1179.2,1372.5C1180.6,1372.1 1181.9,1371.8 1183.3,1371.5C1184.7,1371.1 1186.1,1370.8 1187.5,1370.5C1188.9,1370.3 1190.3,1370.0 1191.7,1369.7C1193.1,1369.5 1194.5,1369.2 1195.9,1369.0C1197.3,1368.8 1198.7,1368.6 1200.1,1368.4C1201.5,1368.3 1202.9,1368.1 1204.3,1368.0C1205.7,1367.8 1207.1,1367.7 1208.5,1367.6C1209.9,1367.5 1211.3,1367.4 1212.8,1367.3C1214.1,1367.2 1215.5,1367.1 1216.9,1367.0C1218.3,1367.0 1219.7,1366.9 1221.1,1366.9C1222.5,1366.8 1223.9,1366.8 1225.3,1366.7C1226.7,1366.7 1228.1,1366.7 1229.5,1366.7C1230.9,1366.7 1232.3,1366.7 1233.7,1366.7C1235.1,1366.7 1236.4,1366.8 1237.8,1366.8C1239.2,1366.8 1240.6,1366.9 1242.0,1366.9C1243.4,1367.0 1244.8,1367.0 1246.2,1367.1C1247.6,1367.2 1249.0,1367.2 1250.4,1367.3C1251.8,1367.4 1253.2,1367.5 1254.5,1367.6C1255.9,1367.7 1257.3,1367.8 1258.7,1367.9C1260.1,1368.0 1261.5,1368.1 1262.9,1368.3C1264.3,1368.4 1265.7,1368.5 1267.1,1368.6C1268.5,1368.7 1269.9,1368.8 1271.3,1368.9C1272.7,1369.0 1274.1,1369.1 1275.5,1369.2C1276.9,1369.2 1278.4,1369.3 1279.9,1369.4C1281.3,1369.4 1282.8,1369.5 1284.3,1369.5C1285.7,1369.6 1287.2,1369.6 1288.7,1369.6C1290.2,1369.6 1291.6,1369.6 1293.1,1369.7C1294.6,1369.7 1296.0,1369.7 1297.5,1369.7C1299.0,1369.7 1300.5,1369.7 1301.9,1369.7C1303.4,1369.6 1304.9,1369.6 1306.4,1369.6C1307.8,1369.6 1309.3,1369.6 1310.8,1369.6C1312.3,1369.6 1313.9,1369.6 1315.4,1369.6C1317.0,1369.5 1318.5,1369.5 1320.1,1369.5C1321.6,1369.5 1323.2,1369.5 1324.7,1369.5C1326.3,1369.5 1327.8,1369.5 1329.3,1369.4C1330.9,1369.4 1332.4,1369.4 1334.0,1369.4C1335.5,1369.4 1337.1,1369.3 1338.6,1369.3C1340.2,1369.3 1341.7,1369.3 1343.3,1369.2C1344.8,1369.2 1346.4,1369.2 1347.9,1369.1C1349.5,1369.1 1351.0,1369.0 1352.6,1369.0C1354.1,1368.9 1355.7,1368.9 1357.2,1368.8C1358.8,1368.8 1360.3,1368.7 1361.8,1368.6C1363.4,1368.5 1364.9,1368.5 1366.5,1368.4C1368.0,1368.3 1369.6,1368.2 1371.1,1368.2C1372.7,1368.1 1374.2,1368.0 1375.8,1367.9C1377.3,1367.8 1378.9,1367.8 1380.4,1367.7C1382.0,1367.6 1383.5,1367.5 1385.1,1367.4C1386.6,1367.3 1388.2,1367.3 1389.7,1367.2C1391.3,1367.1 1392.8,1367.0 1394.4,1366.9C1395.9,1366.9 1397.4,1366.8 1398.9,1366.7C1400.5,1366.7 1402.0,1366.6 1403.5,1366.5C1405.1,1366.5 1406.6,1366.4 1408.1,1366.3C1409.6,1366.3 1411.2,1366.2 1412.7,1366.2C1414.2,1366.1 1415.8,1366.1 1417.3,1366.0C1418.8,1366.0 1420.3,1365.9 1421.9,1365.9C1423.4,1365.8 1424.9,1365.8 1426.5,1365.8C1428.0,1365.7 1429.5,1365.7 1431.1,1365.7C1432.6,1365.6 1434.1,1365.6 1435.6,1365.6C1437.1,1365.5 1438.6,1365.5 1440.1,1365.5C1441.6,1365.5 1443.1,1365.5 1444.6,1365.5C1446.1,1365.4 1447.6,1365.4 1449.1,1365.4C1450.6,1365.4 1452.1,1365.4 1453.6,1365.4C1455.0,1365.4 1456.5,1365.4 1458.0,1365.4C1459.5,1365.5 1461.0,1365.5 1462.5,1365.5C1464.0,1365.5 1465.5,1365.5 1467.0,1365.6C1468.5,1365.6 1470.0,1365.6 1471.5,1365.6C1473.0,1365.7 1474.5,1365.7 1476.0,1365.8C1477.5,1365.8 1478.9,1365.9 1480.4,1366.0C1481.9,1366.0 1483.4,1366.1 1484.9,1366.2C1486.4,1366.3 1487.9,1366.4 1489.4,1366.5C1490.9,1366.6 1492.4,1366.7 1493.9,1366.8C1495.4,1367.0 1496.8,1367.1 1498.3,1367.3C1499.8,1367.4 1501.3,1367.6 1502.8,1367.8C1504.4,1368.0 1505.9,1368.2 1507.4,1368.5C1508.9,1368.7 1510.4,1368.9 1511.9,1369.2C1513.3,1369.5 1514.8,1369.7 1516.3,1370.0C1517.8,1370.3 1519.3,1370.6 1520.8,1370.9C1522.3,1371.3 1523.8,1371.6 1525.2,1371.9C1526.7,1372.3 1528.2,1372.6 1529.7,1373.0C1531.1,1373.4 1532.6,1373.8 1534.1,1374.2C1535.6,1374.6 1537.0,1375.0 1538.5,1375.5C1540.0,1375.9 1541.5,1376.3 1542.9,1376.8C1544.4,1377.2 1545.9,1377.7 1547.3,1378.1C1548.8,1378.6 1550.2,1379.0 1551.7,1379.5C1553.2,1379.9 1554.6,1380.4 1556.1,1380.8C1557.6,1381.3 1559.1,1381.7 1560.5,1382.1C1562.0,1382.5 1563.5,1383.0 1565.0,1383.4C1566.4,1383.8 1567.9,1384.2 1569.4,1384.6C1570.9,1385.0 1572.4,1385.4 1573.9,1385.7C1575.4,1386.1 1576.9,1386.5 1578.3,1386.8C1579.8,1387.1 1581.3,1387.5 1582.8,1387.8C1584.3,1388.1 1585.8,1388.4 1587.3,1388.7C1588.8,1389.0 1590.3,1389.3 1591.8,1389.5C1593.2,1389.8 1594.6,1390.0 1596.0,1390.2C1597.4,1390.4 1598.7,1390.6 1600.1,1390.8C1601.5,1391.0 1602.9,1391.2 1604.3,1391.4C1605.7,1391.6 1607.1,1391.7 1608.5,1391.9C1609.9,1392.1 1611.3,1392.3 1612.8,1392.4C1614.2,1392.6 1615.6,1392.8 1617.0,1392.9C1618.4,1393.1 1619.8,1393.2 1621.3,1393.3C1622.7,1393.4 1624.1,1393.4 1625.5,1393.4C1626.9,1393.4 1628.3,1393.3 1629.6,1393.2C1631.0,1393.0 1632.3,1392.8 1633.6,1392.4C1634.9,1392.1 1636.1,1391.7 1637.3,1391.2C1638.5,1390.7 1639.7,1390.2 1640.9,1389.6C1642.0,1389.1 1643.2,1388.5 1644.4,1387.9C1645.6,1387.3 1646.8,1386.7 1648.1,1386.1C1649.1,1385.7 1650.0,1385.3 1651.0,1384.9C1652.0,1384.6 1653.0,1384.4 1654.0,1384.5C1655.1,1384.5 1656.2,1384.7 1657.3,1385.1C1658.4,1385.4 1659.4,1385.8 1660.5,1386.1C1661.3,1386.4 1662.2,1386.5 1663.0,1386.7" fill="none" stroke="#ff0000" stroke-width="5.4" stroke-linecap="round" stroke-linejoin="round" stroke-dasharray="23.3 31.7"/>
</g>
<rect x="966.5" y="825.5" width="696.5" height="571.5" fill="none" stroke="#000" stroke-width="4.6"/>
<path d="M966.5 1397V1411M1016.25 1397V1405.6M1066 1397V1411M1115.75 1397V1405.6M1165.5 1397V1411M1215.25 1397V1405.6M1265 1397V1411M1314.75 1397V1405.6M1364.5 1397V1411M1414.25 1397V1405.6M1464 1397V1411M1513.75 1397V1405.6M1563.5 1397V1411M1613.25 1397V1405.6M1663 1397V1411M966.5 1397H953M966.5 1339.85H958M966.5 1282.7H953M966.5 1225.55H958M966.5 1168.4H953M966.5 1111.25H958M966.5 1054.1H953M966.5 996.95H958M966.5 939.8H953M966.5 882.65H958M966.5 825.5H953" stroke="#000" stroke-width="3.6" fill="none"/>
<g font-family="'Liberation Sans', Arial, sans-serif" font-size="37" fill="#000">
<text transform="translate(966.5 1449.3) scale(0.94 1)" text-anchor="middle">2</text>
<text transform="translate(1066 1449.3) scale(0.94 1)" text-anchor="middle">4</text>
<text transform="translate(1165.5 1449.3) scale(0.94 1)" text-anchor="middle">6</text>
<text transform="translate(1265 1449.3) scale(0.94 1)" text-anchor="middle">8</text>
<text transform="translate(1364.5 1449.3) scale(0.94 1)" text-anchor="middle">10</text>
<text transform="translate(1464 1449.3) scale(0.94 1)" text-anchor="middle">12</text>
<text transform="translate(1563.5 1449.3) scale(0.94 1)" text-anchor="middle">14</text>
<text transform="translate(1663 1449.3) scale(0.94 1)" text-anchor="middle">16</text>
<text transform="translate(943.8 1407.8) scale(0.94 1)" text-anchor="end">0.0</text>
<text transform="translate(943.8 1293.5) scale(0.94 1)" text-anchor="end">0.2</text>
<text transform="translate(943.8 1179.2) scale(0.94 1)" text-anchor="end">0.4</text>
<text transform="translate(943.8 1064.9) scale(0.94 1)" text-anchor="end">0.6</text>
<text transform="translate(943.8 950.6) scale(0.94 1)" text-anchor="end">0.8</text>
<text transform="translate(943.8 836.3) scale(0.94 1)" text-anchor="end">1.0</text>
</g>
<text x="1314.8" y="1510.5" font-family="'Liberation Serif', 'Times New Roman', serif" font-size="50" text-anchor="middle" textLength="336" lengthAdjust="spacingAndGlyphs">Frequency (GHz)</text>
<text transform="translate(877.6 1109.5) rotate(-90)" font-family="'Liberation Serif', 'Times New Roman', serif" font-size="49" text-anchor="middle" textLength="436.5" lengthAdjust="spacingAndGlyphs" style="font-variant-ligatures:none">Reflection Coefficient</text>
<text x="1296.75" y="1577.4" font-family="'Liberation Serif', 'Times New Roman', serif" font-size="46" text-anchor="middle">(d)</text>
<path d="M1263 906.4H1327.8" stroke="#000" stroke-width="5.4" stroke-linecap="round" stroke-dasharray="23.3 31.7"/>
<path d="M1263 972.7H1327.8" stroke="#000" stroke-width="5.4" stroke-linecap="round"/>
<path d="M1263 1039.2H1327.8" stroke="#ff0000" stroke-width="5.4" stroke-linecap="round"/>
<path d="M1263 1105.7H1327.8" stroke="#ff0000" stroke-width="5.4" stroke-linecap="round" stroke-dasharray="23.3 31.7"/>
<g font-family="'Liberation Serif', 'Times New Roman', serif" font-weight="bold" fill="#000">
<text x="1336.5" y="917.5" font-size="35.5">R</text>
<text x="1362.43" y="905" font-size="34">b</text>
<text x="1362.43" y="925.3" font-size="34">xx</text>
<text x="1336.5" y="983.8" font-size="35.5">R</text>
<text x="1362.43" y="971.3" font-size="34">b</text>
<text x="1362.43" y="991.6" font-size="34">yx</text>
<text x="1336.5" y="1050.3" font-size="35.5">R</text>
<text x="1362.43" y="1037.8" font-size="34">b</text>
<text x="1362.43" y="1058.1" font-size="34">yy</text>
<text x="1336.5" y="1116.8" font-size="35.5">R</text>
<text x="1362.43" y="1104.3" font-size="34">b</text>
<text x="1362.43" y="1124.6" font-size="34">xy</text>
</g>
</svg>
</body></html>
